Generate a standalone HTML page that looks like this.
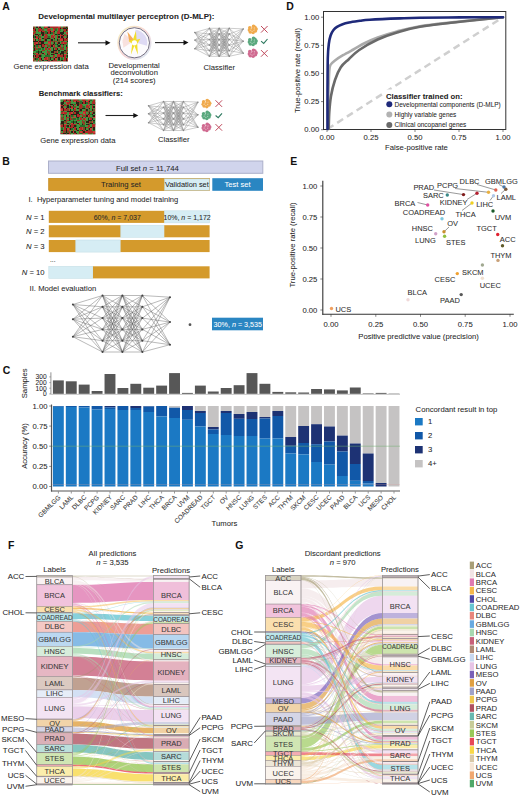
<!DOCTYPE html>
<html><head><meta charset="utf-8"><style>html,body{margin:0;padding:0;background:#fff;width:520px;height:797px;overflow:hidden}svg{display:block}text{font-family:"Liberation Sans",sans-serif;stroke:#2a2a2a;stroke-width:0.05px} text.w{stroke:#fff}</style></head>
<body><svg width="520" height="797" viewBox="0 0 520 797" font-family="Liberation Sans, sans-serif">
<defs>
<pattern id="hm" patternUnits="userSpaceOnUse" x="0" y="0" width="35" height="35"><path fill="#b02c26" shape-rendering="crispEdges" d="M0.00,0.00h1.49v1.49h-1.49zM0.00,7.29h1.49v1.49h-1.49zM0.00,8.75h1.49v1.49h-1.49zM0.00,11.67h1.49v1.49h-1.49zM0.00,13.12h1.49v1.49h-1.49zM0.00,21.88h1.49v1.49h-1.49zM0.00,30.62h1.49v1.49h-1.49zM1.46,1.46h1.49v1.49h-1.49zM1.46,18.96h1.49v1.49h-1.49zM1.46,20.42h1.49v1.49h-1.49zM1.46,21.88h1.49v1.49h-1.49zM2.92,10.21h1.49v1.49h-1.49zM2.92,18.96h1.49v1.49h-1.49zM2.92,24.79h1.49v1.49h-1.49zM2.92,29.17h1.49v1.49h-1.49zM2.92,33.54h1.49v1.49h-1.49zM4.38,4.38h1.49v1.49h-1.49zM4.38,7.29h1.49v1.49h-1.49zM4.38,18.96h1.49v1.49h-1.49zM4.38,21.88h1.49v1.49h-1.49zM4.38,23.33h1.49v1.49h-1.49zM4.38,27.71h1.49v1.49h-1.49zM4.38,29.17h1.49v1.49h-1.49zM5.83,17.50h1.49v1.49h-1.49zM5.83,24.79h1.49v1.49h-1.49zM5.83,29.17h1.49v1.49h-1.49zM5.83,33.54h1.49v1.49h-1.49zM7.29,8.75h1.49v1.49h-1.49zM7.29,10.21h1.49v1.49h-1.49zM7.29,14.58h1.49v1.49h-1.49zM7.29,30.62h1.49v1.49h-1.49zM8.75,1.46h1.49v1.49h-1.49zM8.75,4.38h1.49v1.49h-1.49zM8.75,5.83h1.49v1.49h-1.49zM8.75,10.21h1.49v1.49h-1.49zM8.75,18.96h1.49v1.49h-1.49zM8.75,26.25h1.49v1.49h-1.49zM8.75,27.71h1.49v1.49h-1.49zM8.75,30.62h1.49v1.49h-1.49zM10.21,0.00h1.49v1.49h-1.49zM10.21,1.46h1.49v1.49h-1.49zM10.21,8.75h1.49v1.49h-1.49zM10.21,13.12h1.49v1.49h-1.49zM10.21,21.88h1.49v1.49h-1.49zM10.21,23.33h1.49v1.49h-1.49zM10.21,33.54h1.49v1.49h-1.49zM11.67,8.75h1.49v1.49h-1.49zM11.67,10.21h1.49v1.49h-1.49zM11.67,16.04h1.49v1.49h-1.49zM11.67,26.25h1.49v1.49h-1.49zM11.67,29.17h1.49v1.49h-1.49zM13.12,5.83h1.49v1.49h-1.49zM13.12,13.12h1.49v1.49h-1.49zM13.12,17.50h1.49v1.49h-1.49zM13.12,24.79h1.49v1.49h-1.49zM13.12,29.17h1.49v1.49h-1.49zM13.12,30.62h1.49v1.49h-1.49zM13.12,32.08h1.49v1.49h-1.49zM14.58,4.38h1.49v1.49h-1.49zM14.58,5.83h1.49v1.49h-1.49zM14.58,7.29h1.49v1.49h-1.49zM14.58,8.75h1.49v1.49h-1.49zM14.58,10.21h1.49v1.49h-1.49zM14.58,14.58h1.49v1.49h-1.49zM14.58,26.25h1.49v1.49h-1.49zM14.58,29.17h1.49v1.49h-1.49zM16.04,0.00h1.49v1.49h-1.49zM16.04,1.46h1.49v1.49h-1.49zM16.04,21.88h1.49v1.49h-1.49zM16.04,26.25h1.49v1.49h-1.49zM17.50,2.92h1.49v1.49h-1.49zM17.50,5.83h1.49v1.49h-1.49zM17.50,17.50h1.49v1.49h-1.49zM17.50,20.42h1.49v1.49h-1.49zM17.50,21.88h1.49v1.49h-1.49zM17.50,24.79h1.49v1.49h-1.49zM17.50,26.25h1.49v1.49h-1.49zM17.50,27.71h1.49v1.49h-1.49zM17.50,30.62h1.49v1.49h-1.49zM17.50,32.08h1.49v1.49h-1.49zM18.96,0.00h1.49v1.49h-1.49zM18.96,10.21h1.49v1.49h-1.49zM18.96,16.04h1.49v1.49h-1.49zM18.96,20.42h1.49v1.49h-1.49zM18.96,26.25h1.49v1.49h-1.49zM18.96,27.71h1.49v1.49h-1.49zM18.96,29.17h1.49v1.49h-1.49zM20.42,5.83h1.49v1.49h-1.49zM20.42,13.12h1.49v1.49h-1.49zM20.42,24.79h1.49v1.49h-1.49zM20.42,26.25h1.49v1.49h-1.49zM21.88,0.00h1.49v1.49h-1.49zM21.88,1.46h1.49v1.49h-1.49zM21.88,2.92h1.49v1.49h-1.49zM21.88,7.29h1.49v1.49h-1.49zM21.88,18.96h1.49v1.49h-1.49zM21.88,20.42h1.49v1.49h-1.49zM21.88,21.88h1.49v1.49h-1.49zM21.88,26.25h1.49v1.49h-1.49zM21.88,32.08h1.49v1.49h-1.49zM23.33,18.96h1.49v1.49h-1.49zM23.33,20.42h1.49v1.49h-1.49zM23.33,27.71h1.49v1.49h-1.49zM23.33,29.17h1.49v1.49h-1.49zM23.33,30.62h1.49v1.49h-1.49zM23.33,32.08h1.49v1.49h-1.49zM24.79,2.92h1.49v1.49h-1.49zM24.79,10.21h1.49v1.49h-1.49zM24.79,11.67h1.49v1.49h-1.49zM24.79,20.42h1.49v1.49h-1.49zM24.79,26.25h1.49v1.49h-1.49zM24.79,33.54h1.49v1.49h-1.49zM26.25,0.00h1.49v1.49h-1.49zM26.25,2.92h1.49v1.49h-1.49zM26.25,7.29h1.49v1.49h-1.49zM26.25,20.42h1.49v1.49h-1.49zM26.25,27.71h1.49v1.49h-1.49zM27.71,1.46h1.49v1.49h-1.49zM27.71,5.83h1.49v1.49h-1.49zM27.71,10.21h1.49v1.49h-1.49zM27.71,13.12h1.49v1.49h-1.49zM27.71,24.79h1.49v1.49h-1.49zM27.71,26.25h1.49v1.49h-1.49zM29.17,0.00h1.49v1.49h-1.49zM29.17,4.38h1.49v1.49h-1.49zM29.17,7.29h1.49v1.49h-1.49zM29.17,20.42h1.49v1.49h-1.49zM29.17,21.88h1.49v1.49h-1.49zM29.17,23.33h1.49v1.49h-1.49zM29.17,24.79h1.49v1.49h-1.49zM29.17,29.17h1.49v1.49h-1.49zM29.17,30.62h1.49v1.49h-1.49zM30.62,4.38h1.49v1.49h-1.49zM30.62,7.29h1.49v1.49h-1.49zM30.62,11.67h1.49v1.49h-1.49zM30.62,13.12h1.49v1.49h-1.49zM30.62,16.04h1.49v1.49h-1.49zM32.08,2.92h1.49v1.49h-1.49zM32.08,11.67h1.49v1.49h-1.49zM32.08,14.58h1.49v1.49h-1.49zM32.08,24.79h1.49v1.49h-1.49zM32.08,29.17h1.49v1.49h-1.49zM32.08,32.08h1.49v1.49h-1.49zM32.08,33.54h1.49v1.49h-1.49zM33.54,7.29h1.49v1.49h-1.49zM33.54,26.25h1.49v1.49h-1.49zM33.54,27.71h1.49v1.49h-1.49zM33.54,29.17h1.49v1.49h-1.49zM33.54,30.62h1.49v1.49h-1.49zM33.54,32.08h1.49v1.49h-1.49z"/><path fill="#43983f" shape-rendering="crispEdges" d="M0.00,2.92h1.49v1.49h-1.49zM0.00,16.04h1.49v1.49h-1.49zM0.00,18.96h1.49v1.49h-1.49zM0.00,26.25h1.49v1.49h-1.49zM1.46,0.00h1.49v1.49h-1.49zM1.46,4.38h1.49v1.49h-1.49zM1.46,11.67h1.49v1.49h-1.49zM1.46,14.58h1.49v1.49h-1.49zM1.46,24.79h1.49v1.49h-1.49zM1.46,27.71h1.49v1.49h-1.49zM1.46,29.17h1.49v1.49h-1.49zM1.46,30.62h1.49v1.49h-1.49zM1.46,32.08h1.49v1.49h-1.49zM2.92,23.33h1.49v1.49h-1.49zM2.92,32.08h1.49v1.49h-1.49zM4.38,0.00h1.49v1.49h-1.49zM4.38,10.21h1.49v1.49h-1.49zM4.38,14.58h1.49v1.49h-1.49zM4.38,17.50h1.49v1.49h-1.49zM4.38,24.79h1.49v1.49h-1.49zM4.38,32.08h1.49v1.49h-1.49zM5.83,1.46h1.49v1.49h-1.49zM5.83,2.92h1.49v1.49h-1.49zM5.83,4.38h1.49v1.49h-1.49zM5.83,13.12h1.49v1.49h-1.49zM5.83,14.58h1.49v1.49h-1.49zM5.83,18.96h1.49v1.49h-1.49zM5.83,21.88h1.49v1.49h-1.49zM5.83,26.25h1.49v1.49h-1.49zM7.29,1.46h1.49v1.49h-1.49zM7.29,4.38h1.49v1.49h-1.49zM7.29,16.04h1.49v1.49h-1.49zM7.29,18.96h1.49v1.49h-1.49zM7.29,20.42h1.49v1.49h-1.49zM7.29,21.88h1.49v1.49h-1.49zM7.29,23.33h1.49v1.49h-1.49zM7.29,26.25h1.49v1.49h-1.49zM7.29,27.71h1.49v1.49h-1.49zM8.75,0.00h1.49v1.49h-1.49zM8.75,7.29h1.49v1.49h-1.49zM8.75,11.67h1.49v1.49h-1.49zM8.75,13.12h1.49v1.49h-1.49zM8.75,16.04h1.49v1.49h-1.49zM8.75,20.42h1.49v1.49h-1.49zM8.75,24.79h1.49v1.49h-1.49zM8.75,29.17h1.49v1.49h-1.49zM10.21,7.29h1.49v1.49h-1.49zM10.21,10.21h1.49v1.49h-1.49zM10.21,14.58h1.49v1.49h-1.49zM10.21,16.04h1.49v1.49h-1.49zM10.21,17.50h1.49v1.49h-1.49zM10.21,18.96h1.49v1.49h-1.49zM10.21,29.17h1.49v1.49h-1.49zM11.67,4.38h1.49v1.49h-1.49zM11.67,5.83h1.49v1.49h-1.49zM11.67,7.29h1.49v1.49h-1.49zM11.67,13.12h1.49v1.49h-1.49zM11.67,30.62h1.49v1.49h-1.49zM11.67,33.54h1.49v1.49h-1.49zM13.12,0.00h1.49v1.49h-1.49zM13.12,4.38h1.49v1.49h-1.49zM13.12,8.75h1.49v1.49h-1.49zM13.12,11.67h1.49v1.49h-1.49zM13.12,14.58h1.49v1.49h-1.49zM13.12,33.54h1.49v1.49h-1.49zM14.58,0.00h1.49v1.49h-1.49zM14.58,1.46h1.49v1.49h-1.49zM14.58,16.04h1.49v1.49h-1.49zM14.58,17.50h1.49v1.49h-1.49zM14.58,18.96h1.49v1.49h-1.49zM14.58,20.42h1.49v1.49h-1.49zM14.58,24.79h1.49v1.49h-1.49zM14.58,27.71h1.49v1.49h-1.49zM14.58,33.54h1.49v1.49h-1.49zM16.04,2.92h1.49v1.49h-1.49zM16.04,7.29h1.49v1.49h-1.49zM16.04,11.67h1.49v1.49h-1.49zM16.04,13.12h1.49v1.49h-1.49zM16.04,14.58h1.49v1.49h-1.49zM16.04,17.50h1.49v1.49h-1.49zM16.04,20.42h1.49v1.49h-1.49zM16.04,23.33h1.49v1.49h-1.49zM16.04,27.71h1.49v1.49h-1.49zM16.04,29.17h1.49v1.49h-1.49zM16.04,33.54h1.49v1.49h-1.49zM17.50,4.38h1.49v1.49h-1.49zM18.96,13.12h1.49v1.49h-1.49zM18.96,21.88h1.49v1.49h-1.49zM18.96,33.54h1.49v1.49h-1.49zM20.42,0.00h1.49v1.49h-1.49zM20.42,1.46h1.49v1.49h-1.49zM20.42,2.92h1.49v1.49h-1.49zM20.42,4.38h1.49v1.49h-1.49zM20.42,7.29h1.49v1.49h-1.49zM20.42,10.21h1.49v1.49h-1.49zM20.42,18.96h1.49v1.49h-1.49zM20.42,20.42h1.49v1.49h-1.49zM20.42,30.62h1.49v1.49h-1.49zM20.42,32.08h1.49v1.49h-1.49zM21.88,5.83h1.49v1.49h-1.49zM21.88,11.67h1.49v1.49h-1.49zM21.88,14.58h1.49v1.49h-1.49zM21.88,23.33h1.49v1.49h-1.49zM21.88,24.79h1.49v1.49h-1.49zM21.88,27.71h1.49v1.49h-1.49zM21.88,29.17h1.49v1.49h-1.49zM23.33,0.00h1.49v1.49h-1.49zM23.33,2.92h1.49v1.49h-1.49zM23.33,8.75h1.49v1.49h-1.49zM23.33,13.12h1.49v1.49h-1.49zM23.33,17.50h1.49v1.49h-1.49zM24.79,5.83h1.49v1.49h-1.49zM24.79,7.29h1.49v1.49h-1.49zM24.79,14.58h1.49v1.49h-1.49zM24.79,16.04h1.49v1.49h-1.49zM24.79,21.88h1.49v1.49h-1.49zM24.79,23.33h1.49v1.49h-1.49zM24.79,24.79h1.49v1.49h-1.49zM24.79,30.62h1.49v1.49h-1.49zM26.25,10.21h1.49v1.49h-1.49zM26.25,14.58h1.49v1.49h-1.49zM26.25,26.25h1.49v1.49h-1.49zM26.25,29.17h1.49v1.49h-1.49zM26.25,30.62h1.49v1.49h-1.49zM27.71,14.58h1.49v1.49h-1.49zM27.71,21.88h1.49v1.49h-1.49zM27.71,23.33h1.49v1.49h-1.49zM27.71,33.54h1.49v1.49h-1.49zM29.17,1.46h1.49v1.49h-1.49zM29.17,5.83h1.49v1.49h-1.49zM29.17,10.21h1.49v1.49h-1.49zM29.17,11.67h1.49v1.49h-1.49zM29.17,13.12h1.49v1.49h-1.49zM29.17,17.50h1.49v1.49h-1.49zM29.17,32.08h1.49v1.49h-1.49zM30.62,5.83h1.49v1.49h-1.49zM30.62,8.75h1.49v1.49h-1.49zM30.62,21.88h1.49v1.49h-1.49zM30.62,30.62h1.49v1.49h-1.49zM30.62,33.54h1.49v1.49h-1.49zM32.08,7.29h1.49v1.49h-1.49zM32.08,8.75h1.49v1.49h-1.49zM32.08,10.21h1.49v1.49h-1.49zM32.08,13.12h1.49v1.49h-1.49zM32.08,16.04h1.49v1.49h-1.49zM32.08,18.96h1.49v1.49h-1.49zM32.08,30.62h1.49v1.49h-1.49zM33.54,0.00h1.49v1.49h-1.49zM33.54,2.92h1.49v1.49h-1.49zM33.54,16.04h1.49v1.49h-1.49zM33.54,21.88h1.49v1.49h-1.49zM33.54,24.79h1.49v1.49h-1.49zM33.54,33.54h1.49v1.49h-1.49z"/><path fill="#2c2418" shape-rendering="crispEdges" d="M0.00,1.46h1.49v1.49h-1.49zM0.00,4.38h1.49v1.49h-1.49zM0.00,5.83h1.49v1.49h-1.49zM0.00,20.42h1.49v1.49h-1.49zM0.00,23.33h1.49v1.49h-1.49zM0.00,29.17h1.49v1.49h-1.49zM0.00,33.54h1.49v1.49h-1.49zM1.46,5.83h1.49v1.49h-1.49zM1.46,8.75h1.49v1.49h-1.49zM1.46,26.25h1.49v1.49h-1.49zM1.46,33.54h1.49v1.49h-1.49zM2.92,0.00h1.49v1.49h-1.49zM2.92,2.92h1.49v1.49h-1.49zM2.92,8.75h1.49v1.49h-1.49zM2.92,16.04h1.49v1.49h-1.49zM2.92,17.50h1.49v1.49h-1.49zM2.92,21.88h1.49v1.49h-1.49zM4.38,5.83h1.49v1.49h-1.49zM4.38,8.75h1.49v1.49h-1.49zM4.38,20.42h1.49v1.49h-1.49zM4.38,26.25h1.49v1.49h-1.49zM5.83,5.83h1.49v1.49h-1.49zM5.83,7.29h1.49v1.49h-1.49zM5.83,8.75h1.49v1.49h-1.49zM5.83,10.21h1.49v1.49h-1.49zM5.83,16.04h1.49v1.49h-1.49zM5.83,23.33h1.49v1.49h-1.49zM5.83,27.71h1.49v1.49h-1.49zM5.83,30.62h1.49v1.49h-1.49zM5.83,32.08h1.49v1.49h-1.49zM7.29,0.00h1.49v1.49h-1.49zM7.29,2.92h1.49v1.49h-1.49zM7.29,5.83h1.49v1.49h-1.49zM7.29,7.29h1.49v1.49h-1.49zM7.29,11.67h1.49v1.49h-1.49zM7.29,17.50h1.49v1.49h-1.49zM7.29,24.79h1.49v1.49h-1.49zM7.29,32.08h1.49v1.49h-1.49zM7.29,33.54h1.49v1.49h-1.49zM8.75,8.75h1.49v1.49h-1.49zM8.75,21.88h1.49v1.49h-1.49zM10.21,4.38h1.49v1.49h-1.49zM11.67,2.92h1.49v1.49h-1.49zM11.67,11.67h1.49v1.49h-1.49zM11.67,18.96h1.49v1.49h-1.49zM11.67,24.79h1.49v1.49h-1.49zM11.67,32.08h1.49v1.49h-1.49zM13.12,2.92h1.49v1.49h-1.49zM13.12,26.25h1.49v1.49h-1.49zM14.58,21.88h1.49v1.49h-1.49zM14.58,23.33h1.49v1.49h-1.49zM14.58,30.62h1.49v1.49h-1.49zM14.58,32.08h1.49v1.49h-1.49zM16.04,4.38h1.49v1.49h-1.49zM16.04,10.21h1.49v1.49h-1.49zM16.04,16.04h1.49v1.49h-1.49zM16.04,18.96h1.49v1.49h-1.49zM16.04,24.79h1.49v1.49h-1.49zM17.50,8.75h1.49v1.49h-1.49zM17.50,13.12h1.49v1.49h-1.49zM17.50,14.58h1.49v1.49h-1.49zM17.50,16.04h1.49v1.49h-1.49zM17.50,18.96h1.49v1.49h-1.49zM18.96,2.92h1.49v1.49h-1.49zM18.96,7.29h1.49v1.49h-1.49zM18.96,14.58h1.49v1.49h-1.49zM18.96,23.33h1.49v1.49h-1.49zM18.96,30.62h1.49v1.49h-1.49zM20.42,14.58h1.49v1.49h-1.49zM20.42,17.50h1.49v1.49h-1.49zM20.42,21.88h1.49v1.49h-1.49zM20.42,33.54h1.49v1.49h-1.49zM21.88,4.38h1.49v1.49h-1.49zM21.88,8.75h1.49v1.49h-1.49zM21.88,13.12h1.49v1.49h-1.49zM21.88,17.50h1.49v1.49h-1.49zM23.33,1.46h1.49v1.49h-1.49zM23.33,7.29h1.49v1.49h-1.49zM23.33,10.21h1.49v1.49h-1.49zM23.33,14.58h1.49v1.49h-1.49zM23.33,21.88h1.49v1.49h-1.49zM23.33,23.33h1.49v1.49h-1.49zM23.33,33.54h1.49v1.49h-1.49zM24.79,8.75h1.49v1.49h-1.49zM24.79,17.50h1.49v1.49h-1.49zM24.79,18.96h1.49v1.49h-1.49zM24.79,27.71h1.49v1.49h-1.49zM24.79,32.08h1.49v1.49h-1.49zM26.25,1.46h1.49v1.49h-1.49zM26.25,16.04h1.49v1.49h-1.49zM26.25,17.50h1.49v1.49h-1.49zM26.25,24.79h1.49v1.49h-1.49zM26.25,32.08h1.49v1.49h-1.49zM26.25,33.54h1.49v1.49h-1.49zM27.71,0.00h1.49v1.49h-1.49zM27.71,2.92h1.49v1.49h-1.49zM27.71,4.38h1.49v1.49h-1.49zM27.71,8.75h1.49v1.49h-1.49zM27.71,16.04h1.49v1.49h-1.49zM27.71,17.50h1.49v1.49h-1.49zM27.71,18.96h1.49v1.49h-1.49zM27.71,20.42h1.49v1.49h-1.49zM27.71,27.71h1.49v1.49h-1.49zM27.71,30.62h1.49v1.49h-1.49zM27.71,32.08h1.49v1.49h-1.49zM29.17,14.58h1.49v1.49h-1.49zM29.17,27.71h1.49v1.49h-1.49zM30.62,2.92h1.49v1.49h-1.49zM30.62,10.21h1.49v1.49h-1.49zM30.62,23.33h1.49v1.49h-1.49zM30.62,24.79h1.49v1.49h-1.49zM30.62,26.25h1.49v1.49h-1.49zM30.62,29.17h1.49v1.49h-1.49zM32.08,0.00h1.49v1.49h-1.49zM32.08,1.46h1.49v1.49h-1.49zM32.08,5.83h1.49v1.49h-1.49zM32.08,17.50h1.49v1.49h-1.49zM32.08,20.42h1.49v1.49h-1.49zM32.08,27.71h1.49v1.49h-1.49zM33.54,5.83h1.49v1.49h-1.49zM33.54,10.21h1.49v1.49h-1.49zM33.54,13.12h1.49v1.49h-1.49zM33.54,14.58h1.49v1.49h-1.49z"/><path fill="#6e5428" shape-rendering="crispEdges" d="M0.00,10.21h1.49v1.49h-1.49zM0.00,17.50h1.49v1.49h-1.49zM0.00,27.71h1.49v1.49h-1.49zM0.00,32.08h1.49v1.49h-1.49zM1.46,13.12h1.49v1.49h-1.49zM2.92,20.42h1.49v1.49h-1.49zM2.92,30.62h1.49v1.49h-1.49zM4.38,1.46h1.49v1.49h-1.49zM7.29,29.17h1.49v1.49h-1.49zM8.75,2.92h1.49v1.49h-1.49zM8.75,14.58h1.49v1.49h-1.49zM8.75,32.08h1.49v1.49h-1.49zM8.75,33.54h1.49v1.49h-1.49zM10.21,2.92h1.49v1.49h-1.49zM10.21,5.83h1.49v1.49h-1.49zM10.21,11.67h1.49v1.49h-1.49zM11.67,0.00h1.49v1.49h-1.49zM11.67,1.46h1.49v1.49h-1.49zM11.67,14.58h1.49v1.49h-1.49zM11.67,27.71h1.49v1.49h-1.49zM13.12,10.21h1.49v1.49h-1.49zM13.12,16.04h1.49v1.49h-1.49zM13.12,18.96h1.49v1.49h-1.49zM13.12,21.88h1.49v1.49h-1.49zM13.12,23.33h1.49v1.49h-1.49zM14.58,2.92h1.49v1.49h-1.49zM16.04,5.83h1.49v1.49h-1.49zM16.04,8.75h1.49v1.49h-1.49zM17.50,1.46h1.49v1.49h-1.49zM17.50,7.29h1.49v1.49h-1.49zM17.50,11.67h1.49v1.49h-1.49zM17.50,23.33h1.49v1.49h-1.49zM18.96,4.38h1.49v1.49h-1.49zM18.96,8.75h1.49v1.49h-1.49zM18.96,11.67h1.49v1.49h-1.49zM18.96,17.50h1.49v1.49h-1.49zM18.96,24.79h1.49v1.49h-1.49zM18.96,32.08h1.49v1.49h-1.49zM20.42,11.67h1.49v1.49h-1.49zM20.42,16.04h1.49v1.49h-1.49zM20.42,27.71h1.49v1.49h-1.49zM21.88,30.62h1.49v1.49h-1.49zM23.33,4.38h1.49v1.49h-1.49zM23.33,5.83h1.49v1.49h-1.49zM24.79,13.12h1.49v1.49h-1.49zM26.25,11.67h1.49v1.49h-1.49zM26.25,13.12h1.49v1.49h-1.49zM26.25,18.96h1.49v1.49h-1.49zM26.25,21.88h1.49v1.49h-1.49zM27.71,29.17h1.49v1.49h-1.49zM29.17,8.75h1.49v1.49h-1.49zM29.17,16.04h1.49v1.49h-1.49zM29.17,26.25h1.49v1.49h-1.49zM29.17,33.54h1.49v1.49h-1.49zM30.62,0.00h1.49v1.49h-1.49zM30.62,1.46h1.49v1.49h-1.49zM30.62,14.58h1.49v1.49h-1.49zM30.62,17.50h1.49v1.49h-1.49zM32.08,4.38h1.49v1.49h-1.49zM32.08,26.25h1.49v1.49h-1.49zM33.54,17.50h1.49v1.49h-1.49zM33.54,23.33h1.49v1.49h-1.49z"/><path fill="#cc3e34" shape-rendering="crispEdges" d="M0.00,24.79h1.49v1.49h-1.49zM1.46,2.92h1.49v1.49h-1.49zM1.46,7.29h1.49v1.49h-1.49zM1.46,17.50h1.49v1.49h-1.49zM2.92,5.83h1.49v1.49h-1.49zM2.92,11.67h1.49v1.49h-1.49zM2.92,26.25h1.49v1.49h-1.49zM4.38,2.92h1.49v1.49h-1.49zM4.38,11.67h1.49v1.49h-1.49zM4.38,30.62h1.49v1.49h-1.49zM5.83,0.00h1.49v1.49h-1.49zM8.75,17.50h1.49v1.49h-1.49zM8.75,23.33h1.49v1.49h-1.49zM10.21,26.25h1.49v1.49h-1.49zM11.67,21.88h1.49v1.49h-1.49zM11.67,23.33h1.49v1.49h-1.49zM13.12,7.29h1.49v1.49h-1.49zM13.12,27.71h1.49v1.49h-1.49zM14.58,13.12h1.49v1.49h-1.49zM16.04,30.62h1.49v1.49h-1.49zM17.50,0.00h1.49v1.49h-1.49zM17.50,10.21h1.49v1.49h-1.49zM17.50,29.17h1.49v1.49h-1.49zM17.50,33.54h1.49v1.49h-1.49zM18.96,1.46h1.49v1.49h-1.49zM20.42,23.33h1.49v1.49h-1.49zM21.88,16.04h1.49v1.49h-1.49zM23.33,11.67h1.49v1.49h-1.49zM23.33,26.25h1.49v1.49h-1.49zM24.79,0.00h1.49v1.49h-1.49zM24.79,1.46h1.49v1.49h-1.49zM24.79,4.38h1.49v1.49h-1.49zM26.25,4.38h1.49v1.49h-1.49zM27.71,7.29h1.49v1.49h-1.49zM29.17,2.92h1.49v1.49h-1.49zM29.17,18.96h1.49v1.49h-1.49zM30.62,18.96h1.49v1.49h-1.49zM30.62,32.08h1.49v1.49h-1.49zM32.08,23.33h1.49v1.49h-1.49zM33.54,4.38h1.49v1.49h-1.49zM33.54,8.75h1.49v1.49h-1.49zM33.54,20.42h1.49v1.49h-1.49z"/><path fill="#2c6e2c" shape-rendering="crispEdges" d="M0.00,14.58h1.49v1.49h-1.49zM1.46,10.21h1.49v1.49h-1.49zM1.46,16.04h1.49v1.49h-1.49zM1.46,23.33h1.49v1.49h-1.49zM2.92,1.46h1.49v1.49h-1.49zM2.92,4.38h1.49v1.49h-1.49zM2.92,7.29h1.49v1.49h-1.49zM2.92,13.12h1.49v1.49h-1.49zM2.92,14.58h1.49v1.49h-1.49zM2.92,27.71h1.49v1.49h-1.49zM4.38,13.12h1.49v1.49h-1.49zM4.38,16.04h1.49v1.49h-1.49zM4.38,33.54h1.49v1.49h-1.49zM5.83,11.67h1.49v1.49h-1.49zM5.83,20.42h1.49v1.49h-1.49zM7.29,13.12h1.49v1.49h-1.49zM10.21,20.42h1.49v1.49h-1.49zM10.21,24.79h1.49v1.49h-1.49zM10.21,27.71h1.49v1.49h-1.49zM10.21,30.62h1.49v1.49h-1.49zM10.21,32.08h1.49v1.49h-1.49zM11.67,17.50h1.49v1.49h-1.49zM11.67,20.42h1.49v1.49h-1.49zM13.12,1.46h1.49v1.49h-1.49zM13.12,20.42h1.49v1.49h-1.49zM14.58,11.67h1.49v1.49h-1.49zM16.04,32.08h1.49v1.49h-1.49zM18.96,5.83h1.49v1.49h-1.49zM18.96,18.96h1.49v1.49h-1.49zM20.42,8.75h1.49v1.49h-1.49zM20.42,29.17h1.49v1.49h-1.49zM21.88,10.21h1.49v1.49h-1.49zM21.88,33.54h1.49v1.49h-1.49zM23.33,16.04h1.49v1.49h-1.49zM23.33,24.79h1.49v1.49h-1.49zM24.79,29.17h1.49v1.49h-1.49zM26.25,5.83h1.49v1.49h-1.49zM26.25,8.75h1.49v1.49h-1.49zM26.25,23.33h1.49v1.49h-1.49zM27.71,11.67h1.49v1.49h-1.49zM30.62,20.42h1.49v1.49h-1.49zM30.62,27.71h1.49v1.49h-1.49zM32.08,21.88h1.49v1.49h-1.49zM33.54,1.46h1.49v1.49h-1.49zM33.54,11.67h1.49v1.49h-1.49zM33.54,18.96h1.49v1.49h-1.49z"/></pattern>
<filter id="bl" x="-0.05" y="-0.05" width="1.1" height="1.1"><feGaussianBlur stdDeviation="0.35"/></filter>
<linearGradient id="glow" x1="0" y1="0" x2="1" y2="1"><stop offset="0" stop-color="#e8e070"/><stop offset="0.5" stop-color="#f0a0a0"/><stop offset="1" stop-color="#a0d0f0"/></linearGradient>
</defs>
<text x="2.2" y="9.6" font-size="10.45" font-weight="bold" fill="#111">A</text>
<text x="38.2" y="19.4" font-size="7.99" font-weight="bold" fill="#222">Developmental multilayer perceptron (D-MLP):</text>
<rect x="33" y="26.5" width="35" height="35" fill="url(#hm)" filter="url(#bl)"/>
<text x="51.1" y="69.2" font-size="7.69" text-anchor="middle" fill="#262626">Gene expression data</text>
<line x1="78.0" y1="42.8" x2="106.5" y2="42.8" stroke="#222" stroke-width="1.1"/>
<path d="M105.5,40.2 L110.5,42.8 L105.5,45.4 Z" fill="#111"/>
<g transform="translate(134.4,42.8)">
<circle r="16.3" fill="none" stroke="url(#glow)" stroke-width="1.6" opacity="0.45"/>
<circle r="15.1" fill="#fcfbfd" stroke="#4e4860" stroke-width="0.8"/>
<path d="M1,-13 A13,13 0 0 1 12.5,3 L2,0 Z" fill="#d8d4f2" opacity="0.85"/>
<path d="M-12,-3 L-2,-1 L-11,5 Z M-10,-9 L-2,-2 L-12,0 Z" fill="#f6d6d0" opacity="0.7"/>
<path d="M-7,-11 L-0.5,-3 L-5,-1 Z" fill="#f4a040" opacity="0.85"/>
<path d="M1.5,-12 L2.2,-3 L6,-4 L2.8,1 L3.5,12 L0,3 L-3.5,12 L-2.2,1 L-6,-2 L-1.5,-3 Z" fill="#f2de2a"/>
<circle r="2.6" fill="#fff"/>
</g>
<text x="134.2" y="67.7" font-size="7.69" text-anchor="middle" fill="#262626">Developmental</text>
<text x="134.2" y="75.4" font-size="7.69" text-anchor="middle" fill="#262626">deconvolution</text>
<text x="134.2" y="83.1" font-size="7.69" text-anchor="middle" fill="#262626">(214 scores)</text>
<line x1="155.0" y1="42.6" x2="184.5" y2="42.6" stroke="#222" stroke-width="1.1"/>
<path d="M183.5,40.0 L188.5,42.6 L183.5,45.2 Z" fill="#111"/>
<path d="M194.8,32.5L209.4,28.3M194.8,32.5L209.4,33.9M194.8,32.5L209.4,39.5M194.8,32.5L209.4,45.1M194.8,32.5L209.4,50.7M194.8,32.5L209.4,56.3M194.8,40.1L209.4,28.3M194.8,40.1L209.4,33.9M194.8,40.1L209.4,39.5M194.8,40.1L209.4,45.1M194.8,40.1L209.4,50.7M194.8,40.1L209.4,56.3M194.8,48.7L209.4,28.3M194.8,48.7L209.4,33.9M194.8,48.7L209.4,39.5M194.8,48.7L209.4,45.1M194.8,48.7L209.4,50.7M194.8,48.7L209.4,56.3M209.4,28.3L219.2,28.3M209.4,28.3L219.2,33.9M209.4,28.3L219.2,39.5M209.4,28.3L219.2,45.1M209.4,28.3L219.2,50.7M209.4,28.3L219.2,56.3M209.4,33.9L219.2,28.3M209.4,33.9L219.2,33.9M209.4,33.9L219.2,39.5M209.4,33.9L219.2,45.1M209.4,33.9L219.2,50.7M209.4,33.9L219.2,56.3M209.4,39.5L219.2,28.3M209.4,39.5L219.2,33.9M209.4,39.5L219.2,39.5M209.4,39.5L219.2,45.1M209.4,39.5L219.2,50.7M209.4,39.5L219.2,56.3M209.4,45.1L219.2,28.3M209.4,45.1L219.2,33.9M209.4,45.1L219.2,39.5M209.4,45.1L219.2,45.1M209.4,45.1L219.2,50.7M209.4,45.1L219.2,56.3M209.4,50.7L219.2,28.3M209.4,50.7L219.2,33.9M209.4,50.7L219.2,39.5M209.4,50.7L219.2,45.1M209.4,50.7L219.2,50.7M209.4,50.7L219.2,56.3M209.4,56.3L219.2,28.3M209.4,56.3L219.2,33.9M209.4,56.3L219.2,39.5M209.4,56.3L219.2,45.1M209.4,56.3L219.2,50.7M209.4,56.3L219.2,56.3M219.2,28.3L229.3,28.3M219.2,28.3L229.3,33.9M219.2,28.3L229.3,39.5M219.2,28.3L229.3,45.1M219.2,28.3L229.3,50.7M219.2,28.3L229.3,56.3M219.2,33.9L229.3,28.3M219.2,33.9L229.3,33.9M219.2,33.9L229.3,39.5M219.2,33.9L229.3,45.1M219.2,33.9L229.3,50.7M219.2,33.9L229.3,56.3M219.2,39.5L229.3,28.3M219.2,39.5L229.3,33.9M219.2,39.5L229.3,39.5M219.2,39.5L229.3,45.1M219.2,39.5L229.3,50.7M219.2,39.5L229.3,56.3M219.2,45.1L229.3,28.3M219.2,45.1L229.3,33.9M219.2,45.1L229.3,39.5M219.2,45.1L229.3,45.1M219.2,45.1L229.3,50.7M219.2,45.1L229.3,56.3M219.2,50.7L229.3,28.3M219.2,50.7L229.3,33.9M219.2,50.7L229.3,39.5M219.2,50.7L229.3,45.1M219.2,50.7L229.3,50.7M219.2,50.7L229.3,56.3M219.2,56.3L229.3,28.3M219.2,56.3L229.3,33.9M219.2,56.3L229.3,39.5M219.2,56.3L229.3,45.1M219.2,56.3L229.3,50.7M219.2,56.3L229.3,56.3M229.3,28.3L243.3,28.9M229.3,28.3L243.3,41.2M229.3,28.3L243.3,53.2M229.3,33.9L243.3,28.9M229.3,33.9L243.3,41.2M229.3,33.9L243.3,53.2M229.3,39.5L243.3,28.9M229.3,39.5L243.3,41.2M229.3,39.5L243.3,53.2M229.3,45.1L243.3,28.9M229.3,45.1L243.3,41.2M229.3,45.1L243.3,53.2M229.3,50.7L243.3,28.9M229.3,50.7L243.3,41.2M229.3,50.7L243.3,53.2M229.3,56.3L243.3,28.9M229.3,56.3L243.3,41.2M229.3,56.3L243.3,53.2" stroke="#8c8c8c" stroke-width="0.45" fill="none"/>
<g fill="#888"><circle cx="194.8" cy="32.5" r="0.7"/><circle cx="194.8" cy="40.1" r="0.7"/><circle cx="194.8" cy="48.7" r="0.7"/><circle cx="209.4" cy="28.3" r="0.7"/><circle cx="209.4" cy="33.9" r="0.7"/><circle cx="209.4" cy="39.5" r="0.7"/><circle cx="209.4" cy="45.1" r="0.7"/><circle cx="209.4" cy="50.7" r="0.7"/><circle cx="209.4" cy="56.3" r="0.7"/><circle cx="219.2" cy="28.3" r="0.7"/><circle cx="219.2" cy="33.9" r="0.7"/><circle cx="219.2" cy="39.5" r="0.7"/><circle cx="219.2" cy="45.1" r="0.7"/><circle cx="219.2" cy="50.7" r="0.7"/><circle cx="219.2" cy="56.3" r="0.7"/><circle cx="229.3" cy="28.3" r="0.7"/><circle cx="229.3" cy="33.9" r="0.7"/><circle cx="229.3" cy="39.5" r="0.7"/><circle cx="229.3" cy="45.1" r="0.7"/><circle cx="229.3" cy="50.7" r="0.7"/><circle cx="229.3" cy="56.3" r="0.7"/><circle cx="243.3" cy="28.9" r="0.7"/><circle cx="243.3" cy="41.2" r="0.7"/><circle cx="243.3" cy="53.2" r="0.7"/></g>
<text x="219.3" y="69.7" font-size="7.69" text-anchor="middle" fill="#262626">Classifier</text>
<g fill="#f0aa4c"><circle cx="252.6" cy="29.6" r="1.8"/><circle cx="249.8" cy="27.8" r="1.8"/><circle cx="254.9" cy="27.3" r="1.8"/><circle cx="255.4" cy="31.0" r="1.8"/><circle cx="250.3" cy="31.9" r="1.8"/><circle cx="253.1" cy="32.5" r="1.8"/><circle cx="249.4" cy="30.1" r="1.8"/><circle cx="253.5" cy="26.4" r="1.8"/><circle cx="256.1" cy="29.1" r="1.8"/></g>
<g fill="#fff" opacity="0.45"><circle cx="251.2" cy="28.7" r="0.6"/><circle cx="254.0" cy="30.3" r="0.6"/><circle cx="252.1" cy="31.4" r="0.6"/><circle cx="254.4" cy="27.9" r="0.6"/><circle cx="250.3" cy="30.3" r="0.6"/></g>
<g fill="#5aa87e"><circle cx="252.6" cy="41.6" r="1.8"/><circle cx="249.8" cy="39.8" r="1.8"/><circle cx="254.9" cy="39.3" r="1.8"/><circle cx="255.4" cy="43.0" r="1.8"/><circle cx="250.3" cy="43.9" r="1.8"/><circle cx="253.1" cy="44.5" r="1.8"/><circle cx="249.4" cy="42.1" r="1.8"/><circle cx="253.5" cy="38.4" r="1.8"/><circle cx="256.1" cy="41.1" r="1.8"/></g>
<g fill="#fff" opacity="0.45"><circle cx="251.2" cy="40.7" r="0.6"/><circle cx="254.0" cy="42.3" r="0.6"/><circle cx="252.1" cy="43.4" r="0.6"/><circle cx="254.4" cy="39.9" r="0.6"/><circle cx="250.3" cy="42.3" r="0.6"/></g>
<g fill="#d06a90"><circle cx="252.6" cy="53.4" r="1.8"/><circle cx="249.8" cy="51.6" r="1.8"/><circle cx="254.9" cy="51.1" r="1.8"/><circle cx="255.4" cy="54.8" r="1.8"/><circle cx="250.3" cy="55.7" r="1.8"/><circle cx="253.1" cy="56.3" r="1.8"/><circle cx="249.4" cy="53.9" r="1.8"/><circle cx="253.5" cy="50.2" r="1.8"/><circle cx="256.1" cy="52.9" r="1.8"/></g>
<g fill="#fff" opacity="0.45"><circle cx="251.2" cy="52.5" r="0.6"/><circle cx="254.0" cy="54.1" r="0.6"/><circle cx="252.1" cy="55.2" r="0.6"/><circle cx="254.4" cy="51.7" r="0.6"/><circle cx="250.3" cy="54.1" r="0.6"/></g>
<path d="M261.0,26.0L267.6,32.6M267.6,26.0L261.0,32.6" stroke="#c04a5c" stroke-width="1.0" fill="none"/>
<path d="M261.1,41.2L263.7,43.4L267.5,39.0" stroke="#2f7a60" stroke-width="1.1" fill="none"/>
<path d="M261.0,50.1L267.6,56.7M267.6,50.1L261.0,56.7" stroke="#c04a5c" stroke-width="1.0" fill="none"/>
<text x="38.7" y="95.6" font-size="7.69" font-weight="bold" fill="#222">Benchmark classifiers:</text>
<rect x="60.4" y="99.4" width="35" height="35" fill="url(#hm)" filter="url(#bl)"/>
<text x="77.8" y="142.6" font-size="7.69" text-anchor="middle" fill="#262626">Gene expression data</text>
<line x1="105.5" y1="115.5" x2="134.3" y2="115.5" stroke="#222" stroke-width="1.1"/>
<path d="M133.3,112.9 L138.3,115.5 L133.3,118.1 Z" fill="#111"/>
<path d="M148.5,105.8L163.5,101.5M148.5,105.8L163.5,107.3M148.5,105.8L163.5,113.1M148.5,105.8L163.5,118.9M148.5,105.8L163.5,124.7M148.5,105.8L163.5,130.5M148.5,113.7L163.5,101.5M148.5,113.7L163.5,107.3M148.5,113.7L163.5,113.1M148.5,113.7L163.5,118.9M148.5,113.7L163.5,124.7M148.5,113.7L163.5,130.5M148.5,122.7L163.5,101.5M148.5,122.7L163.5,107.3M148.5,122.7L163.5,113.1M148.5,122.7L163.5,118.9M148.5,122.7L163.5,124.7M148.5,122.7L163.5,130.5M163.5,101.5L173.5,101.5M163.5,101.5L173.5,107.3M163.5,101.5L173.5,113.1M163.5,101.5L173.5,118.9M163.5,101.5L173.5,124.7M163.5,101.5L173.5,130.5M163.5,107.3L173.5,101.5M163.5,107.3L173.5,107.3M163.5,107.3L173.5,113.1M163.5,107.3L173.5,118.9M163.5,107.3L173.5,124.7M163.5,107.3L173.5,130.5M163.5,113.1L173.5,101.5M163.5,113.1L173.5,107.3M163.5,113.1L173.5,113.1M163.5,113.1L173.5,118.9M163.5,113.1L173.5,124.7M163.5,113.1L173.5,130.5M163.5,118.9L173.5,101.5M163.5,118.9L173.5,107.3M163.5,118.9L173.5,113.1M163.5,118.9L173.5,118.9M163.5,118.9L173.5,124.7M163.5,118.9L173.5,130.5M163.5,124.7L173.5,101.5M163.5,124.7L173.5,107.3M163.5,124.7L173.5,113.1M163.5,124.7L173.5,118.9M163.5,124.7L173.5,124.7M163.5,124.7L173.5,130.5M163.5,130.5L173.5,101.5M163.5,130.5L173.5,107.3M163.5,130.5L173.5,113.1M163.5,130.5L173.5,118.9M163.5,130.5L173.5,124.7M163.5,130.5L173.5,130.5M173.5,101.5L183.5,101.5M173.5,101.5L183.5,107.3M173.5,101.5L183.5,113.1M173.5,101.5L183.5,118.9M173.5,101.5L183.5,124.7M173.5,101.5L183.5,130.5M173.5,107.3L183.5,101.5M173.5,107.3L183.5,107.3M173.5,107.3L183.5,113.1M173.5,107.3L183.5,118.9M173.5,107.3L183.5,124.7M173.5,107.3L183.5,130.5M173.5,113.1L183.5,101.5M173.5,113.1L183.5,107.3M173.5,113.1L183.5,113.1M173.5,113.1L183.5,118.9M173.5,113.1L183.5,124.7M173.5,113.1L183.5,130.5M173.5,118.9L183.5,101.5M173.5,118.9L183.5,107.3M173.5,118.9L183.5,113.1M173.5,118.9L183.5,118.9M173.5,118.9L183.5,124.7M173.5,118.9L183.5,130.5M173.5,124.7L183.5,101.5M173.5,124.7L183.5,107.3M173.5,124.7L183.5,113.1M173.5,124.7L183.5,118.9M173.5,124.7L183.5,124.7M173.5,124.7L183.5,130.5M173.5,130.5L183.5,101.5M173.5,130.5L183.5,107.3M173.5,130.5L183.5,113.1M173.5,130.5L183.5,118.9M173.5,130.5L183.5,124.7M173.5,130.5L183.5,130.5M183.5,101.5L198.0,102.1M183.5,101.5L198.0,114.8M183.5,101.5L198.0,127.3M183.5,107.3L198.0,102.1M183.5,107.3L198.0,114.8M183.5,107.3L198.0,127.3M183.5,113.1L198.0,102.1M183.5,113.1L198.0,114.8M183.5,113.1L198.0,127.3M183.5,118.9L198.0,102.1M183.5,118.9L198.0,114.8M183.5,118.9L198.0,127.3M183.5,124.7L198.0,102.1M183.5,124.7L198.0,114.8M183.5,124.7L198.0,127.3M183.5,130.5L198.0,102.1M183.5,130.5L198.0,114.8M183.5,130.5L198.0,127.3" stroke="#8c8c8c" stroke-width="0.45" fill="none"/>
<g fill="#888"><circle cx="148.5" cy="105.8" r="0.7"/><circle cx="148.5" cy="113.7" r="0.7"/><circle cx="148.5" cy="122.7" r="0.7"/><circle cx="163.5" cy="101.5" r="0.7"/><circle cx="163.5" cy="107.3" r="0.7"/><circle cx="163.5" cy="113.1" r="0.7"/><circle cx="163.5" cy="118.9" r="0.7"/><circle cx="163.5" cy="124.7" r="0.7"/><circle cx="163.5" cy="130.5" r="0.7"/><circle cx="173.5" cy="101.5" r="0.7"/><circle cx="173.5" cy="107.3" r="0.7"/><circle cx="173.5" cy="113.1" r="0.7"/><circle cx="173.5" cy="118.9" r="0.7"/><circle cx="173.5" cy="124.7" r="0.7"/><circle cx="173.5" cy="130.5" r="0.7"/><circle cx="183.5" cy="101.5" r="0.7"/><circle cx="183.5" cy="107.3" r="0.7"/><circle cx="183.5" cy="113.1" r="0.7"/><circle cx="183.5" cy="118.9" r="0.7"/><circle cx="183.5" cy="124.7" r="0.7"/><circle cx="183.5" cy="130.5" r="0.7"/><circle cx="198.0" cy="102.1" r="0.7"/><circle cx="198.0" cy="114.8" r="0.7"/><circle cx="198.0" cy="127.3" r="0.7"/></g>
<text x="173.8" y="142.2" font-size="7.69" text-anchor="middle" fill="#262626">Classifier</text>
<g fill="#f0aa4c"><circle cx="206.3" cy="103.7" r="1.8"/><circle cx="203.6" cy="101.9" r="1.8"/><circle cx="208.6" cy="101.5" r="1.8"/><circle cx="209.0" cy="105.0" r="1.8"/><circle cx="204.1" cy="106.0" r="1.8"/><circle cx="206.8" cy="106.6" r="1.8"/><circle cx="203.2" cy="104.2" r="1.8"/><circle cx="207.2" cy="100.5" r="1.8"/><circle cx="209.7" cy="103.2" r="1.8"/></g>
<g fill="#fff" opacity="0.45"><circle cx="205.0" cy="102.8" r="0.6"/><circle cx="207.7" cy="104.4" r="0.6"/><circle cx="205.9" cy="105.5" r="0.6"/><circle cx="208.1" cy="102.1" r="0.6"/><circle cx="204.1" cy="104.4" r="0.6"/></g>
<g fill="#5aa87e"><circle cx="206.3" cy="115.6" r="1.8"/><circle cx="203.6" cy="113.8" r="1.8"/><circle cx="208.6" cy="113.3" r="1.8"/><circle cx="209.0" cy="116.9" r="1.8"/><circle cx="204.1" cy="117.8" r="1.8"/><circle cx="206.8" cy="118.5" r="1.8"/><circle cx="203.2" cy="116.0" r="1.8"/><circle cx="207.2" cy="112.4" r="1.8"/><circle cx="209.7" cy="115.1" r="1.8"/></g>
<g fill="#fff" opacity="0.45"><circle cx="205.0" cy="114.7" r="0.6"/><circle cx="207.7" cy="116.3" r="0.6"/><circle cx="205.9" cy="117.4" r="0.6"/><circle cx="208.1" cy="114.0" r="0.6"/><circle cx="204.1" cy="116.3" r="0.6"/></g>
<g fill="#d06a90"><circle cx="206.3" cy="127.5" r="1.8"/><circle cx="203.6" cy="125.7" r="1.8"/><circle cx="208.6" cy="125.2" r="1.8"/><circle cx="209.0" cy="128.8" r="1.8"/><circle cx="204.1" cy="129.8" r="1.8"/><circle cx="206.8" cy="130.4" r="1.8"/><circle cx="203.2" cy="128.0" r="1.8"/><circle cx="207.2" cy="124.3" r="1.8"/><circle cx="209.7" cy="127.0" r="1.8"/></g>
<g fill="#fff" opacity="0.45"><circle cx="205.0" cy="126.6" r="0.6"/><circle cx="207.7" cy="128.2" r="0.6"/><circle cx="205.9" cy="129.3" r="0.6"/><circle cx="208.1" cy="125.9" r="0.6"/><circle cx="204.1" cy="128.2" r="0.6"/></g>
<path d="M215.5,100.3L222.1,106.9M222.1,100.3L215.5,106.9" stroke="#c04a5c" stroke-width="1.0" fill="none"/>
<path d="M215.6,115.5L218.2,117.7L222.0,113.3" stroke="#2f7a60" stroke-width="1.1" fill="none"/>
<path d="M215.5,124.1L222.1,130.7M222.1,124.1L215.5,130.7" stroke="#c04a5c" stroke-width="1.0" fill="none"/>
<text x="2.2" y="165.3" font-size="10.45" font-weight="bold" fill="#111">B</text>
<rect x="48.5" y="161.0" width="214.3" height="12.3" fill="#d0d4ec" stroke="#acb0ca" stroke-width="1"/>
<text x="147.4" y="170.9" font-size="7.69" text-anchor="middle" fill="#262626">Full set <tspan font-style="italic">n</tspan> = 11,744</text>
<rect x="48.7" y="178.4" width="160.6" height="12.1" fill="#d49a2c" stroke="#c68c22" stroke-width="0.8"/>
<rect x="164.6" y="178.9" width="44.6" height="11.3" fill="#d6edf4" stroke="#c0dce4" stroke-width="0.5"/>
<text x="121.0" y="187.2" font-size="7.69" text-anchor="middle" fill="#262626">Training set</text>
<text x="186.9" y="187.2" font-size="7.38" text-anchor="middle" fill="#262626">Validation set</text>
<rect x="212.3" y="178.2" width="50.7" height="12.6" fill="#2a86c2"/>
<text class="w" x="237.6" y="187.3" font-size="7.58" text-anchor="middle" fill="#fff">Test set</text>
<text x="28.5" y="202.3" font-size="7.56" fill="#262626">I.&#160; Hyperparameter tuning and model training</text>
<rect x="48.8" y="210.8" width="115.7" height="12.1" fill="#d49a2c"/>
<rect x="164.5" y="210.8" width="45.1" height="12.1" fill="#d6edf4" stroke="#c0dce4" stroke-width="0.5"/>
<text x="44.6" y="219.5" font-size="7.69" text-anchor="end" fill="#262626"><tspan font-style="italic">N</tspan> = 1</text>
<rect x="48.8" y="225.2" width="72.0" height="12.1" fill="#d49a2c"/>
<rect x="120.8" y="225.2" width="43.5" height="12.1" fill="#d6edf4" stroke="#c0dce4" stroke-width="0.5"/>
<rect x="164.3" y="225.2" width="45.3" height="12.1" fill="#d49a2c"/>
<text x="44.6" y="233.9" font-size="7.69" text-anchor="end" fill="#262626"><tspan font-style="italic">N</tspan> = 2</text>
<rect x="48.8" y="240.0" width="27.0" height="12.1" fill="#d49a2c"/>
<rect x="75.8" y="240.0" width="44.8" height="12.1" fill="#d6edf4" stroke="#c0dce4" stroke-width="0.5"/>
<rect x="120.6" y="240.0" width="89.0" height="12.1" fill="#d49a2c"/>
<text x="44.6" y="248.7" font-size="7.69" text-anchor="end" fill="#262626"><tspan font-style="italic">N</tspan> = 3</text>
<rect x="48.8" y="266.3" width="44.2" height="12.1" fill="#d6edf4" stroke="#c0dce4" stroke-width="0.5"/>
<rect x="93.0" y="266.3" width="116.6" height="12.1" fill="#d49a2c"/>
<text x="44.6" y="275.0" font-size="7.69" text-anchor="end" fill="#262626"><tspan font-style="italic">N</tspan> = 10</text>
<text x="140.8" y="219.5" font-size="6.97" text-anchor="end" fill="#262626">60%, <tspan font-style="italic">n</tspan> = 7,037</text>
<text x="187.1" y="219.5" font-size="6.97" text-anchor="middle" fill="#262626">10%, <tspan font-style="italic">n</tspan> = 1,172</text>
<text x="50.0" y="262.0" font-size="6.66" fill="#262626">...</text>
<text x="29.6" y="291.3" font-size="7.69" fill="#262626">II. Model evaluation</text>
<path d="M72.9,304.5L102.5,295.5M72.9,304.5L102.5,306.8M72.9,304.5L102.5,318.1M72.9,304.5L102.5,329.4M72.9,304.5L102.5,340.7M72.9,304.5L102.5,352.0M72.9,319.2L102.5,295.5M72.9,319.2L102.5,306.8M72.9,319.2L102.5,318.1M72.9,319.2L102.5,329.4M72.9,319.2L102.5,340.7M72.9,319.2L102.5,352.0M72.9,336.7L102.5,295.5M72.9,336.7L102.5,306.8M72.9,336.7L102.5,318.1M72.9,336.7L102.5,329.4M72.9,336.7L102.5,340.7M72.9,336.7L102.5,352.0M102.5,295.5L122.4,295.5M102.5,295.5L122.4,306.8M102.5,295.5L122.4,318.1M102.5,295.5L122.4,329.4M102.5,295.5L122.4,340.7M102.5,295.5L122.4,352.0M102.5,306.8L122.4,295.5M102.5,306.8L122.4,306.8M102.5,306.8L122.4,318.1M102.5,306.8L122.4,329.4M102.5,306.8L122.4,340.7M102.5,306.8L122.4,352.0M102.5,318.1L122.4,295.5M102.5,318.1L122.4,306.8M102.5,318.1L122.4,318.1M102.5,318.1L122.4,329.4M102.5,318.1L122.4,340.7M102.5,318.1L122.4,352.0M102.5,329.4L122.4,295.5M102.5,329.4L122.4,306.8M102.5,329.4L122.4,318.1M102.5,329.4L122.4,329.4M102.5,329.4L122.4,340.7M102.5,329.4L122.4,352.0M102.5,340.7L122.4,295.5M102.5,340.7L122.4,306.8M102.5,340.7L122.4,318.1M102.5,340.7L122.4,329.4M102.5,340.7L122.4,340.7M102.5,340.7L122.4,352.0M102.5,352.0L122.4,295.5M102.5,352.0L122.4,306.8M102.5,352.0L122.4,318.1M102.5,352.0L122.4,329.4M102.5,352.0L122.4,340.7M102.5,352.0L122.4,352.0M122.4,295.5L142.4,295.5M122.4,295.5L142.4,306.8M122.4,295.5L142.4,318.1M122.4,295.5L142.4,329.4M122.4,295.5L142.4,340.7M122.4,295.5L142.4,352.0M122.4,306.8L142.4,295.5M122.4,306.8L142.4,306.8M122.4,306.8L142.4,318.1M122.4,306.8L142.4,329.4M122.4,306.8L142.4,340.7M122.4,306.8L142.4,352.0M122.4,318.1L142.4,295.5M122.4,318.1L142.4,306.8M122.4,318.1L142.4,318.1M122.4,318.1L142.4,329.4M122.4,318.1L142.4,340.7M122.4,318.1L142.4,352.0M122.4,329.4L142.4,295.5M122.4,329.4L142.4,306.8M122.4,329.4L142.4,318.1M122.4,329.4L142.4,329.4M122.4,329.4L142.4,340.7M122.4,329.4L142.4,352.0M122.4,340.7L142.4,295.5M122.4,340.7L142.4,306.8M122.4,340.7L142.4,318.1M122.4,340.7L142.4,329.4M122.4,340.7L142.4,340.7M122.4,340.7L142.4,352.0M122.4,352.0L142.4,295.5M122.4,352.0L142.4,306.8M122.4,352.0L142.4,318.1M122.4,352.0L142.4,329.4M122.4,352.0L142.4,340.7M122.4,352.0L142.4,352.0M142.4,295.5L170.0,297.2M142.4,295.5L170.0,322.1M142.4,295.5L170.0,344.7M142.4,306.8L170.0,297.2M142.4,306.8L170.0,322.1M142.4,306.8L170.0,344.7M142.4,318.1L170.0,297.2M142.4,318.1L170.0,322.1M142.4,318.1L170.0,344.7M142.4,329.4L170.0,297.2M142.4,329.4L170.0,322.1M142.4,329.4L170.0,344.7M142.4,340.7L170.0,297.2M142.4,340.7L170.0,322.1M142.4,340.7L170.0,344.7M142.4,352.0L170.0,297.2M142.4,352.0L170.0,322.1M142.4,352.0L170.0,344.7" stroke="#5a5a5a" stroke-width="0.42" fill="none"/>
<g fill="#444"><circle cx="72.9" cy="304.5" r="1.0"/><circle cx="72.9" cy="319.2" r="1.0"/><circle cx="72.9" cy="336.7" r="1.0"/><circle cx="102.5" cy="295.5" r="1.0"/><circle cx="102.5" cy="306.8" r="1.0"/><circle cx="102.5" cy="318.1" r="1.0"/><circle cx="102.5" cy="329.4" r="1.0"/><circle cx="102.5" cy="340.7" r="1.0"/><circle cx="102.5" cy="352.0" r="1.0"/><circle cx="122.4" cy="295.5" r="1.0"/><circle cx="122.4" cy="306.8" r="1.0"/><circle cx="122.4" cy="318.1" r="1.0"/><circle cx="122.4" cy="329.4" r="1.0"/><circle cx="122.4" cy="340.7" r="1.0"/><circle cx="122.4" cy="352.0" r="1.0"/><circle cx="142.4" cy="295.5" r="1.0"/><circle cx="142.4" cy="306.8" r="1.0"/><circle cx="142.4" cy="318.1" r="1.0"/><circle cx="142.4" cy="329.4" r="1.0"/><circle cx="142.4" cy="340.7" r="1.0"/><circle cx="142.4" cy="352.0" r="1.0"/><circle cx="170.0" cy="297.2" r="1.0"/><circle cx="170.0" cy="322.1" r="1.0"/><circle cx="170.0" cy="344.7" r="1.0"/></g>
<circle cx="190" cy="324.7" r="1.4" fill="#555"/>
<rect x="212.0" y="317.7" width="51.0" height="12.6" fill="#2a86c2"/>
<text class="w" x="237.8" y="326.6" font-size="7.17" text-anchor="middle" fill="#fff">30%, <tspan font-style="italic">n</tspan> = 3,535</text>
<text x="2.8" y="374.0" font-size="10.45" font-weight="bold" fill="#111">C</text>
<line x1="50.9" y1="372.3" x2="50.9" y2="394.3" stroke="#777" stroke-width="0.8"/>
<line x1="49.2" y1="393.9" x2="50.9" y2="393.9" stroke="#777" stroke-width="0.6"/>
<text x="46.6" y="396.3" font-size="6.66" text-anchor="end" fill="#262626">0</text>
<line x1="49.2" y1="388.2" x2="50.9" y2="388.2" stroke="#777" stroke-width="0.6"/>
<text x="46.6" y="390.6" font-size="6.66" text-anchor="end" fill="#262626">100</text>
<line x1="49.2" y1="382.6" x2="50.9" y2="382.6" stroke="#777" stroke-width="0.6"/>
<text x="46.6" y="385.0" font-size="6.66" text-anchor="end" fill="#262626">200</text>
<line x1="49.2" y1="376.9" x2="50.9" y2="376.9" stroke="#777" stroke-width="0.6"/>
<text x="46.6" y="379.3" font-size="6.66" text-anchor="end" fill="#262626">300</text>
<g transform="translate(27.4,383.3) rotate(-90)"><text x="0" y="0" font-size="7.69" text-anchor="middle" fill="#262626">Samples</text></g>
<line x1="51.0" y1="394.4" x2="400.0" y2="394.4" stroke="#c8c8c8" stroke-width="1"/>
<g fill="#575757"><rect x="52.90" y="380.4" width="10.9" height="13.4"/><rect x="65.81" y="381.3" width="10.9" height="12.5"/><rect x="78.72" y="384.6" width="10.9" height="9.2"/><rect x="91.63" y="391.0" width="10.9" height="2.8"/><rect x="104.54" y="374.0" width="10.9" height="19.8"/><rect x="117.45" y="388.0" width="10.9" height="5.8"/><rect x="130.36" y="383.8" width="10.9" height="10.0"/><rect x="143.27" y="387.7" width="10.9" height="6.1"/><rect x="156.18" y="385.6" width="10.9" height="8.2"/><rect x="169.09" y="373.1" width="10.9" height="20.7"/><rect x="182.00" y="392.9" width="10.9" height="0.9"/><rect x="194.91" y="385.6" width="10.9" height="8.2"/><rect x="207.82" y="391.5" width="10.9" height="2.3"/><rect x="220.73" y="388.0" width="10.9" height="5.8"/><rect x="233.64" y="385.2" width="10.9" height="8.6"/><rect x="246.55" y="373.1" width="10.9" height="20.7"/><rect x="259.46" y="383.8" width="10.9" height="10.0"/><rect x="272.37" y="391.9" width="10.9" height="1.9"/><rect x="285.28" y="392.3" width="10.9" height="1.5"/><rect x="298.19" y="392.5" width="10.9" height="1.3"/><rect x="311.10" y="389.0" width="10.9" height="4.8"/><rect x="324.01" y="389.4" width="10.9" height="4.4"/><rect x="336.92" y="390.4" width="10.9" height="3.4"/><rect x="349.83" y="387.5" width="10.9" height="6.3"/><rect x="362.74" y="393.3" width="10.9" height="0.5"/><rect x="375.65" y="392.9" width="10.9" height="0.9"/><rect x="388.56" y="393.5" width="10.9" height="0.3"/></g>
<line x1="51.5" y1="404.5" x2="51.5" y2="491.5" stroke="#555" stroke-width="1.2"/>
<line x1="51.0" y1="491.0" x2="400.0" y2="491.0" stroke="#555" stroke-width="1.2"/>
<line x1="49.2" y1="406.0" x2="51.5" y2="406.0" stroke="#444" stroke-width="0.6"/>
<text x="47.5" y="408.6" font-size="7.69" text-anchor="end" fill="#262626">1.00</text>
<line x1="49.2" y1="426.1" x2="51.5" y2="426.1" stroke="#444" stroke-width="0.6"/>
<text x="47.5" y="428.7" font-size="7.69" text-anchor="end" fill="#262626">0.75</text>
<line x1="49.2" y1="446.2" x2="51.5" y2="446.2" stroke="#444" stroke-width="0.6"/>
<text x="47.5" y="448.9" font-size="7.69" text-anchor="end" fill="#262626">0.50</text>
<line x1="49.2" y1="466.4" x2="51.5" y2="466.4" stroke="#444" stroke-width="0.6"/>
<text x="47.5" y="469.0" font-size="7.69" text-anchor="end" fill="#262626">0.25</text>
<line x1="49.2" y1="486.5" x2="51.5" y2="486.5" stroke="#444" stroke-width="0.6"/>
<text x="47.5" y="489.1" font-size="7.69" text-anchor="end" fill="#262626">0.00</text>
<g transform="translate(27.2,446) rotate(-90)"><text x="0" y="0" font-size="7.69" text-anchor="middle" fill="#262626">Accuracy (%)</text></g>
<g><rect x="52.90" y="406.0" width="10.9" height="0.8" fill="#1158a8"/><rect x="52.90" y="406.8" width="10.9" height="79.7" fill="#1b79c4"/><rect x="65.81" y="406.0" width="10.9" height="1.0" fill="#1158a8"/><rect x="65.81" y="407.0" width="10.9" height="79.5" fill="#1b79c4"/><rect x="78.72" y="406.0" width="10.9" height="1.5" fill="#1158a8"/><rect x="78.72" y="407.5" width="10.9" height="79.0" fill="#1b79c4"/><rect x="91.63" y="406.0" width="10.9" height="3.5" fill="#1158a8"/><rect x="91.63" y="409.5" width="10.9" height="77.0" fill="#1b79c4"/><rect x="104.54" y="406.0" width="10.9" height="1.3" fill="#1d3274"/><rect x="104.54" y="407.3" width="10.9" height="1.7" fill="#1158a8"/><rect x="104.54" y="409.0" width="10.9" height="77.5" fill="#1b79c4"/><rect x="117.45" y="406.0" width="10.9" height="4.0" fill="#1158a8"/><rect x="117.45" y="410.0" width="10.9" height="76.5" fill="#1b79c4"/><rect x="130.36" y="406.0" width="10.9" height="2.0" fill="#1d3274"/><rect x="130.36" y="408.0" width="10.9" height="2.0" fill="#1158a8"/><rect x="130.36" y="410.0" width="10.9" height="76.5" fill="#1b79c4"/><rect x="143.27" y="406.0" width="10.9" height="0.5" fill="#1d3274"/><rect x="143.27" y="406.5" width="10.9" height="5.5" fill="#1158a8"/><rect x="143.27" y="412.0" width="10.9" height="74.5" fill="#1b79c4"/><rect x="156.18" y="406.0" width="10.9" height="10.5" fill="#1158a8"/><rect x="156.18" y="416.5" width="10.9" height="70.0" fill="#1b79c4"/><rect x="169.09" y="406.0" width="10.9" height="1.7" fill="#c5c3c3"/><rect x="169.09" y="407.7" width="10.9" height="10.3" fill="#1158a8"/><rect x="169.09" y="418.0" width="10.9" height="68.5" fill="#1b79c4"/><rect x="182.00" y="406.0" width="10.9" height="4.0" fill="#1d3274"/><rect x="182.00" y="410.0" width="10.9" height="9.8" fill="#1158a8"/><rect x="182.00" y="419.8" width="10.9" height="66.7" fill="#1b79c4"/><rect x="194.91" y="406.0" width="10.9" height="5.0" fill="#c5c3c3"/><rect x="194.91" y="411.0" width="10.9" height="2.0" fill="#1d3274"/><rect x="194.91" y="413.0" width="10.9" height="13.5" fill="#1158a8"/><rect x="194.91" y="426.5" width="10.9" height="60.0" fill="#1b79c4"/><rect x="207.82" y="406.0" width="10.9" height="21.0" fill="#c5c3c3"/><rect x="207.82" y="427.0" width="10.9" height="2.4" fill="#1d3274"/><rect x="207.82" y="429.4" width="10.9" height="4.6" fill="#1158a8"/><rect x="207.82" y="434.0" width="10.9" height="52.5" fill="#1b79c4"/><rect x="220.73" y="406.0" width="10.9" height="5.0" fill="#c5c3c3"/><rect x="220.73" y="411.0" width="10.9" height="2.0" fill="#1d3274"/><rect x="220.73" y="413.0" width="10.9" height="22.0" fill="#1158a8"/><rect x="220.73" y="435.0" width="10.9" height="51.5" fill="#1b79c4"/><rect x="233.64" y="406.0" width="10.9" height="8.0" fill="#c5c3c3"/><rect x="233.64" y="414.0" width="10.9" height="4.8" fill="#1d3274"/><rect x="233.64" y="418.8" width="10.9" height="17.2" fill="#1158a8"/><rect x="233.64" y="436.0" width="10.9" height="50.5" fill="#1b79c4"/><rect x="246.55" y="406.0" width="10.9" height="6.0" fill="#c5c3c3"/><rect x="246.55" y="412.0" width="10.9" height="7.0" fill="#1d3274"/><rect x="246.55" y="419.0" width="10.9" height="17.0" fill="#1158a8"/><rect x="246.55" y="436.0" width="10.9" height="50.5" fill="#1b79c4"/><rect x="259.46" y="406.0" width="10.9" height="11.0" fill="#c5c3c3"/><rect x="259.46" y="417.0" width="10.9" height="1.5" fill="#1d3274"/><rect x="259.46" y="418.5" width="10.9" height="20.1" fill="#1158a8"/><rect x="259.46" y="438.6" width="10.9" height="47.9" fill="#1b79c4"/><rect x="272.37" y="406.0" width="10.9" height="5.0" fill="#c5c3c3"/><rect x="272.37" y="411.0" width="10.9" height="5.0" fill="#1d3274"/><rect x="272.37" y="416.0" width="10.9" height="22.5" fill="#1158a8"/><rect x="272.37" y="438.5" width="10.9" height="48.0" fill="#1b79c4"/><rect x="285.28" y="406.0" width="10.9" height="31.0" fill="#c5c3c3"/><rect x="285.28" y="437.0" width="10.9" height="8.8" fill="#1d3274"/><rect x="285.28" y="445.8" width="10.9" height="7.7" fill="#1158a8"/><rect x="285.28" y="453.5" width="10.9" height="33.0" fill="#1b79c4"/><rect x="298.19" y="406.0" width="10.9" height="20.0" fill="#c5c3c3"/><rect x="298.19" y="426.0" width="10.9" height="17.0" fill="#1d3274"/><rect x="298.19" y="443.0" width="10.9" height="11.4" fill="#1158a8"/><rect x="298.19" y="454.4" width="10.9" height="32.1" fill="#1b79c4"/><rect x="311.10" y="406.0" width="10.9" height="18.2" fill="#c5c3c3"/><rect x="311.10" y="424.2" width="10.9" height="20.0" fill="#1d3274"/><rect x="311.10" y="444.2" width="10.9" height="17.8" fill="#1158a8"/><rect x="311.10" y="462.0" width="10.9" height="24.5" fill="#1b79c4"/><rect x="324.01" y="406.0" width="10.9" height="20.5" fill="#c5c3c3"/><rect x="324.01" y="426.5" width="10.9" height="15.0" fill="#1d3274"/><rect x="324.01" y="441.5" width="10.9" height="23.1" fill="#1158a8"/><rect x="324.01" y="464.6" width="10.9" height="21.9" fill="#1b79c4"/><rect x="336.92" y="406.0" width="10.9" height="29.6" fill="#c5c3c3"/><rect x="336.92" y="435.6" width="10.9" height="15.9" fill="#1d3274"/><rect x="336.92" y="451.5" width="10.9" height="24.5" fill="#1158a8"/><rect x="336.92" y="476.0" width="10.9" height="10.5" fill="#1b79c4"/><rect x="349.83" y="406.0" width="10.9" height="37.5" fill="#c5c3c3"/><rect x="349.83" y="443.5" width="10.9" height="20.5" fill="#1d3274"/><rect x="349.83" y="464.0" width="10.9" height="16.8" fill="#1158a8"/><rect x="349.83" y="480.8" width="10.9" height="5.7" fill="#1b79c4"/><rect x="362.74" y="406.0" width="10.9" height="47.5" fill="#c5c3c3"/><rect x="362.74" y="453.5" width="10.9" height="27.5" fill="#1d3274"/><rect x="362.74" y="481.0" width="10.9" height="2.5" fill="#1158a8"/><rect x="362.74" y="483.5" width="10.9" height="3.0" fill="#1b79c4"/><rect x="375.65" y="406.0" width="10.9" height="77.0" fill="#c5c3c3"/><rect x="375.65" y="483.0" width="10.9" height="3.5" fill="#1d3274"/><rect x="388.56" y="406.0" width="10.9" height="80.5" fill="#c5c3c3"/></g>
<line x1="52.0" y1="446.2" x2="400.0" y2="446.2" stroke="#6fb06f" stroke-width="0.5"/>
<line x1="52.0" y1="484.3" x2="400.0" y2="484.3" stroke="#d8a0a0" stroke-width="0.5" opacity="0.7"/>
<line x1="58.4" y1="491.5" x2="58.4" y2="493.5" stroke="#555" stroke-width="0.6"/>
<line x1="71.3" y1="491.5" x2="71.3" y2="493.5" stroke="#555" stroke-width="0.6"/>
<line x1="84.2" y1="491.5" x2="84.2" y2="493.5" stroke="#555" stroke-width="0.6"/>
<line x1="97.1" y1="491.5" x2="97.1" y2="493.5" stroke="#555" stroke-width="0.6"/>
<line x1="110.0" y1="491.5" x2="110.0" y2="493.5" stroke="#555" stroke-width="0.6"/>
<line x1="122.9" y1="491.5" x2="122.9" y2="493.5" stroke="#555" stroke-width="0.6"/>
<line x1="135.8" y1="491.5" x2="135.8" y2="493.5" stroke="#555" stroke-width="0.6"/>
<line x1="148.7" y1="491.5" x2="148.7" y2="493.5" stroke="#555" stroke-width="0.6"/>
<line x1="161.6" y1="491.5" x2="161.6" y2="493.5" stroke="#555" stroke-width="0.6"/>
<line x1="174.5" y1="491.5" x2="174.5" y2="493.5" stroke="#555" stroke-width="0.6"/>
<line x1="187.4" y1="491.5" x2="187.4" y2="493.5" stroke="#555" stroke-width="0.6"/>
<line x1="200.4" y1="491.5" x2="200.4" y2="493.5" stroke="#555" stroke-width="0.6"/>
<line x1="213.3" y1="491.5" x2="213.3" y2="493.5" stroke="#555" stroke-width="0.6"/>
<line x1="226.2" y1="491.5" x2="226.2" y2="493.5" stroke="#555" stroke-width="0.6"/>
<line x1="239.1" y1="491.5" x2="239.1" y2="493.5" stroke="#555" stroke-width="0.6"/>
<line x1="252.0" y1="491.5" x2="252.0" y2="493.5" stroke="#555" stroke-width="0.6"/>
<line x1="264.9" y1="491.5" x2="264.9" y2="493.5" stroke="#555" stroke-width="0.6"/>
<line x1="277.8" y1="491.5" x2="277.8" y2="493.5" stroke="#555" stroke-width="0.6"/>
<line x1="290.7" y1="491.5" x2="290.7" y2="493.5" stroke="#555" stroke-width="0.6"/>
<line x1="303.6" y1="491.5" x2="303.6" y2="493.5" stroke="#555" stroke-width="0.6"/>
<line x1="316.5" y1="491.5" x2="316.5" y2="493.5" stroke="#555" stroke-width="0.6"/>
<line x1="329.5" y1="491.5" x2="329.5" y2="493.5" stroke="#555" stroke-width="0.6"/>
<line x1="342.4" y1="491.5" x2="342.4" y2="493.5" stroke="#555" stroke-width="0.6"/>
<line x1="355.3" y1="491.5" x2="355.3" y2="493.5" stroke="#555" stroke-width="0.6"/>
<line x1="368.2" y1="491.5" x2="368.2" y2="493.5" stroke="#555" stroke-width="0.6"/>
<line x1="381.1" y1="491.5" x2="381.1" y2="493.5" stroke="#555" stroke-width="0.6"/>
<line x1="394.0" y1="491.5" x2="394.0" y2="493.5" stroke="#555" stroke-width="0.6"/>
<g><text transform="translate(61.0,497.8) rotate(-45)" font-size="6.51" text-anchor="end" fill="#3a3a3a">GBMLGG</text><text transform="translate(73.9,497.8) rotate(-45)" font-size="6.51" text-anchor="end" fill="#3a3a3a">LAML</text><text transform="translate(86.8,497.8) rotate(-45)" font-size="6.51" text-anchor="end" fill="#3a3a3a">DLBC</text><text transform="translate(99.7,497.8) rotate(-45)" font-size="6.51" text-anchor="end" fill="#3a3a3a">PCPG</text><text transform="translate(112.6,497.8) rotate(-45)" font-size="6.51" text-anchor="end" fill="#3a3a3a">KIDNEY</text><text transform="translate(125.5,497.8) rotate(-45)" font-size="6.51" text-anchor="end" fill="#3a3a3a">SARC</text><text transform="translate(138.4,497.8) rotate(-45)" font-size="6.51" text-anchor="end" fill="#3a3a3a">PRAD</text><text transform="translate(151.3,497.8) rotate(-45)" font-size="6.51" text-anchor="end" fill="#3a3a3a">LIHC</text><text transform="translate(164.2,497.8) rotate(-45)" font-size="6.51" text-anchor="end" fill="#3a3a3a">THCA</text><text transform="translate(177.1,497.8) rotate(-45)" font-size="6.51" text-anchor="end" fill="#3a3a3a">BRCA</text><text transform="translate(190.0,497.8) rotate(-45)" font-size="6.51" text-anchor="end" fill="#3a3a3a">UVM</text><text transform="translate(203.0,497.8) rotate(-45)" font-size="6.51" text-anchor="end" fill="#3a3a3a">COADREAD</text><text transform="translate(215.9,497.8) rotate(-45)" font-size="6.51" text-anchor="end" fill="#3a3a3a">TGCT</text><text transform="translate(228.8,497.8) rotate(-45)" font-size="6.51" text-anchor="end" fill="#3a3a3a">OV</text><text transform="translate(241.7,497.8) rotate(-45)" font-size="6.51" text-anchor="end" fill="#3a3a3a">HNSC</text><text transform="translate(254.6,497.8) rotate(-45)" font-size="6.51" text-anchor="end" fill="#3a3a3a">LUNG</text><text transform="translate(267.5,497.8) rotate(-45)" font-size="6.51" text-anchor="end" fill="#3a3a3a">STES</text><text transform="translate(280.4,497.8) rotate(-45)" font-size="6.51" text-anchor="end" fill="#3a3a3a">ACC</text><text transform="translate(293.3,497.8) rotate(-45)" font-size="6.51" text-anchor="end" fill="#3a3a3a">THYM</text><text transform="translate(306.2,497.8) rotate(-45)" font-size="6.51" text-anchor="end" fill="#3a3a3a">SKCM</text><text transform="translate(319.1,497.8) rotate(-45)" font-size="6.51" text-anchor="end" fill="#3a3a3a">CESC</text><text transform="translate(332.1,497.8) rotate(-45)" font-size="6.51" text-anchor="end" fill="#3a3a3a">UCEC</text><text transform="translate(345.0,497.8) rotate(-45)" font-size="6.51" text-anchor="end" fill="#3a3a3a">PAAD</text><text transform="translate(357.9,497.8) rotate(-45)" font-size="6.51" text-anchor="end" fill="#3a3a3a">BLCA</text><text transform="translate(370.8,497.8) rotate(-45)" font-size="6.51" text-anchor="end" fill="#3a3a3a">UCS</text><text transform="translate(383.7,497.8) rotate(-45)" font-size="6.51" text-anchor="end" fill="#3a3a3a">MESO</text><text transform="translate(396.6,497.8) rotate(-45)" font-size="6.51" text-anchor="end" fill="#3a3a3a">CHOL</text></g>
<text x="224.5" y="526.0" font-size="7.69" text-anchor="middle" fill="#262626">Tumors</text>
<text x="415.6" y="412.2" font-size="7.69" fill="#262626">Concordant result in top</text>
<rect x="415.0" y="418.0" width="7.7" height="7.4" fill="#1b79c4"/>
<text x="428.0" y="424.2" font-size="7.69" fill="#262626">1</text>
<rect x="415.0" y="432.0" width="7.7" height="7.4" fill="#1158a8"/>
<text x="428.0" y="438.2" font-size="7.69" fill="#262626">2</text>
<rect x="415.0" y="446.0" width="7.7" height="7.4" fill="#1d3274"/>
<text x="428.0" y="452.2" font-size="7.69" fill="#262626">3</text>
<rect x="415.0" y="460.0" width="7.7" height="7.4" fill="#c5c3c3"/>
<text x="428.0" y="466.2" font-size="7.69" fill="#262626">4+</text>
<text x="286.2" y="9.9" font-size="10.45" font-weight="bold" fill="#111">D</text>
<rect x="323.5" y="11.5" width="182.3" height="118" fill="none" stroke="#333" stroke-width="1"/>
<line x1="321.0" y1="17.2" x2="323.5" y2="17.2" stroke="#333" stroke-width="0.6"/>
<text x="319.2" y="19.9" font-size="7.69" text-anchor="end" fill="#262626">1.00</text>
<line x1="503.0" y1="129.5" x2="503.0" y2="132.0" stroke="#333" stroke-width="0.6"/>
<text x="503.0" y="140.2" font-size="7.69" text-anchor="middle" fill="#262626">1.00</text>
<line x1="321.0" y1="45.3" x2="323.5" y2="45.3" stroke="#333" stroke-width="0.6"/>
<text x="319.2" y="48.0" font-size="7.69" text-anchor="end" fill="#262626">0.75</text>
<line x1="459.0" y1="129.5" x2="459.0" y2="132.0" stroke="#333" stroke-width="0.6"/>
<text x="459.0" y="140.2" font-size="7.69" text-anchor="middle" fill="#262626">0.75</text>
<line x1="321.0" y1="73.4" x2="323.5" y2="73.4" stroke="#333" stroke-width="0.6"/>
<text x="319.2" y="76.1" font-size="7.69" text-anchor="end" fill="#262626">0.50</text>
<line x1="415.0" y1="129.5" x2="415.0" y2="132.0" stroke="#333" stroke-width="0.6"/>
<text x="415.0" y="140.2" font-size="7.69" text-anchor="middle" fill="#262626">0.50</text>
<line x1="321.0" y1="101.6" x2="323.5" y2="101.6" stroke="#333" stroke-width="0.6"/>
<text x="319.2" y="104.3" font-size="7.69" text-anchor="end" fill="#262626">0.25</text>
<line x1="371.0" y1="129.5" x2="371.0" y2="132.0" stroke="#333" stroke-width="0.6"/>
<text x="371.0" y="140.2" font-size="7.69" text-anchor="middle" fill="#262626">0.25</text>
<line x1="321.0" y1="129.7" x2="323.5" y2="129.7" stroke="#333" stroke-width="0.6"/>
<text x="319.2" y="132.4" font-size="7.69" text-anchor="end" fill="#262626">0.00</text>
<line x1="327.0" y1="129.5" x2="327.0" y2="132.0" stroke="#333" stroke-width="0.6"/>
<text x="327.0" y="140.2" font-size="7.69" text-anchor="middle" fill="#262626">0.00</text>
<g transform="translate(299.5,70.5) rotate(-90)"><text x="0" y="0" font-size="7.69" text-anchor="middle" fill="#262626">True-positive rate (recall)</text></g>
<text x="416.5" y="149.5" font-size="7.69" text-anchor="middle" fill="#262626">False-positive rate</text>
<line x1="327.5" y1="129.0" x2="503.0" y2="17.2" stroke="#cfcfcf" stroke-width="2.5" stroke-dasharray="7,4.5"/>
<path d="M328.0,129.0 C328.1,123.3 328.2,104.5 328.4,95.0 C328.6,85.5 328.9,77.0 329.2,72.0 C329.5,67.0 329.4,66.9 330.4,65.0 C331.4,63.1 332.9,62.1 335.0,60.5 C337.1,58.9 339.9,57.0 343.0,55.2 C346.1,53.4 349.7,51.5 353.4,49.5 C357.1,47.5 360.9,45.0 365.0,43.0 C369.1,41.0 372.4,39.4 377.7,37.5 C383.0,35.6 389.9,33.4 397.0,31.5 C404.1,29.6 409.5,28.0 420.0,26.3 C430.5,24.6 446.2,23.0 460.0,21.5 C473.8,20.0 495.8,17.9 503.0,17.2" fill="none" stroke="#aaaaaa" stroke-width="2.6" stroke-linecap="round"/>
<path d="M328.7,129.0 C328.8,126.2 328.9,117.5 329.3,112.0 C329.7,106.5 330.1,101.3 331.0,96.0 C331.9,90.7 333.4,84.8 335.0,80.0 C336.6,75.2 338.5,70.8 340.8,67.3 C343.1,63.8 345.7,62.1 348.8,59.2 C351.9,56.3 354.4,53.3 359.2,50.0 C364.0,46.7 371.4,42.4 377.7,39.5 C384.0,36.6 389.9,34.6 397.0,32.5 C404.1,30.4 409.5,28.6 420.0,26.8 C430.5,25.0 446.2,23.4 460.0,21.8 C473.8,20.2 495.8,18.0 503.0,17.2" fill="none" stroke="#6a6a6a" stroke-width="2.6" stroke-linecap="round"/>
<path d="M327.5,129.0 C327.5,122.5 327.4,101.8 327.5,90.0 C327.6,78.2 327.6,65.7 327.8,58.0 C328.0,50.3 328.3,47.8 328.8,44.0 C329.3,40.2 329.8,37.8 330.6,35.5 C331.4,33.2 332.4,31.4 333.5,30.0 C334.6,28.6 335.6,27.7 337.0,26.8 C338.4,25.9 340.0,25.1 342.0,24.4 C344.0,23.7 346.0,23.1 349.0,22.5 C352.0,21.9 356.5,21.3 360.0,20.8 C363.5,20.3 363.3,20.1 370.0,19.7 C376.7,19.3 391.7,18.7 400.0,18.4 C408.3,18.1 410.0,18.0 420.0,17.8 C430.0,17.6 446.2,17.5 460.0,17.4 C473.8,17.3 495.8,17.2 503.0,17.2" fill="none" stroke="#1f2a7a" stroke-width="2.6" stroke-linecap="round"/>
<rect x="384.5" y="89.5" width="90.0" height="38.5" fill="#fff"/>
<text x="386.0" y="98.6" font-size="7.69" font-weight="bold" fill="#222">Classifier trained on:</text>
<circle cx="389.3" cy="104.2" r="3" fill="#1f2a7a"/>
<text x="394.6" y="106.5" font-size="6.46" fill="#262626">Developmental components (D-MLP)</text>
<circle cx="389.3" cy="114.6" r="3" fill="#b2b2b2"/>
<text x="394.6" y="116.9" font-size="6.46" fill="#262626">Highly variable genes</text>
<circle cx="389.3" cy="125.0" r="3" fill="#6a6a6a"/>
<text x="394.6" y="127.3" font-size="6.46" fill="#262626">Clinical oncopanel genes</text>
<text x="290.2" y="164.9" font-size="10.45" font-weight="bold" fill="#111">E</text>
<line x1="322.8" y1="180.8" x2="322.8" y2="314.7" stroke="#333" stroke-width="1.1"/>
<line x1="322.3" y1="314.2" x2="513.8" y2="314.2" stroke="#333" stroke-width="1.1"/>
<line x1="320.3" y1="186.0" x2="322.8" y2="186.0" stroke="#333" stroke-width="0.6"/>
<text x="317.4" y="188.7" font-size="7.69" text-anchor="end" fill="#262626">1.00</text>
<line x1="510.0" y1="314.2" x2="510.0" y2="316.8" stroke="#333" stroke-width="0.6"/>
<text x="510.0" y="327.3" font-size="7.69" text-anchor="middle" fill="#262626">1.00</text>
<line x1="320.3" y1="217.0" x2="322.8" y2="217.0" stroke="#333" stroke-width="0.6"/>
<text x="317.4" y="219.7" font-size="7.69" text-anchor="end" fill="#262626">0.75</text>
<line x1="465.2" y1="314.2" x2="465.2" y2="316.8" stroke="#333" stroke-width="0.6"/>
<text x="465.2" y="327.3" font-size="7.69" text-anchor="middle" fill="#262626">0.75</text>
<line x1="320.3" y1="248.0" x2="322.8" y2="248.0" stroke="#333" stroke-width="0.6"/>
<text x="317.4" y="250.7" font-size="7.69" text-anchor="end" fill="#262626">0.50</text>
<line x1="420.5" y1="314.2" x2="420.5" y2="316.8" stroke="#333" stroke-width="0.6"/>
<text x="420.5" y="327.3" font-size="7.69" text-anchor="middle" fill="#262626">0.50</text>
<line x1="320.3" y1="279.0" x2="322.8" y2="279.0" stroke="#333" stroke-width="0.6"/>
<text x="317.4" y="281.7" font-size="7.69" text-anchor="end" fill="#262626">0.25</text>
<line x1="375.8" y1="314.2" x2="375.8" y2="316.8" stroke="#333" stroke-width="0.6"/>
<text x="375.8" y="327.3" font-size="7.69" text-anchor="middle" fill="#262626">0.25</text>
<line x1="320.3" y1="310.0" x2="322.8" y2="310.0" stroke="#333" stroke-width="0.6"/>
<text x="317.4" y="312.7" font-size="7.69" text-anchor="end" fill="#262626">0.00</text>
<line x1="331.0" y1="314.2" x2="331.0" y2="316.8" stroke="#333" stroke-width="0.6"/>
<text x="331.0" y="327.3" font-size="7.69" text-anchor="middle" fill="#262626">0.00</text>
<g transform="translate(295,245) rotate(-90)"><text x="0" y="0" font-size="7.69" text-anchor="middle" fill="#262626">True-positive rate (recall)</text></g>
<text x="418.5" y="338.6" font-size="7.69" text-anchor="middle" fill="#262626">Positive predictive value (precision)</text>
<path d="M434,190L463.5,194.6M455,188.5L488.5,192.3M477,184.5L495.8,190M499,184.5L504,187M501,193.5L505.8,189.2M467,199.5L477,193.2M462,210.5L472,203M490,200.5L493.5,195.7M417.5,202.5L427.7,205M449,227L444,231.8" stroke="#555" stroke-width="0.6" fill="none"/>
<g><circle cx="504" cy="187" r="1.7" fill="#4a78a8"/><circle cx="505.8" cy="189.2" r="1.7" fill="#7a583a"/><circle cx="495.8" cy="190" r="1.7" fill="#e0604e"/><circle cx="488.5" cy="192.3" r="1.7" fill="#e8b040"/><circle cx="477" cy="193.2" r="1.7" fill="#b42030"/><circle cx="463.5" cy="194.6" r="1.7" fill="#801c1c"/><circle cx="447.3" cy="195" r="1.7" fill="#3a8888"/><circle cx="493.5" cy="195.7" r="1.7" fill="#b0c8e8"/><circle cx="472" cy="203" r="1.7" fill="#f0d020"/><circle cx="427.7" cy="205" r="1.7" fill="#e050a0"/><circle cx="493" cy="211" r="1.7" fill="#1a5a2a"/><circle cx="442" cy="218.8" r="1.7" fill="#80c8e0"/><circle cx="444" cy="231.8" r="1.7" fill="#c89030"/><circle cx="435.7" cy="233.7" r="1.7" fill="#d0a0c8"/><circle cx="497.7" cy="234.5" r="1.7" fill="#e02030"/><circle cx="444.6" cy="236.3" r="1.7" fill="#90c040"/><circle cx="502.5" cy="245.8" r="1.7" fill="#5e5a2a"/><circle cx="498" cy="260.4" r="1.7" fill="#c8a078"/><circle cx="482.4" cy="265" r="1.7" fill="#a0a890"/><circle cx="457.3" cy="273.6" r="1.7" fill="#f0a030"/><circle cx="482.4" cy="278.2" r="1.7" fill="#f0e0d0"/><circle cx="408" cy="299.7" r="1.7" fill="#f0d8d8"/><circle cx="461.2" cy="294.6" r="1.7" fill="#585858"/><circle cx="331.5" cy="308.5" r="1.7" fill="#f0a060"/></g>
<g font-size="7.48" fill="#2e2e2e"><text x="485" y="183.6">GBMLGG</text><text x="459.6" y="183.6">DLBC</text><text x="437" y="187.9">PCPG</text><text x="413.4" y="190.2">PRAD</text><text x="423" y="197.6">SARC</text><text x="439.7" y="205.0">KIDNEY</text><text x="476.2" y="206.9">LIHC</text><text x="496.5" y="199.9">LAML</text><text x="494.7" y="220.3">UVM</text><text x="455.4" y="216.8">THCA</text><text x="394.6" y="205.6">BRCA</text><text x="402.8" y="214.9">COADREAD</text><text x="447.3" y="226.3">OV</text><text x="411.8" y="231.4">HNSC</text><text x="415" y="243.0">LUNG</text><text x="446" y="245.1">STES</text><text x="476.4" y="230.9">TGCT</text><text x="499.8" y="242.4">ACC</text><text x="490.4" y="257.8">THYM</text><text x="462" y="274.6">SKCM</text><text x="434.6" y="282.2">CESC</text><text x="479.7" y="287.6">UCEC</text><text x="407.6" y="295.3">BLCA</text><text x="440" y="303.4">PAAD</text><text x="335.4" y="311.6">UCS</text></g>
<text x="235.3" y="549.1" font-size="10.45" font-weight="bold" fill="#111">G</text>
<text x="342.7" y="556.2" font-size="7.69" text-anchor="middle" fill="#262626">Discordant predictions</text>
<text x="342.7" y="565.2" font-size="7.69" text-anchor="middle" fill="#262626"><tspan font-style="italic">n</tspan> = 970</text>
<text x="283.3" y="572.2" font-size="7.69" text-anchor="middle" fill="#262626">Labels</text>
<text x="399.9" y="571.5" font-size="7.69" text-anchor="middle" fill="#262626">Predictions</text>
<g fill-opacity="0.68"><path d="M301.0,667.22C341.7,667.22 341.7,595.86 382.4,595.86L382.4,613.01C341.7,613.01 341.7,684.37 301.0,684.37Z" fill="#e6c4e6"/><path d="M301.0,738.66C341.7,738.66 341.7,644.64 382.4,644.64L382.4,653.88C341.7,653.88 341.7,747.89 301.0,747.89Z" fill="#98c858"/><path d="M301.0,716.50C341.7,716.50 341.7,712.39 382.4,712.39L382.4,720.21C341.7,720.21 341.7,724.32 301.0,724.32Z" fill="#a0a2c8"/><path d="M301.0,580.50C341.7,580.50 341.7,578.78 382.4,578.78L382.4,586.47C341.7,586.47 341.7,588.19 301.0,588.19Z" fill="#f2e4e6"/><path d="M301.0,588.40C341.7,588.40 341.7,656.90 382.4,656.90L382.4,664.14C341.7,664.14 341.7,595.65 301.0,595.65Z" fill="#f2e4e6"/><path d="M301.0,606.72C341.7,606.72 341.7,695.95 382.4,695.95L382.4,701.78C341.7,701.78 341.7,612.55 301.0,612.55Z" fill="#e07ab2"/><path d="M301.0,685.53C341.7,685.53 341.7,676.63 382.4,676.63L382.4,682.30C341.7,682.30 341.7,691.21 301.0,691.21Z" fill="#e6c4e6"/><path d="M301.0,703.80C341.7,703.80 341.7,618.56 382.4,618.56L382.4,624.15C341.7,624.15 341.7,709.39 301.0,709.39Z" fill="#e0a040"/><path d="M301.0,698.00C341.7,698.00 341.7,613.01 382.4,613.01L382.4,618.56C341.7,618.56 341.7,703.56 301.0,703.56Z" fill="#7860b8"/><path d="M301.0,648.72C341.7,648.72 341.7,704.30 382.4,704.30L382.4,709.76C341.7,709.76 341.7,654.18 301.0,654.18Z" fill="#a8d8b0"/><path d="M301.0,636.93C341.7,636.93 341.7,764.98 382.4,764.98L382.4,769.67C341.7,769.67 341.7,641.62 301.0,641.62Z" fill="#68c6d2"/><path d="M301.0,622.06C341.7,622.06 341.7,665.48 382.4,665.48L382.4,670.08C341.7,670.08 341.7,626.66 301.0,626.66Z" fill="#f6b84c"/><path d="M301.0,644.50C341.7,644.50 341.7,591.80 382.4,591.80L382.4,595.74C341.7,595.74 341.7,648.44 301.0,648.44Z" fill="#a8d8b0"/><path d="M301.0,617.49C341.7,617.49 341.7,586.47 382.4,586.47L382.4,590.13C341.7,590.13 341.7,621.15 301.0,621.15Z" fill="#f6b84c"/><path d="M301.0,613.01C341.7,613.01 341.7,736.41 382.4,736.41L382.4,739.79C341.7,739.79 341.7,616.39 301.0,616.39Z" fill="#e07ab2"/><path d="M301.0,598.55C341.7,598.55 341.7,692.75 382.4,692.75L382.4,695.95C341.7,695.95 341.7,601.74 301.0,601.74Z" fill="#f2e4e6"/><path d="M301.0,757.04C341.7,757.04 341.7,745.09 382.4,745.09L382.4,748.27C341.7,748.27 341.7,760.22 301.0,760.22Z" fill="#f8d848"/><path d="M301.0,692.33C341.7,692.33 341.7,750.36 382.4,750.36L382.4,753.36C341.7,753.36 341.7,695.34 301.0,695.34Z" fill="#e6c4e6"/><path d="M301.0,766.30C341.7,766.30 341.7,630.79 382.4,630.79L382.4,633.72C341.7,633.72 341.7,769.23 301.0,769.23Z" fill="#f6e6d6"/><path d="M301.0,776.50C341.7,776.50 341.7,779.61 382.4,779.61L382.4,782.46C341.7,782.46 341.7,779.35 301.0,779.35Z" fill="#f6e6d6"/><path d="M301.0,627.42C341.7,627.42 341.7,726.06 382.4,726.06L382.4,728.88C341.7,728.88 341.7,630.24 301.0,630.24Z" fill="#f6b84c"/><path d="M301.0,752.28C341.7,752.28 341.7,753.46 382.4,753.46L382.4,756.17C341.7,756.17 341.7,754.99 301.0,754.99Z" fill="#e84858"/><path d="M301.0,748.15C341.7,748.15 341.7,720.75 382.4,720.75L382.4,723.41C341.7,723.41 341.7,750.81 301.0,750.81Z" fill="#98c858"/><path d="M301.0,595.65C341.7,595.65 341.7,673.06 382.4,673.06L382.4,675.72C341.7,675.72 341.7,598.31 301.0,598.31Z" fill="#f2e4e6"/><path d="M301.0,773.84C341.7,773.84 341.7,756.53 382.4,756.53L382.4,759.20C341.7,759.20 341.7,776.50 301.0,776.50Z" fill="#f6e6d6"/><path d="M301.0,736.10C341.7,736.10 341.7,626.49 382.4,626.49L382.4,629.05C341.7,629.05 341.7,738.66 301.0,738.66Z" fill="#98c858"/><path d="M301.0,695.57C341.7,695.57 341.7,776.53 382.4,776.53L382.4,778.79C341.7,778.79 341.7,697.83 301.0,697.83Z" fill="#e6c4e6"/><path d="M301.0,577.85C341.7,577.85 341.7,690.50 382.4,690.50L382.4,692.75C341.7,692.75 341.7,580.10 301.0,580.10Z" fill="#a89f78"/><path d="M301.0,780.90C341.7,780.90 341.7,759.20 382.4,759.20L382.4,761.40C341.7,761.40 341.7,783.10 301.0,783.10Z" fill="#f0a870"/><path d="M301.0,762.52C341.7,762.52 341.7,723.52 382.4,723.52L382.4,725.47C341.7,725.47 341.7,764.47 301.0,764.47Z" fill="#d8c8a8"/><path d="M301.0,734.01C341.7,734.01 341.7,771.77 382.4,771.77L382.4,773.70C341.7,773.70 341.7,735.94 301.0,735.94Z" fill="#c8cc98"/><path d="M301.0,659.75C341.7,659.75 341.7,709.76 382.4,709.76L382.4,711.68C341.7,711.68 341.7,661.67 301.0,661.67Z" fill="#c8607a"/><path d="M301.0,654.18C341.7,654.18 341.7,729.12 382.4,729.12L382.4,730.99C341.7,730.99 341.7,656.05 301.0,656.05Z" fill="#a8d8b0"/><path d="M301.0,634.78C341.7,634.78 341.7,702.08 382.4,702.08L382.4,703.91C341.7,703.91 341.7,636.60 301.0,636.60Z" fill="#68c6d2"/><path d="M301.0,769.50C341.7,769.50 341.7,685.18 382.4,685.18L382.4,686.79C341.7,686.79 341.7,771.11 301.0,771.11Z" fill="#f6e6d6"/><path d="M301.0,601.85C341.7,601.85 341.7,761.89 382.4,761.89L382.4,763.49C341.7,763.49 341.7,603.44 301.0,603.44Z" fill="#f2e4e6"/><path d="M301.0,771.33C341.7,771.33 341.7,734.05 382.4,734.05L382.4,735.48C341.7,735.48 341.7,772.76 301.0,772.76Z" fill="#f6e6d6"/><path d="M301.0,575.30C341.7,575.30 341.7,577.40 382.4,577.40L382.4,578.78C341.7,578.78 341.7,576.68 301.0,576.68Z" fill="#a89f78"/><path d="M301.0,760.64C341.7,760.64 341.7,629.42 382.4,629.42L382.4,630.79C341.7,630.79 341.7,762.01 301.0,762.01Z" fill="#d8c8a8"/><path d="M301.0,657.80C341.7,657.80 341.7,635.84 382.4,635.84L382.4,637.20C341.7,637.20 341.7,659.16 301.0,659.16Z" fill="#c8607a"/><path d="M301.0,605.12C341.7,605.12 341.7,664.14 382.4,664.14L382.4,665.48C341.7,665.48 341.7,606.46 301.0,606.46Z" fill="#e07ab2"/><path d="M301.0,632.70C341.7,632.70 341.7,590.13 382.4,590.13L382.4,591.45C341.7,591.45 341.7,634.02 301.0,634.02Z" fill="#68c6d2"/><path d="M301.0,727.45C341.7,727.45 341.7,683.42 382.4,683.42L382.4,684.73C341.7,684.73 341.7,728.76 301.0,728.76Z" fill="#b05262"/><path d="M301.0,712.71C341.7,712.71 341.7,624.15 382.4,624.15L382.4,625.40C341.7,625.40 341.7,713.97 301.0,713.97Z" fill="#a0a2c8"/><path d="M301.0,709.39C341.7,709.39 341.7,641.94 382.4,641.94L382.4,643.15C341.7,643.15 341.7,710.59 301.0,710.59Z" fill="#e0a040"/><path d="M301.0,711.28C341.7,711.28 341.7,742.15 382.4,742.15L382.4,743.26C341.7,743.26 341.7,712.38 301.0,712.38Z" fill="#e0a040"/><path d="M301.0,731.58C341.7,731.58 341.7,625.40 382.4,625.40L382.4,626.49C341.7,626.49 341.7,732.67 301.0,732.67Z" fill="#c8cc98"/><path d="M301.0,772.76C341.7,772.76 341.7,748.52 382.4,748.52L382.4,749.60C341.7,749.60 341.7,773.84 301.0,773.84Z" fill="#f6e6d6"/><path d="M301.0,656.05C341.7,656.05 341.7,739.90 382.4,739.90L382.4,740.96C341.7,740.96 341.7,657.11 301.0,657.11Z" fill="#a8d8b0"/><path d="M301.0,662.36C341.7,662.36 341.7,740.96 382.4,740.96L382.4,742.00C341.7,742.00 341.7,663.40 301.0,663.40Z" fill="#c8607a"/><path d="M301.0,715.31C341.7,715.31 341.7,682.30 382.4,682.30L382.4,683.34C341.7,683.34 341.7,716.35 301.0,716.35Z" fill="#a0a2c8"/><path d="M301.0,664.62C341.7,664.62 341.7,731.67 382.4,731.67L382.4,732.69C341.7,732.69 341.7,665.63 301.0,665.63Z" fill="#c8d8f0"/><path d="M301.0,684.37C341.7,684.37 341.7,640.94 382.4,640.94L382.4,641.94C341.7,641.94 341.7,685.37 301.0,685.37Z" fill="#e6c4e6"/><path d="M301.0,691.38C341.7,691.38 341.7,688.84 382.4,688.84L382.4,689.79C341.7,689.79 341.7,692.33 301.0,692.33Z" fill="#e6c4e6"/><path d="M301.0,750.81C341.7,750.81 341.7,744.15 382.4,744.15L382.4,745.09C341.7,745.09 341.7,751.75 301.0,751.75Z" fill="#98c858"/><path d="M301.0,621.15C341.7,621.15 341.7,639.00 382.4,639.00L382.4,639.91C341.7,639.91 341.7,622.06 301.0,622.06Z" fill="#f6b84c"/><path d="M301.0,729.01C341.7,729.01 341.7,770.75 382.4,770.75L382.4,771.66C341.7,771.66 341.7,729.92 301.0,729.92Z" fill="#b05262"/><path d="M301.0,779.50C341.7,779.50 341.7,633.72 382.4,633.72L382.4,634.53C341.7,634.53 341.7,780.31 301.0,780.31Z" fill="#f0a870"/><path d="M301.0,713.97C341.7,713.97 341.7,643.15 382.4,643.15L382.4,643.92C341.7,643.92 341.7,714.74 301.0,714.74Z" fill="#a0a2c8"/><path d="M301.0,577.09C341.7,577.09 341.7,672.30 382.4,672.30L382.4,673.06C341.7,673.06 341.7,577.85 301.0,577.85Z" fill="#a89f78"/><path d="M301.0,724.51C341.7,724.51 341.7,743.26 382.4,743.26L382.4,744.00C341.7,744.00 341.7,725.25 301.0,725.25Z" fill="#a0a2c8"/><path d="M301.0,630.24C341.7,630.24 341.7,763.94 382.4,763.94L382.4,764.67C341.7,764.67 341.7,630.96 301.0,630.96Z" fill="#f6b84c"/><path d="M301.0,666.50C341.7,666.50 341.7,575.49 382.4,575.49L382.4,576.21C341.7,576.21 341.7,667.22 301.0,667.22Z" fill="#e6c4e6"/><path d="M301.0,661.67C341.7,661.67 341.7,730.99 382.4,730.99L382.4,731.67C341.7,731.67 341.7,662.36 301.0,662.36Z" fill="#c8607a"/><path d="M301.0,634.02C341.7,634.02 341.7,670.08 382.4,670.08L382.4,670.73C341.7,670.73 341.7,634.67 301.0,634.67Z" fill="#68c6d2"/><path d="M301.0,604.10C341.7,604.10 341.7,635.02 382.4,635.02L382.4,635.64C341.7,635.64 341.7,604.73 301.0,604.73Z" fill="#e07ab2"/><path d="M301.0,710.70C341.7,710.70 341.7,711.81 382.4,711.81L382.4,712.39C341.7,712.39 341.7,711.28 301.0,711.28Z" fill="#e0a040"/><path d="M301.0,665.81C341.7,665.81 341.7,770.17 382.4,770.17L382.4,770.75C341.7,770.75 341.7,666.39 301.0,666.39Z" fill="#c8d8f0"/><path d="M301.0,756.01C341.7,756.01 341.7,671.54 382.4,671.54L382.4,672.10C341.7,672.10 341.7,756.57 301.0,756.57Z" fill="#f8d848"/><path d="M301.0,733.47C341.7,733.47 341.7,720.21 382.4,720.21L382.4,720.75C341.7,720.75 341.7,734.01 301.0,734.01Z" fill="#c8cc98"/><path d="M301.0,657.11C341.7,657.11 341.7,776.02 382.4,776.02L382.4,776.53C341.7,776.53 341.7,657.62 301.0,657.62Z" fill="#a8d8b0"/><path d="M301.0,642.35C341.7,642.35 341.7,640.01 382.4,640.01L382.4,640.52C341.7,640.52 341.7,642.86 301.0,642.86Z" fill="#e8867c"/><path d="M301.0,603.44C341.7,603.44 341.7,774.40 382.4,774.40L382.4,774.90C341.7,774.90 341.7,603.94 301.0,603.94Z" fill="#f2e4e6"/><path d="M301.0,714.83C341.7,714.83 341.7,670.84 382.4,670.84L382.4,671.32C341.7,671.32 341.7,715.31 301.0,715.31Z" fill="#a0a2c8"/><path d="M301.0,626.66C341.7,626.66 341.7,675.98 382.4,675.98L382.4,676.45C341.7,676.45 341.7,627.13 301.0,627.13Z" fill="#f6b84c"/><path d="M301.0,612.55C341.7,612.55 341.7,725.60 382.4,725.60L382.4,726.06C341.7,726.06 341.7,613.01 301.0,613.01Z" fill="#e07ab2"/><path d="M301.0,616.39C341.7,616.39 341.7,763.49 382.4,763.49L382.4,763.94C341.7,763.94 341.7,616.85 301.0,616.85Z" fill="#e07ab2"/><path d="M301.0,616.85C341.7,616.85 341.7,774.90 382.4,774.90L382.4,775.35C341.7,775.35 341.7,617.30 301.0,617.30Z" fill="#e07ab2"/><path d="M301.0,764.47C341.7,764.47 341.7,733.62 382.4,733.62L382.4,734.05C341.7,734.05 341.7,764.90 301.0,764.90Z" fill="#d8c8a8"/><path d="M301.0,659.16C341.7,659.16 341.7,640.52 382.4,640.52L382.4,640.94C341.7,640.94 341.7,659.58 301.0,659.58Z" fill="#c8607a"/><path d="M301.0,576.68C341.7,576.68 341.7,634.60 382.4,634.60L382.4,635.02C341.7,635.02 341.7,577.09 301.0,577.09Z" fill="#a89f78"/><path d="M301.0,604.73C341.7,604.73 341.7,638.60 382.4,638.60L382.4,639.00C341.7,639.00 341.7,605.12 301.0,605.12Z" fill="#e07ab2"/><path d="M301.0,732.67C341.7,732.67 341.7,637.79 382.4,637.79L382.4,638.18C341.7,638.18 341.7,733.06 301.0,733.06Z" fill="#c8cc98"/><path d="M301.0,765.72C341.7,765.72 341.7,779.22 382.4,779.22L382.4,779.61C341.7,779.61 341.7,766.11 301.0,766.11Z" fill="#d8c8a8"/><path d="M301.0,727.06C341.7,727.06 341.7,656.05 382.4,656.05L382.4,656.44C341.7,656.44 341.7,727.45 301.0,727.45Z" fill="#b05262"/><path d="M301.0,755.30C341.7,755.30 341.7,629.05 382.4,629.05L382.4,629.42C341.7,629.42 341.7,755.67 301.0,755.67Z" fill="#f8d848"/><path d="M301.0,643.26C341.7,643.26 341.7,769.67 382.4,769.67L382.4,770.04C341.7,770.04 341.7,643.63 301.0,643.63Z" fill="#e8867c"/><path d="M301.0,756.68C341.7,756.68 341.7,733.26 382.4,733.26L382.4,733.62C341.7,733.62 341.7,757.04 301.0,757.04Z" fill="#f8d848"/><path d="M301.0,765.36C341.7,765.36 341.7,773.70 382.4,773.70L382.4,774.06C341.7,774.06 341.7,765.72 301.0,765.72Z" fill="#d8c8a8"/><path d="M301.0,725.82C341.7,725.82 341.7,637.43 382.4,637.43L382.4,637.79C341.7,637.79 341.7,726.18 301.0,726.18Z" fill="#f0c850"/><path d="M301.0,641.80C341.7,641.80 341.7,591.45 382.4,591.45L382.4,591.80C341.7,591.80 341.7,642.15 301.0,642.15Z" fill="#e8867c"/><path d="M301.0,630.96C341.7,630.96 341.7,775.35 382.4,775.35L382.4,775.69C341.7,775.69 341.7,631.31 301.0,631.31Z" fill="#f6b84c"/><path d="M301.0,733.06C341.7,733.06 341.7,644.31 382.4,644.31L382.4,644.64C341.7,644.64 341.7,733.39 301.0,733.39Z" fill="#c8cc98"/><path d="M301.0,643.63C341.7,643.63 341.7,775.69 382.4,775.69L382.4,776.02C341.7,776.02 341.7,643.95 301.0,643.95Z" fill="#e8867c"/><path d="M301.0,725.25C341.7,725.25 341.7,778.79 382.4,778.79L382.4,779.10C341.7,779.10 341.7,725.56 301.0,725.56Z" fill="#a0a2c8"/><path d="M301.0,632.20C341.7,632.20 341.7,764.67 382.4,764.67L382.4,764.98C341.7,764.98 341.7,632.51 301.0,632.51Z" fill="#5048a8"/><path d="M301.0,631.89C341.7,631.89 341.7,701.78 382.4,701.78L382.4,702.08C341.7,702.08 341.7,632.20 301.0,632.20Z" fill="#5048a8"/><path d="M301.0,642.86C341.7,642.86 341.7,703.91 382.4,703.91L382.4,704.20C341.7,704.20 341.7,643.15 301.0,643.15Z" fill="#e8867c"/><path d="M301.0,783.10C341.7,783.10 341.7,782.46 382.4,782.46L382.4,782.75C341.7,782.75 341.7,783.39 301.0,783.39Z" fill="#f0a870"/><path d="M301.0,648.44C341.7,648.44 341.7,655.48 382.4,655.48L382.4,655.76C341.7,655.76 341.7,648.72 301.0,648.72Z" fill="#a8d8b0"/><path d="M301.0,762.01C341.7,762.01 341.7,638.32 382.4,638.32L382.4,638.60C341.7,638.60 341.7,762.28 301.0,762.28Z" fill="#d8c8a8"/><path d="M301.0,606.46C341.7,606.46 341.7,675.72 382.4,675.72L382.4,675.98C341.7,675.98 341.7,606.72 301.0,606.72Z" fill="#e07ab2"/><path d="M301.0,730.82C341.7,730.82 341.7,732.88 382.4,732.88L382.4,733.14C341.7,733.14 341.7,731.07 301.0,731.07Z" fill="#68b8b0"/><path d="M301.0,747.89C341.7,747.89 341.7,684.92 382.4,684.92L382.4,685.18C341.7,685.18 341.7,748.15 301.0,748.15Z" fill="#98c858"/><path d="M301.0,780.65C341.7,780.65 341.7,749.60 382.4,749.60L382.4,749.85C341.7,749.85 341.7,780.90 301.0,780.90Z" fill="#f0a870"/><path d="M301.0,764.90C341.7,764.90 341.7,748.27 382.4,748.27L382.4,748.52C341.7,748.52 341.7,765.15 301.0,765.15Z" fill="#d8c8a8"/><path d="M301.0,730.30C341.7,730.30 341.7,644.07 382.4,644.07L382.4,644.31C341.7,644.31 341.7,730.54 301.0,730.54Z" fill="#68b8b0"/><path d="M301.0,636.60C341.7,636.60 341.7,728.88 382.4,728.88L382.4,729.12C341.7,729.12 341.7,636.85 301.0,636.85Z" fill="#68c6d2"/><path d="M301.0,598.31C341.7,598.31 341.7,687.10 382.4,687.10L382.4,687.34C341.7,687.34 341.7,598.55 301.0,598.55Z" fill="#f2e4e6"/><path d="M301.0,663.62C341.7,663.62 341.7,637.20 382.4,637.20L382.4,637.43C341.7,637.43 341.7,663.85 301.0,663.85Z" fill="#b08a76"/><path d="M301.0,755.67C341.7,755.67 341.7,653.88 382.4,653.88L382.4,654.10C341.7,654.10 341.7,755.89 301.0,755.89Z" fill="#f8d848"/><path d="M301.0,751.94C341.7,751.94 341.7,671.32 382.4,671.32L382.4,671.54C341.7,671.54 341.7,752.16 301.0,752.16Z" fill="#e84858"/><path d="M301.0,783.60C341.7,783.60 341.7,735.48 382.4,735.48L382.4,735.70C341.7,735.70 341.7,783.81 301.0,783.81Z" fill="#50a868"/><path d="M301.0,712.50C341.7,712.50 341.7,576.21 382.4,576.21L382.4,576.42C341.7,576.42 341.7,712.71 301.0,712.71Z" fill="#a0a2c8"/><path d="M301.0,765.15C341.7,765.15 341.7,756.33 382.4,756.33L382.4,756.53C341.7,756.53 341.7,765.36 301.0,765.36Z" fill="#d8c8a8"/><path d="M301.0,780.45C341.7,780.45 341.7,686.79 382.4,686.79L382.4,686.99C341.7,686.99 341.7,780.65 301.0,780.65Z" fill="#f0a870"/><path d="M301.0,627.22C341.7,627.22 341.7,688.40 382.4,688.40L382.4,688.60C341.7,688.60 341.7,627.42 301.0,627.42Z" fill="#f6b84c"/><path d="M301.0,642.15C341.7,642.15 341.7,635.64 382.4,635.64L382.4,635.84C341.7,635.84 341.7,642.35 301.0,642.35Z" fill="#e8867c"/><path d="M301.0,724.32C341.7,724.32 341.7,732.69 382.4,732.69L382.4,732.88C341.7,732.88 341.7,724.51 301.0,724.51Z" fill="#a0a2c8"/><path d="M301.0,730.63C341.7,730.63 341.7,684.73 382.4,684.73L382.4,684.92C341.7,684.92 341.7,730.82 301.0,730.82Z" fill="#68b8b0"/><path d="M301.0,631.59C341.7,631.59 341.7,676.45 382.4,676.45L382.4,676.63C341.7,676.63 341.7,631.77 301.0,631.77Z" fill="#5048a8"/><path d="M301.0,665.63C341.7,665.63 341.7,750.18 382.4,750.18L382.4,750.36C341.7,750.36 341.7,665.81 301.0,665.81Z" fill="#c8d8f0"/><path d="M301.0,691.21C341.7,691.21 341.7,687.43 382.4,687.43L382.4,687.60C341.7,687.60 341.7,691.38 301.0,691.38Z" fill="#e6c4e6"/><path d="M301.0,659.58C341.7,659.58 341.7,655.76 382.4,655.76L382.4,655.93C341.7,655.93 341.7,659.75 301.0,659.75Z" fill="#c8607a"/><path d="M301.0,726.89C341.7,726.89 341.7,654.57 382.4,654.57L382.4,654.74C341.7,654.74 341.7,727.06 301.0,727.06Z" fill="#b05262"/><path d="M301.0,685.37C341.7,685.37 341.7,654.32 382.4,654.32L382.4,654.48C341.7,654.48 341.7,685.53 301.0,685.53Z" fill="#e6c4e6"/><path d="M301.0,760.22C341.7,760.22 341.7,756.17 382.4,756.17L382.4,756.33C341.7,756.33 341.7,760.38 301.0,760.38Z" fill="#f8d848"/><path d="M301.0,769.23C341.7,769.23 341.7,654.94 382.4,654.94L382.4,655.10C341.7,655.10 341.7,769.39 301.0,769.39Z" fill="#f6e6d6"/><path d="M301.0,716.35C341.7,716.35 341.7,689.79 382.4,689.79L382.4,689.94C341.7,689.94 341.7,716.50 301.0,716.50Z" fill="#a0a2c8"/><path d="M301.0,663.99C341.7,663.99 341.7,742.00 382.4,742.00L382.4,742.15C341.7,742.15 341.7,664.14 301.0,664.14Z" fill="#b08a76"/><path d="M301.0,726.18C341.7,726.18 341.7,643.92 382.4,643.92L382.4,644.07C341.7,644.07 341.7,726.32 301.0,726.32Z" fill="#f0c850"/><path d="M301.0,731.07C341.7,731.07 341.7,744.00 382.4,744.00L382.4,744.15C341.7,744.15 341.7,731.22 301.0,731.22Z" fill="#68b8b0"/><path d="M301.0,751.80C341.7,751.80 341.7,638.18 382.4,638.18L382.4,638.32C341.7,638.32 341.7,751.94 301.0,751.94Z" fill="#e84858"/><path d="M301.0,760.50C341.7,760.50 341.7,576.62 382.4,576.62L382.4,576.76C341.7,576.76 341.7,760.64 301.0,760.64Z" fill="#d8c8a8"/><path d="M301.0,780.31C341.7,780.31 341.7,672.10 382.4,672.10L382.4,672.24C341.7,672.24 341.7,780.45 301.0,780.45Z" fill="#f0a870"/><path d="M301.0,762.39C341.7,762.39 341.7,690.03 382.4,690.03L382.4,690.16C341.7,690.16 341.7,762.52 301.0,762.52Z" fill="#d8c8a8"/><path d="M301.0,663.85C341.7,663.85 341.7,711.68 382.4,711.68L382.4,711.81C341.7,711.81 341.7,663.99 301.0,663.99Z" fill="#b08a76"/><path d="M301.0,588.19C341.7,588.19 341.7,654.10 382.4,654.10L382.4,654.23C341.7,654.23 341.7,588.32 301.0,588.32Z" fill="#f2e4e6"/><path d="M301.0,664.22C341.7,664.22 341.7,770.04 382.4,770.04L382.4,770.17C341.7,770.17 341.7,664.35 301.0,664.35Z" fill="#b08a76"/><path d="M301.0,729.92C341.7,729.92 341.7,783.50 382.4,783.50L382.4,783.63C341.7,783.63 341.7,730.05 301.0,730.05Z" fill="#b05262"/><path d="M301.0,631.77C341.7,631.77 341.7,688.60 382.4,688.60L382.4,688.72C341.7,688.72 341.7,631.89 301.0,631.89Z" fill="#5048a8"/><path d="M301.0,728.88C341.7,728.88 341.7,735.80 382.4,735.80L382.4,735.93C341.7,735.93 341.7,729.01 301.0,729.01Z" fill="#b05262"/><path d="M301.0,728.76C341.7,728.76 341.7,687.71 382.4,687.71L382.4,687.83C341.7,687.83 341.7,728.88 301.0,728.88Z" fill="#b05262"/><path d="M301.0,664.50C341.7,664.50 341.7,655.93 382.4,655.93L382.4,656.05C341.7,656.05 341.7,664.62 301.0,664.62Z" fill="#c8d8f0"/><path d="M301.0,695.34C341.7,695.34 341.7,761.40 382.4,761.40L382.4,761.52C341.7,761.52 341.7,695.46 301.0,695.46Z" fill="#e6c4e6"/><path d="M301.0,752.16C341.7,752.16 341.7,733.14 382.4,733.14L382.4,733.26C341.7,733.26 341.7,752.28 301.0,752.28Z" fill="#e84858"/><path d="M301.0,725.70C341.7,725.70 341.7,576.42 382.4,576.42L382.4,576.54C341.7,576.54 341.7,725.82 301.0,725.82Z" fill="#f0c850"/><path d="M301.0,663.50C341.7,663.50 341.7,595.74 382.4,595.74L382.4,595.86C341.7,595.86 341.7,663.62 301.0,663.62Z" fill="#b08a76"/><path d="M301.0,726.59C341.7,726.59 341.7,779.10 382.4,779.10L382.4,779.22C341.7,779.22 341.7,726.71 301.0,726.71Z" fill="#f0c850"/><path d="M301.0,771.11C341.7,771.11 341.7,687.83 382.4,687.83L382.4,687.94C341.7,687.94 341.7,771.23 301.0,771.23Z" fill="#f6e6d6"/><path d="M301.0,755.89C341.7,755.89 341.7,654.82 382.4,654.82L382.4,654.94C341.7,654.94 341.7,756.01 301.0,756.01Z" fill="#f8d848"/><path d="M301.0,643.15C341.7,643.15 341.7,749.98 382.4,749.98L382.4,750.10C341.7,750.10 341.7,643.26 301.0,643.26Z" fill="#e8867c"/><path d="M301.0,731.22C341.7,731.22 341.7,771.66 382.4,771.66L382.4,771.77C341.7,771.77 341.7,731.33 301.0,731.33Z" fill="#68b8b0"/><path d="M301.0,634.67C341.7,634.67 341.7,688.72 382.4,688.72L382.4,688.84C341.7,688.84 341.7,634.78 301.0,634.78Z" fill="#68c6d2"/><path d="M301.0,644.31C341.7,644.31 341.7,739.79 382.4,739.79L382.4,739.90C341.7,739.90 341.7,644.42 301.0,644.42Z" fill="#68aae0"/><path d="M301.0,644.10C341.7,644.10 341.7,670.73 382.4,670.73L382.4,670.84C341.7,670.84 341.7,644.21 301.0,644.21Z" fill="#68aae0"/><path d="M301.0,695.46C341.7,695.46 341.7,774.10 382.4,774.10L382.4,774.21C341.7,774.21 341.7,695.57 301.0,695.57Z" fill="#e6c4e6"/><path d="M301.0,769.39C341.7,769.39 341.7,656.62 382.4,656.62L382.4,656.73C341.7,656.73 341.7,769.50 301.0,769.50Z" fill="#f6e6d6"/><path d="M301.0,756.57C341.7,756.57 341.7,723.41 382.4,723.41L382.4,723.52C341.7,723.52 341.7,756.68 301.0,756.68Z" fill="#f8d848"/><path d="M301.0,580.10C341.7,580.10 341.7,736.30 382.4,736.30L382.4,736.41C341.7,736.41 341.7,580.21 301.0,580.21Z" fill="#a89f78"/><path d="M301.0,601.74C341.7,601.74 341.7,735.70 382.4,735.70L382.4,735.80C341.7,735.80 341.7,601.85 301.0,601.85Z" fill="#f2e4e6"/><path d="M301.0,771.23C341.7,771.23 341.7,690.16 382.4,690.16L382.4,690.27C341.7,690.27 341.7,771.33 301.0,771.33Z" fill="#f6e6d6"/><path d="M301.0,632.60C341.7,632.60 341.7,575.39 382.4,575.39L382.4,575.49C341.7,575.49 341.7,632.70 301.0,632.70Z" fill="#68c6d2"/><path d="M301.0,762.28C341.7,762.28 341.7,656.52 382.4,656.52L382.4,656.62C341.7,656.62 341.7,762.39 301.0,762.39Z" fill="#d8c8a8"/><path d="M301.0,710.59C341.7,710.59 341.7,687.60 382.4,687.60L382.4,687.71C341.7,687.71 341.7,710.70 301.0,710.70Z" fill="#e0a040"/><path d="M301.0,730.05C341.7,730.05 341.7,783.80 382.4,783.80L382.4,783.90C341.7,783.90 341.7,730.15 301.0,730.15Z" fill="#b05262"/><path d="M301.0,631.40C341.7,631.40 341.7,639.91 382.4,639.91L382.4,640.01C341.7,640.01 341.7,631.50 301.0,631.50Z" fill="#5048a8"/><path d="M301.0,783.50C341.7,783.50 341.7,725.47 382.4,725.47L382.4,725.57C341.7,725.57 341.7,783.60 301.0,783.60Z" fill="#50a868"/><path d="M301.0,644.21C341.7,644.21 341.7,704.20 382.4,704.20L382.4,704.30C341.7,704.30 341.7,644.31 301.0,644.31Z" fill="#68aae0"/><path d="M301.0,726.50C341.7,726.50 341.7,753.36 382.4,753.36L382.4,753.46C341.7,753.46 341.7,726.59 301.0,726.59Z" fill="#f0c850"/><path d="M301.0,726.80C341.7,726.80 341.7,576.90 382.4,576.90L382.4,576.99C341.7,576.99 341.7,726.89 301.0,726.89Z" fill="#b05262"/><path d="M301.0,580.21C341.7,580.21 341.7,761.80 382.4,761.80L382.4,761.89C341.7,761.89 341.7,580.30 301.0,580.30Z" fill="#a89f78"/><path d="M301.0,714.74C341.7,714.74 341.7,654.48 382.4,654.48L382.4,654.57C341.7,654.57 341.7,714.83 301.0,714.83Z" fill="#a0a2c8"/><path d="M301.0,627.13C341.7,627.13 341.7,687.34 382.4,687.34L382.4,687.43C341.7,687.43 341.7,627.22 301.0,627.22Z" fill="#f6b84c"/><path d="M301.0,726.41C341.7,726.41 341.7,689.94 382.4,689.94L382.4,690.03C341.7,690.03 341.7,726.50 301.0,726.50Z" fill="#f0c850"/><path d="M301.0,631.50C341.7,631.50 341.7,654.23 382.4,654.23L382.4,654.32C341.7,654.32 341.7,631.59 301.0,631.59Z" fill="#5048a8"/><path d="M301.0,726.32C341.7,726.32 341.7,683.34 382.4,683.34L382.4,683.42C341.7,683.42 341.7,726.41 301.0,726.41Z" fill="#f0c850"/><path d="M301.0,617.40C341.7,617.40 341.7,575.30 382.4,575.30L382.4,575.39C341.7,575.39 341.7,617.49 301.0,617.49Z" fill="#f6b84c"/><path d="M301.0,730.54C341.7,730.54 341.7,654.74 382.4,654.74L382.4,654.82C341.7,654.82 341.7,730.63 301.0,730.63Z" fill="#68b8b0"/><path d="M301.0,636.85C341.7,636.85 341.7,749.90 382.4,749.90L382.4,749.98C341.7,749.98 341.7,636.93 301.0,636.93Z" fill="#68c6d2"/><path d="M301.0,731.50C341.7,731.50 341.7,576.54 382.4,576.54L382.4,576.62C341.7,576.62 341.7,731.58 301.0,731.58Z" fill="#c8cc98"/><path d="M301.0,697.83C341.7,697.83 341.7,783.20 382.4,783.20L382.4,783.28C341.7,783.28 341.7,697.91 301.0,697.91Z" fill="#e6c4e6"/><path d="M301.0,588.32C341.7,588.32 341.7,655.40 382.4,655.40L382.4,655.48C341.7,655.48 341.7,588.40 301.0,588.40Z" fill="#f2e4e6"/><path d="M301.0,733.39C341.7,733.39 341.7,656.44 382.4,656.44L382.4,656.52C341.7,656.52 341.7,733.47 301.0,733.47Z" fill="#c8cc98"/><path d="M301.0,664.14C341.7,664.14 341.7,750.10 382.4,750.10L382.4,750.18C341.7,750.18 341.7,664.22 301.0,664.22Z" fill="#b08a76"/></g>
<g><rect x="265.4" y="575.30" width="35.6" height="5.20" fill="#d7d3c2" stroke="#8a7e84" stroke-width="0.45"/><rect x="265.4" y="580.50" width="35.6" height="23.60" fill="#f9f2f3" stroke="#8a7e84" stroke-width="0.45"/><rect x="265.4" y="604.10" width="35.6" height="13.30" fill="#f1c3dc" stroke="#8a7e84" stroke-width="0.45"/><rect x="265.4" y="617.40" width="35.6" height="14.00" fill="#fadfae" stroke="#8a7e84" stroke-width="0.45"/><rect x="265.4" y="631.40" width="35.6" height="1.20" fill="#b0acd7" stroke="#8a7e84" stroke-width="0.45"/><rect x="265.4" y="632.60" width="35.6" height="9.20" fill="#bbe5ea" stroke="#8a7e84" stroke-width="0.45"/><rect x="265.4" y="641.80" width="35.6" height="2.30" fill="#f4c8c4" stroke="#8a7e84" stroke-width="0.45"/><rect x="265.4" y="644.10" width="35.6" height="0.40" fill="#bbd8f1" stroke="#8a7e84" stroke-width="0.45"/><rect x="265.4" y="644.50" width="35.6" height="13.30" fill="#d7eddb" stroke="#8a7e84" stroke-width="0.45"/><rect x="265.4" y="657.80" width="35.6" height="5.70" fill="#e6b7c3" stroke="#8a7e84" stroke-width="0.45"/><rect x="265.4" y="663.50" width="35.6" height="1.00" fill="#dbcac1" stroke="#8a7e84" stroke-width="0.45"/><rect x="265.4" y="664.50" width="35.6" height="2.00" fill="#e6edf8" stroke="#8a7e84" stroke-width="0.45"/><rect x="265.4" y="666.50" width="35.6" height="31.50" fill="#f3e4f3" stroke="#8a7e84" stroke-width="0.45"/><rect x="265.4" y="698.00" width="35.6" height="5.80" fill="#c2b7df" stroke="#8a7e84" stroke-width="0.45"/><rect x="265.4" y="703.80" width="35.6" height="8.70" fill="#f1d4a9" stroke="#8a7e84" stroke-width="0.45"/><rect x="265.4" y="712.50" width="35.6" height="13.20" fill="#d4d5e6" stroke="#8a7e84" stroke-width="0.45"/><rect x="265.4" y="725.70" width="35.6" height="1.10" fill="#f8e6b0" stroke="#8a7e84" stroke-width="0.45"/><rect x="265.4" y="726.80" width="35.6" height="3.50" fill="#dbb1b8" stroke="#8a7e84" stroke-width="0.45"/><rect x="265.4" y="730.30" width="35.6" height="1.20" fill="#bbdfdb" stroke="#8a7e84" stroke-width="0.45"/><rect x="265.4" y="731.50" width="35.6" height="4.60" fill="#e6e8d0" stroke="#8a7e84" stroke-width="0.45"/><rect x="265.4" y="736.10" width="35.6" height="15.70" fill="#d0e6b3" stroke="#8a7e84" stroke-width="0.45"/><rect x="265.4" y="751.80" width="35.6" height="3.50" fill="#f4acb3" stroke="#8a7e84" stroke-width="0.45"/><rect x="265.4" y="755.30" width="35.6" height="5.20" fill="#fbedac" stroke="#8a7e84" stroke-width="0.45"/><rect x="265.4" y="760.50" width="35.6" height="5.80" fill="#ede6d7" stroke="#8a7e84" stroke-width="0.45"/><rect x="265.4" y="766.30" width="35.6" height="13.20" fill="#faf3ec" stroke="#8a7e84" stroke-width="0.45"/><rect x="265.4" y="779.50" width="35.6" height="4.00" fill="#f8d7be" stroke="#8a7e84" stroke-width="0.45"/><rect x="265.4" y="783.50" width="35.6" height="0.60" fill="#b0d7bb" stroke="#8a7e84" stroke-width="0.45"/></g>
<g><rect x="382.4" y="577.40" width="35.6" height="1.38" fill="#d5d0be"/><rect x="382.4" y="634.60" width="35.6" height="0.42" fill="#d5d0be"/><rect x="382.4" y="672.30" width="35.6" height="0.76" fill="#d5d0be"/><rect x="382.4" y="690.50" width="35.6" height="2.25" fill="#d5d0be"/><rect x="382.4" y="736.30" width="35.6" height="0.11" fill="#d5d0be"/><rect x="382.4" y="761.80" width="35.6" height="0.09" fill="#d5d0be"/><rect x="382.4" y="578.78" width="35.6" height="7.69" fill="#f8f2f3"/><rect x="382.4" y="654.10" width="35.6" height="0.13" fill="#f8f2f3"/><rect x="382.4" y="655.40" width="35.6" height="0.08" fill="#f8f2f3"/><rect x="382.4" y="656.90" width="35.6" height="7.24" fill="#f8f2f3"/><rect x="382.4" y="673.06" width="35.6" height="2.66" fill="#f8f2f3"/><rect x="382.4" y="687.10" width="35.6" height="0.24" fill="#f8f2f3"/><rect x="382.4" y="692.75" width="35.6" height="3.20" fill="#f8f2f3"/><rect x="382.4" y="735.70" width="35.6" height="0.10" fill="#f8f2f3"/><rect x="382.4" y="761.89" width="35.6" height="1.59" fill="#f8f2f3"/><rect x="382.4" y="774.40" width="35.6" height="0.50" fill="#f8f2f3"/><rect x="382.4" y="635.02" width="35.6" height="0.63" fill="#f0bfda"/><rect x="382.4" y="638.60" width="35.6" height="0.40" fill="#f0bfda"/><rect x="382.4" y="664.14" width="35.6" height="1.34" fill="#f0bfda"/><rect x="382.4" y="675.72" width="35.6" height="0.26" fill="#f0bfda"/><rect x="382.4" y="695.95" width="35.6" height="5.83" fill="#f0bfda"/><rect x="382.4" y="725.60" width="35.6" height="0.46" fill="#f0bfda"/><rect x="382.4" y="736.41" width="35.6" height="3.38" fill="#f0bfda"/><rect x="382.4" y="763.49" width="35.6" height="0.46" fill="#f0bfda"/><rect x="382.4" y="774.90" width="35.6" height="0.45" fill="#f0bfda"/><rect x="382.4" y="575.30" width="35.6" height="0.09" fill="#fadca9"/><rect x="382.4" y="586.47" width="35.6" height="3.66" fill="#fadca9"/><rect x="382.4" y="639.00" width="35.6" height="0.91" fill="#fadca9"/><rect x="382.4" y="665.48" width="35.6" height="4.60" fill="#fadca9"/><rect x="382.4" y="675.98" width="35.6" height="0.47" fill="#fadca9"/><rect x="382.4" y="687.34" width="35.6" height="0.09" fill="#fadca9"/><rect x="382.4" y="688.40" width="35.6" height="0.20" fill="#fadca9"/><rect x="382.4" y="726.06" width="35.6" height="2.82" fill="#fadca9"/><rect x="382.4" y="763.94" width="35.6" height="0.73" fill="#fadca9"/><rect x="382.4" y="775.35" width="35.6" height="0.35" fill="#fadca9"/><rect x="382.4" y="639.91" width="35.6" height="0.10" fill="#aba7d5"/><rect x="382.4" y="654.23" width="35.6" height="0.09" fill="#aba7d5"/><rect x="382.4" y="676.45" width="35.6" height="0.18" fill="#aba7d5"/><rect x="382.4" y="688.60" width="35.6" height="0.13" fill="#aba7d5"/><rect x="382.4" y="701.78" width="35.6" height="0.30" fill="#aba7d5"/><rect x="382.4" y="764.67" width="35.6" height="0.31" fill="#aba7d5"/><rect x="382.4" y="575.39" width="35.6" height="0.10" fill="#b6e3e9"/><rect x="382.4" y="590.13" width="35.6" height="1.32" fill="#b6e3e9"/><rect x="382.4" y="670.08" width="35.6" height="0.65" fill="#b6e3e9"/><rect x="382.4" y="688.72" width="35.6" height="0.11" fill="#b6e3e9"/><rect x="382.4" y="702.08" width="35.6" height="1.83" fill="#b6e3e9"/><rect x="382.4" y="728.88" width="35.6" height="0.24" fill="#b6e3e9"/><rect x="382.4" y="749.90" width="35.6" height="0.08" fill="#b6e3e9"/><rect x="382.4" y="764.98" width="35.6" height="4.69" fill="#b6e3e9"/><rect x="382.4" y="591.45" width="35.6" height="0.35" fill="#f3c4c0"/><rect x="382.4" y="635.64" width="35.6" height="0.20" fill="#f3c4c0"/><rect x="382.4" y="640.01" width="35.6" height="0.51" fill="#f3c4c0"/><rect x="382.4" y="703.91" width="35.6" height="0.29" fill="#f3c4c0"/><rect x="382.4" y="749.98" width="35.6" height="0.11" fill="#f3c4c0"/><rect x="382.4" y="769.67" width="35.6" height="0.37" fill="#f3c4c0"/><rect x="382.4" y="775.69" width="35.6" height="0.33" fill="#f3c4c0"/><rect x="382.4" y="670.73" width="35.6" height="0.11" fill="#b6d6f0"/><rect x="382.4" y="704.20" width="35.6" height="0.10" fill="#b6d6f0"/><rect x="382.4" y="739.79" width="35.6" height="0.11" fill="#b6d6f0"/><rect x="382.4" y="591.80" width="35.6" height="3.94" fill="#d5ecd9"/><rect x="382.4" y="655.48" width="35.6" height="0.28" fill="#d5ecd9"/><rect x="382.4" y="704.30" width="35.6" height="5.46" fill="#d5ecd9"/><rect x="382.4" y="729.12" width="35.6" height="1.87" fill="#d5ecd9"/><rect x="382.4" y="739.90" width="35.6" height="1.06" fill="#d5ecd9"/><rect x="382.4" y="776.02" width="35.6" height="0.51" fill="#d5ecd9"/><rect x="382.4" y="635.84" width="35.6" height="1.36" fill="#e4b2bf"/><rect x="382.4" y="640.52" width="35.6" height="0.42" fill="#e4b2bf"/><rect x="382.4" y="655.76" width="35.6" height="0.17" fill="#e4b2bf"/><rect x="382.4" y="709.76" width="35.6" height="1.92" fill="#e4b2bf"/><rect x="382.4" y="730.99" width="35.6" height="0.69" fill="#e4b2bf"/><rect x="382.4" y="740.96" width="35.6" height="1.04" fill="#e4b2bf"/><rect x="382.4" y="595.74" width="35.6" height="0.12" fill="#d9c6bd"/><rect x="382.4" y="637.20" width="35.6" height="0.24" fill="#d9c6bd"/><rect x="382.4" y="711.68" width="35.6" height="0.14" fill="#d9c6bd"/><rect x="382.4" y="742.00" width="35.6" height="0.15" fill="#d9c6bd"/><rect x="382.4" y="750.10" width="35.6" height="0.08" fill="#d9c6bd"/><rect x="382.4" y="770.04" width="35.6" height="0.13" fill="#d9c6bd"/><rect x="382.4" y="655.93" width="35.6" height="0.12" fill="#e4ecf7"/><rect x="382.4" y="731.67" width="35.6" height="1.01" fill="#e4ecf7"/><rect x="382.4" y="750.18" width="35.6" height="0.18" fill="#e4ecf7"/><rect x="382.4" y="770.17" width="35.6" height="0.58" fill="#e4ecf7"/><rect x="382.4" y="575.49" width="35.6" height="0.72" fill="#f3e2f3"/><rect x="382.4" y="595.86" width="35.6" height="17.15" fill="#f3e2f3"/><rect x="382.4" y="640.94" width="35.6" height="1.00" fill="#f3e2f3"/><rect x="382.4" y="654.32" width="35.6" height="0.16" fill="#f3e2f3"/><rect x="382.4" y="676.63" width="35.6" height="5.67" fill="#f3e2f3"/><rect x="382.4" y="687.43" width="35.6" height="0.18" fill="#f3e2f3"/><rect x="382.4" y="688.84" width="35.6" height="0.95" fill="#f3e2f3"/><rect x="382.4" y="750.36" width="35.6" height="3.01" fill="#f3e2f3"/><rect x="382.4" y="761.40" width="35.6" height="0.12" fill="#f3e2f3"/><rect x="382.4" y="774.10" width="35.6" height="0.11" fill="#f3e2f3"/><rect x="382.4" y="776.53" width="35.6" height="2.26" fill="#f3e2f3"/><rect x="382.4" y="783.20" width="35.6" height="0.08" fill="#f3e2f3"/><rect x="382.4" y="613.01" width="35.6" height="5.56" fill="#beb2dc"/><rect x="382.4" y="618.56" width="35.6" height="5.59" fill="#f0d1a3"/><rect x="382.4" y="641.94" width="35.6" height="1.21" fill="#f0d1a3"/><rect x="382.4" y="687.60" width="35.6" height="0.10" fill="#f0d1a3"/><rect x="382.4" y="711.81" width="35.6" height="0.58" fill="#f0d1a3"/><rect x="382.4" y="742.15" width="35.6" height="1.11" fill="#f0d1a3"/><rect x="382.4" y="576.21" width="35.6" height="0.21" fill="#d1d2e4"/><rect x="382.4" y="624.15" width="35.6" height="1.25" fill="#d1d2e4"/><rect x="382.4" y="643.15" width="35.6" height="0.78" fill="#d1d2e4"/><rect x="382.4" y="654.48" width="35.6" height="0.09" fill="#d1d2e4"/><rect x="382.4" y="670.84" width="35.6" height="0.48" fill="#d1d2e4"/><rect x="382.4" y="682.30" width="35.6" height="1.04" fill="#d1d2e4"/><rect x="382.4" y="689.79" width="35.6" height="0.15" fill="#d1d2e4"/><rect x="382.4" y="712.39" width="35.6" height="7.82" fill="#d1d2e4"/><rect x="382.4" y="732.69" width="35.6" height="0.19" fill="#d1d2e4"/><rect x="382.4" y="743.26" width="35.6" height="0.74" fill="#d1d2e4"/><rect x="382.4" y="778.79" width="35.6" height="0.31" fill="#d1d2e4"/><rect x="382.4" y="576.42" width="35.6" height="0.12" fill="#f7e4ab"/><rect x="382.4" y="637.43" width="35.6" height="0.36" fill="#f7e4ab"/><rect x="382.4" y="643.92" width="35.6" height="0.15" fill="#f7e4ab"/><rect x="382.4" y="683.34" width="35.6" height="0.09" fill="#f7e4ab"/><rect x="382.4" y="689.94" width="35.6" height="0.09" fill="#f7e4ab"/><rect x="382.4" y="753.36" width="35.6" height="0.10" fill="#f7e4ab"/><rect x="382.4" y="779.10" width="35.6" height="0.12" fill="#f7e4ab"/><rect x="382.4" y="576.90" width="35.6" height="0.09" fill="#d9abb3"/><rect x="382.4" y="654.57" width="35.6" height="0.17" fill="#d9abb3"/><rect x="382.4" y="656.05" width="35.6" height="0.39" fill="#d9abb3"/><rect x="382.4" y="683.42" width="35.6" height="1.31" fill="#d9abb3"/><rect x="382.4" y="687.71" width="35.6" height="0.12" fill="#d9abb3"/><rect x="382.4" y="735.80" width="35.6" height="0.12" fill="#d9abb3"/><rect x="382.4" y="770.75" width="35.6" height="0.91" fill="#d9abb3"/><rect x="382.4" y="783.50" width="35.6" height="0.13" fill="#d9abb3"/><rect x="382.4" y="783.80" width="35.6" height="0.10" fill="#d9abb3"/><rect x="382.4" y="644.07" width="35.6" height="0.24" fill="#b6dcd9"/><rect x="382.4" y="654.74" width="35.6" height="0.08" fill="#b6dcd9"/><rect x="382.4" y="684.73" width="35.6" height="0.19" fill="#b6dcd9"/><rect x="382.4" y="732.88" width="35.6" height="0.25" fill="#b6dcd9"/><rect x="382.4" y="744.00" width="35.6" height="0.15" fill="#b6dcd9"/><rect x="382.4" y="771.66" width="35.6" height="0.11" fill="#b6dcd9"/><rect x="382.4" y="576.54" width="35.6" height="0.08" fill="#e4e6cd"/><rect x="382.4" y="625.40" width="35.6" height="1.08" fill="#e4e6cd"/><rect x="382.4" y="637.79" width="35.6" height="0.39" fill="#e4e6cd"/><rect x="382.4" y="644.31" width="35.6" height="0.33" fill="#e4e6cd"/><rect x="382.4" y="656.44" width="35.6" height="0.08" fill="#e4e6cd"/><rect x="382.4" y="720.21" width="35.6" height="0.54" fill="#e4e6cd"/><rect x="382.4" y="771.77" width="35.6" height="1.93" fill="#e4e6cd"/><rect x="382.4" y="626.49" width="35.6" height="2.56" fill="#cde4ae"/><rect x="382.4" y="644.64" width="35.6" height="9.23" fill="#cde4ae"/><rect x="382.4" y="684.92" width="35.6" height="0.25" fill="#cde4ae"/><rect x="382.4" y="720.75" width="35.6" height="2.66" fill="#cde4ae"/><rect x="382.4" y="744.15" width="35.6" height="0.94" fill="#cde4ae"/><rect x="382.4" y="638.18" width="35.6" height="0.14" fill="#f3a7ae"/><rect x="382.4" y="671.32" width="35.6" height="0.22" fill="#f3a7ae"/><rect x="382.4" y="733.14" width="35.6" height="0.12" fill="#f3a7ae"/><rect x="382.4" y="753.46" width="35.6" height="2.71" fill="#f3a7ae"/><rect x="382.4" y="629.05" width="35.6" height="0.37" fill="#fbeca7"/><rect x="382.4" y="653.88" width="35.6" height="0.22" fill="#fbeca7"/><rect x="382.4" y="654.82" width="35.6" height="0.11" fill="#fbeca7"/><rect x="382.4" y="671.54" width="35.6" height="0.56" fill="#fbeca7"/><rect x="382.4" y="723.41" width="35.6" height="0.11" fill="#fbeca7"/><rect x="382.4" y="733.26" width="35.6" height="0.36" fill="#fbeca7"/><rect x="382.4" y="745.09" width="35.6" height="3.18" fill="#fbeca7"/><rect x="382.4" y="756.17" width="35.6" height="0.16" fill="#fbeca7"/><rect x="382.4" y="576.62" width="35.6" height="0.14" fill="#ece4d5"/><rect x="382.4" y="629.42" width="35.6" height="1.37" fill="#ece4d5"/><rect x="382.4" y="638.32" width="35.6" height="0.28" fill="#ece4d5"/><rect x="382.4" y="656.52" width="35.6" height="0.10" fill="#ece4d5"/><rect x="382.4" y="690.03" width="35.6" height="0.14" fill="#ece4d5"/><rect x="382.4" y="723.52" width="35.6" height="1.95" fill="#ece4d5"/><rect x="382.4" y="733.62" width="35.6" height="0.43" fill="#ece4d5"/><rect x="382.4" y="748.27" width="35.6" height="0.25" fill="#ece4d5"/><rect x="382.4" y="756.33" width="35.6" height="0.21" fill="#ece4d5"/><rect x="382.4" y="773.70" width="35.6" height="0.36" fill="#ece4d5"/><rect x="382.4" y="779.22" width="35.6" height="0.39" fill="#ece4d5"/><rect x="382.4" y="630.79" width="35.6" height="2.93" fill="#faf3eb"/><rect x="382.4" y="654.94" width="35.6" height="0.16" fill="#faf3eb"/><rect x="382.4" y="656.62" width="35.6" height="0.11" fill="#faf3eb"/><rect x="382.4" y="685.18" width="35.6" height="1.61" fill="#faf3eb"/><rect x="382.4" y="687.83" width="35.6" height="0.11" fill="#faf3eb"/><rect x="382.4" y="690.16" width="35.6" height="0.10" fill="#faf3eb"/><rect x="382.4" y="734.05" width="35.6" height="1.43" fill="#faf3eb"/><rect x="382.4" y="748.52" width="35.6" height="1.08" fill="#faf3eb"/><rect x="382.4" y="756.53" width="35.6" height="2.66" fill="#faf3eb"/><rect x="382.4" y="779.61" width="35.6" height="2.85" fill="#faf3eb"/><rect x="382.4" y="633.72" width="35.6" height="0.81" fill="#f7d5ba"/><rect x="382.4" y="672.10" width="35.6" height="0.14" fill="#f7d5ba"/><rect x="382.4" y="686.79" width="35.6" height="0.20" fill="#f7d5ba"/><rect x="382.4" y="749.60" width="35.6" height="0.25" fill="#f7d5ba"/><rect x="382.4" y="759.20" width="35.6" height="2.20" fill="#f7d5ba"/><rect x="382.4" y="782.46" width="35.6" height="0.29" fill="#f7d5ba"/><rect x="382.4" y="725.47" width="35.6" height="0.10" fill="#abd5b6"/><rect x="382.4" y="735.48" width="35.6" height="0.22" fill="#abd5b6"/></g>
<g><rect x="382.4" y="575.30" width="35.6" height="1.60" fill="none" stroke="#8a7e84" stroke-width="0.45"/><rect x="382.4" y="576.90" width="35.6" height="0.50" fill="none" stroke="#8a7e84" stroke-width="0.45"/><rect x="382.4" y="577.40" width="35.6" height="57.20" fill="none" stroke="#8a7e84" stroke-width="0.45"/><rect x="382.4" y="634.60" width="35.6" height="4.00" fill="none" stroke="#8a7e84" stroke-width="0.45"/><rect x="382.4" y="638.60" width="35.6" height="15.50" fill="none" stroke="#8a7e84" stroke-width="0.45"/><rect x="382.4" y="654.10" width="35.6" height="1.30" fill="none" stroke="#8a7e84" stroke-width="0.45"/><rect x="382.4" y="655.40" width="35.6" height="1.50" fill="none" stroke="#8a7e84" stroke-width="0.45"/><rect x="382.4" y="656.90" width="35.6" height="15.40" fill="none" stroke="#8a7e84" stroke-width="0.45"/><rect x="382.4" y="672.30" width="35.6" height="14.80" fill="none" stroke="#8a7e84" stroke-width="0.45"/><rect x="382.4" y="687.10" width="35.6" height="1.30" fill="none" stroke="#8a7e84" stroke-width="0.45"/><rect x="382.4" y="688.40" width="35.6" height="2.10" fill="none" stroke="#8a7e84" stroke-width="0.45"/><rect x="382.4" y="690.50" width="35.6" height="35.10" fill="none" stroke="#8a7e84" stroke-width="0.45"/><rect x="382.4" y="725.60" width="35.6" height="10.10" fill="none" stroke="#8a7e84" stroke-width="0.45"/><rect x="382.4" y="735.70" width="35.6" height="0.30" fill="none" stroke="#8a7e84" stroke-width="0.45"/><rect x="382.4" y="736.00" width="35.6" height="0.30" fill="none" stroke="#8a7e84" stroke-width="0.45"/><rect x="382.4" y="736.30" width="35.6" height="13.60" fill="none" stroke="#8a7e84" stroke-width="0.45"/><rect x="382.4" y="749.90" width="35.6" height="11.50" fill="none" stroke="#8a7e84" stroke-width="0.45"/><rect x="382.4" y="761.40" width="35.6" height="0.40" fill="none" stroke="#8a7e84" stroke-width="0.45"/><rect x="382.4" y="761.80" width="35.6" height="12.30" fill="none" stroke="#8a7e84" stroke-width="0.45"/><rect x="382.4" y="774.10" width="35.6" height="0.30" fill="none" stroke="#8a7e84" stroke-width="0.45"/><rect x="382.4" y="774.40" width="35.6" height="8.50" fill="none" stroke="#8a7e84" stroke-width="0.45"/><rect x="382.4" y="782.90" width="35.6" height="0.30" fill="none" stroke="#8a7e84" stroke-width="0.45"/><rect x="382.4" y="783.20" width="35.6" height="0.30" fill="none" stroke="#8a7e84" stroke-width="0.45"/><rect x="382.4" y="783.50" width="35.6" height="0.30" fill="none" stroke="#8a7e84" stroke-width="0.45"/><rect x="382.4" y="783.80" width="35.6" height="0.30" fill="none" stroke="#8a7e84" stroke-width="0.45"/></g>
<rect x="265.4" y="575.3" width="35.6" height="208.8" fill="none" stroke="#9a9696" stroke-width="0.6"/>
<rect x="382.4" y="575.3" width="35.6" height="208.8" fill="none" stroke="#9a9696" stroke-width="0.6"/>
<g fill="#3a3a3a"><text x="283.2" y="580.5" text-anchor="middle" font-size="7.48">ACC</text><text x="283.2" y="594.9" text-anchor="middle" font-size="7.48">BLCA</text><text x="283.2" y="613.4" text-anchor="middle" font-size="7.48">BRCA</text><text x="283.2" y="627.0" text-anchor="middle" font-size="7.48">CESC</text><text x="283.2" y="639.7" text-anchor="middle" font-size="6.35">COADREAD</text><text x="283.2" y="653.8" text-anchor="middle" font-size="7.48">HNSC</text><text x="283.2" y="663.2" text-anchor="middle" font-size="7.48">KIDNEY</text><text x="283.2" y="684.9" text-anchor="middle" font-size="7.48">LUNG</text><text x="283.2" y="703.5" text-anchor="middle" font-size="7.48">MESO</text><text x="283.2" y="710.8" text-anchor="middle" font-size="7.48">OV</text><text x="283.2" y="721.7" text-anchor="middle" font-size="7.48">PAAD</text><text x="283.2" y="731.2" text-anchor="middle" font-size="7.48">PRAD</text><text x="283.2" y="736.4" text-anchor="middle" font-size="7.48">SKCM</text><text x="283.2" y="746.6" text-anchor="middle" font-size="7.48">STES</text><text x="283.2" y="756.2" text-anchor="middle" font-size="7.48">TGCT</text><text x="283.2" y="760.5" text-anchor="middle" font-size="7.48">THCA</text><text x="283.2" y="766.0" text-anchor="middle" font-size="7.48">THYM</text><text x="283.2" y="775.5" text-anchor="middle" font-size="7.48">UCEC</text><text x="283.2" y="784.1" text-anchor="middle" font-size="7.48">UCS</text></g>
<g fill="#3a3a3a"><text x="400.2" y="608.6" text-anchor="middle" font-size="7.48">BRCA</text><text x="400.2" y="648.9" text-anchor="middle" font-size="6.35">COADREAD</text><text x="400.2" y="667.2" text-anchor="middle" font-size="7.48">HNSC</text><text x="400.2" y="682.3" text-anchor="middle" font-size="7.48">KIDNEY</text><text x="400.2" y="710.6" text-anchor="middle" font-size="7.48">LUNG</text><text x="400.2" y="733.2" text-anchor="middle" font-size="7.48">OV</text><text x="400.2" y="745.7" text-anchor="middle" font-size="7.48">PRAD</text><text x="400.2" y="758.2" text-anchor="middle" font-size="7.48">SARC</text><text x="400.2" y="770.5" text-anchor="middle" font-size="7.48">STES</text><text x="400.2" y="781.2" text-anchor="middle" font-size="7.48">THCA</text></g>
<path d="M265.4,632.0L254.2,632.0M265.4,643.0L254.2,641.5M265.4,644.3L254.2,651.0M265.4,664.0L254.2,660.0M265.4,665.5L254.2,669.4M265.4,726.2L254.2,726.3M265.4,730.9L254.2,743.0M265.4,783.8L254.2,783.8" stroke="#333" stroke-width="0.8" fill="none"/>
<g font-size="7.89" fill="#262626"><text x="253.0" y="634.6" text-anchor="end">CHOL</text><text x="253.0" y="644.1" text-anchor="end">DLBC</text><text x="253.0" y="653.6" text-anchor="end">GBMLGG</text><text x="253.0" y="662.6" text-anchor="end">LAML</text><text x="253.0" y="672.0" text-anchor="end">LIHC</text><text x="253.0" y="728.9" text-anchor="end">PCPG</text><text x="253.0" y="745.6" text-anchor="end">SARC</text><text x="253.0" y="786.4" text-anchor="end">UVM</text></g>
<path d="M418.0,576.1L429.8,574.6M418.0,577.1L429.8,588.6M418.0,636.6L429.8,636.0M418.0,654.8L429.8,648.0M418.0,656.1L429.8,659.4M418.0,687.7L429.8,672.0M418.0,689.4L429.8,683.4M418.0,735.8L429.8,701.8M418.0,736.1L429.8,715.0M418.0,761.6L429.8,728.0M418.0,774.2L429.8,740.8M418.0,783.0L429.8,754.0M418.0,783.3L429.8,767.0M418.0,783.6L429.8,780.0M418.0,783.9L429.8,792.0" stroke="#333" stroke-width="0.8" fill="none"/>
<g font-size="7.89" fill="#262626"><text x="431.0" y="577.2">ACC</text><text x="431.0" y="591.2">BLCA</text><text x="431.0" y="638.6">CESC</text><text x="431.0" y="650.6">DLBC</text><text x="431.0" y="662.0">GBMLGG</text><text x="431.0" y="674.6">LAML</text><text x="431.0" y="686.0">LIHC</text><text x="431.0" y="704.4">PAAD</text><text x="431.0" y="717.6">PCPG</text><text x="431.0" y="730.6">SKCM</text><text x="431.0" y="743.4">TGCT</text><text x="431.0" y="756.6">THYM</text><text x="431.0" y="769.6">UCEC</text><text x="431.0" y="782.6">UCS</text><text x="431.0" y="794.6">UVM</text></g>
<g font-size="7.69" fill="#2e2e2e"><rect x="469.8" y="561.6" width="4.2" height="7.6" fill="#a89f78"/><text x="475.8" y="568.1">ACC</text><rect x="469.8" y="570.0" width="4.2" height="7.6" fill="#f2e4e6"/><text x="475.8" y="576.5">BLCA</text><rect x="469.8" y="578.4" width="4.2" height="7.6" fill="#e07ab2"/><text x="475.8" y="584.9">BRCA</text><rect x="469.8" y="586.8" width="4.2" height="7.6" fill="#f6b84c"/><text x="475.8" y="593.3">CESC</text><rect x="469.8" y="595.2" width="4.2" height="7.6" fill="#5048a8"/><text x="475.8" y="601.7">CHOL</text><rect x="469.8" y="603.6" width="4.2" height="7.6" fill="#68c6d2"/><text x="475.8" y="610.1">COADREAD</text><rect x="469.8" y="611.9" width="4.2" height="7.6" fill="#e8867c"/><text x="475.8" y="618.4">DLBC</text><rect x="469.8" y="620.3" width="4.2" height="7.6" fill="#68aae0"/><text x="475.8" y="626.8">GBMLGG</text><rect x="469.8" y="628.7" width="4.2" height="7.6" fill="#a8d8b0"/><text x="475.8" y="635.2">HNSC</text><rect x="469.8" y="637.1" width="4.2" height="7.6" fill="#c8607a"/><text x="475.8" y="643.6">KIDNEY</text><rect x="469.8" y="645.5" width="4.2" height="7.6" fill="#b08a76"/><text x="475.8" y="652.0">LAML</text><rect x="469.8" y="653.9" width="4.2" height="7.6" fill="#c8d8f0"/><text x="475.8" y="660.4">LIHC</text><rect x="469.8" y="662.3" width="4.2" height="7.6" fill="#e6c4e6"/><text x="475.8" y="668.8">LUNG</text><rect x="469.8" y="670.7" width="4.2" height="7.6" fill="#7860b8"/><text x="475.8" y="677.2">MESO</text><rect x="469.8" y="679.1" width="4.2" height="7.6" fill="#e0a040"/><text x="475.8" y="685.6">OV</text><rect x="469.8" y="687.5" width="4.2" height="7.6" fill="#a0a2c8"/><text x="475.8" y="694.0">PAAD</text><rect x="469.8" y="695.8" width="4.2" height="7.6" fill="#f0c850"/><text x="475.8" y="702.3">PCPG</text><rect x="469.8" y="704.2" width="4.2" height="7.6" fill="#b05262"/><text x="475.8" y="710.7">PRAD</text><rect x="469.8" y="712.6" width="4.2" height="7.6" fill="#68b8b0"/><text x="475.8" y="719.1">SARC</text><rect x="469.8" y="721.0" width="4.2" height="7.6" fill="#c8cc98"/><text x="475.8" y="727.5">SKCM</text><rect x="469.8" y="729.4" width="4.2" height="7.6" fill="#98c858"/><text x="475.8" y="735.9">STES</text><rect x="469.8" y="737.8" width="4.2" height="7.6" fill="#e84858"/><text x="475.8" y="744.3">TGCT</text><rect x="469.8" y="746.2" width="4.2" height="7.6" fill="#f8d848"/><text x="475.8" y="752.7">THCA</text><rect x="469.8" y="754.6" width="4.2" height="7.6" fill="#d8c8a8"/><text x="475.8" y="761.1">THYM</text><rect x="469.8" y="763.0" width="4.2" height="7.6" fill="#f6e6d6"/><text x="475.8" y="769.5">UCEC</text><rect x="469.8" y="771.4" width="4.2" height="7.6" fill="#f0a870"/><text x="475.8" y="777.9">UCS</text><rect x="469.8" y="779.7" width="4.2" height="7.6" fill="#50a868"/><text x="475.8" y="786.2">UVM</text></g>
<text x="8.1" y="549.1" font-size="10.45" font-weight="bold" fill="#111">F</text>
<text x="112.5" y="556.2" font-size="7.69" text-anchor="middle" fill="#262626">All predictions</text>
<text x="112.5" y="565.2" font-size="7.69" text-anchor="middle" fill="#262626"><tspan font-style="italic">n</tspan> = 3,535</text>
<text x="54.6" y="572.2" font-size="7.69" text-anchor="middle" fill="#262626">Labels</text>
<text x="171.0" y="573.2" font-size="7.69" text-anchor="middle" fill="#262626">Predictions</text>
<g fill-opacity="0.8"><path d="M72.4,575.70C113.0,575.70 113.0,575.70 153.5,575.70L153.5,576.14C113.0,576.14 113.0,576.14 72.4,576.14Z" fill="#a89f78"/><path d="M72.4,577.05C113.0,577.05 113.0,578.33 153.5,578.33L153.5,579.14C113.0,579.14 113.0,577.86 72.4,577.86Z" fill="#f2e4e6"/><path d="M72.4,584.82C113.0,584.82 113.0,581.92 153.5,581.92L153.5,599.99C113.0,599.99 113.0,602.89 72.4,602.89Z" fill="#e07ab2"/><path d="M72.4,607.84C113.0,607.84 113.0,612.60 153.5,612.60L153.5,613.75C113.0,613.75 113.0,608.99 72.4,608.99Z" fill="#f6b84c"/><path d="M72.4,612.75C113.0,612.75 113.0,615.06 153.5,615.06L153.5,615.11C113.0,615.11 113.0,612.80 72.4,612.80Z" fill="#5048a8"/><path d="M72.4,613.48C113.0,613.48 113.0,615.45 153.5,615.45L153.5,620.97C113.0,620.97 113.0,619.00 72.4,619.00Z" fill="#68c6d2"/><path d="M72.4,621.47C113.0,621.47 113.0,623.71 153.5,623.71L153.5,634.44C113.0,634.44 113.0,632.20 72.4,632.20Z" fill="#e8867c"/><path d="M72.4,632.20C113.0,632.20 113.0,634.44 153.5,634.44L153.5,648.50C113.0,648.50 113.0,646.26 72.4,646.26Z" fill="#68aae0"/><path d="M72.4,648.03C113.0,648.03 113.0,653.70 153.5,653.70L153.5,659.44C113.0,659.44 113.0,653.77 72.4,653.77Z" fill="#a8d8b0"/><path d="M72.4,656.48C113.0,656.48 113.0,661.40 153.5,661.40L153.5,680.54C113.0,680.54 113.0,675.62 72.4,675.62Z" fill="#c8607a"/><path d="M72.4,677.70C113.0,677.70 113.0,684.32 153.5,684.32L153.5,696.57C113.0,696.57 113.0,689.94 72.4,689.94Z" fill="#b08a76"/><path d="M72.4,689.94C113.0,689.94 113.0,696.57 153.5,696.57L153.5,703.78C113.0,703.78 113.0,697.15 72.4,697.15Z" fill="#c8d8f0"/><path d="M72.4,706.51C113.0,706.51 113.0,710.04 153.5,710.04L153.5,721.70C113.0,721.70 113.0,718.17 72.4,718.17Z" fill="#e6c4e6"/><path d="M72.4,719.41C113.0,719.41 113.0,725.40 153.5,725.40L153.5,725.45C113.0,725.45 113.0,719.46 72.4,719.46Z" fill="#7860b8"/><path d="M72.4,721.28C113.0,721.28 113.0,727.88 153.5,727.88L153.5,733.11C113.0,733.11 113.0,726.51 72.4,726.51Z" fill="#e0a040"/><path d="M72.4,730.85C113.0,730.85 113.0,734.26 153.5,734.26L153.5,735.07C113.0,735.07 113.0,731.66 72.4,731.66Z" fill="#a0a2c8"/><path d="M72.4,732.02C113.0,732.02 113.0,735.07 153.5,735.07L153.5,735.88C113.0,735.88 113.0,732.83 72.4,732.83Z" fill="#f0c850"/><path d="M72.4,733.84C113.0,733.84 113.0,738.17 153.5,738.17L153.5,748.73C113.0,748.73 113.0,744.40 72.4,744.40Z" fill="#b05262"/><path d="M72.4,744.74C113.0,744.74 113.0,752.19 153.5,752.19L153.5,760.02C113.0,760.02 113.0,752.58 72.4,752.58Z" fill="#68b8b0"/><path d="M72.4,752.60C113.0,752.60 113.0,761.37 153.5,761.37L153.5,761.58C113.0,761.58 113.0,752.80 72.4,752.80Z" fill="#c8cc98"/><path d="M72.4,756.78C113.0,756.78 113.0,764.39 153.5,764.39L153.5,772.30C113.0,772.30 113.0,764.69 72.4,764.69Z" fill="#98c858"/><path d="M72.4,764.87C113.0,764.87 113.0,772.30 153.5,772.30L153.5,773.62C113.0,773.62 113.0,766.19 72.4,766.19Z" fill="#e84858"/><path d="M72.4,768.74C113.0,768.74 113.0,774.19 153.5,774.19L153.5,781.61C113.0,781.61 113.0,776.16 72.4,776.16Z" fill="#f8d848"/><path d="M72.4,776.25C113.0,776.25 113.0,782.32 153.5,782.32L153.5,782.93C113.0,782.93 113.0,776.86 72.4,776.86Z" fill="#d8c8a8"/><path d="M72.4,782.93C113.0,782.93 113.0,782.93 153.5,782.93L153.5,783.94C113.0,783.94 113.0,783.94 72.4,783.94Z" fill="#f6e6d6"/><path d="M72.4,783.94C113.0,783.94 113.0,783.94 153.5,783.94L153.5,784.44C113.0,784.44 113.0,784.44 72.4,784.44Z" fill="#f0a870"/><path d="M72.4,784.44C113.0,784.44 113.0,784.44 153.5,784.44L153.5,784.95C113.0,784.95 113.0,784.95 72.4,784.95Z" fill="#50a868"/></g>
<g fill-opacity="0.5"><path d="M72.4,576.14C113.0,576.14 113.0,579.14 153.5,579.14L153.5,579.42C113.0,579.42 113.0,576.41 72.4,576.41Z" fill="#a89f78"/><path d="M72.4,576.41C113.0,576.41 113.0,612.53 153.5,612.53L153.5,612.55C113.0,612.55 113.0,576.44 72.4,576.44Z" fill="#a89f78"/><path d="M72.4,576.44C113.0,576.44 113.0,659.84 153.5,659.84L153.5,660.02C113.0,660.02 113.0,576.62 72.4,576.62Z" fill="#a89f78"/><path d="M72.4,576.62C113.0,576.62 113.0,704.46 153.5,704.46L153.5,704.88C113.0,704.88 113.0,577.05 72.4,577.05Z" fill="#a89f78"/><path d="M72.4,577.86C113.0,577.86 113.0,579.42 153.5,579.42L153.5,581.92C113.0,581.92 113.0,580.35 72.4,580.35Z" fill="#f2e4e6"/><path d="M72.4,580.35C113.0,580.35 113.0,649.72 153.5,649.72L153.5,651.62C113.0,651.62 113.0,582.25 72.4,582.25Z" fill="#f2e4e6"/><path d="M72.4,582.25C113.0,582.25 113.0,660.02 153.5,660.02L153.5,661.07C113.0,661.07 113.0,583.31 72.4,583.31Z" fill="#f2e4e6"/><path d="M72.4,583.31C113.0,583.31 113.0,684.32 153.5,684.32L153.5,684.32C113.0,684.32 113.0,583.31 72.4,583.31Z" fill="#f2e4e6"/><path d="M72.4,583.31C113.0,583.31 113.0,704.88 153.5,704.88L153.5,705.85C113.0,705.85 113.0,584.28 72.4,584.28Z" fill="#f2e4e6"/><path d="M72.4,584.28C113.0,584.28 113.0,761.58 153.5,761.58L153.5,762.05C113.0,762.05 113.0,584.75 72.4,584.75Z" fill="#f2e4e6"/><path d="M72.4,584.75C113.0,584.75 113.0,773.62 153.5,773.62L153.5,773.69C113.0,773.69 113.0,584.82 72.4,584.82Z" fill="#f2e4e6"/><path d="M72.4,602.89C113.0,602.89 113.0,612.55 153.5,612.55L153.5,612.60C113.0,612.60 113.0,602.94 72.4,602.94Z" fill="#e07ab2"/><path d="M72.4,602.94C113.0,602.94 113.0,615.11 153.5,615.11L153.5,615.19C113.0,615.19 113.0,603.02 72.4,603.02Z" fill="#e07ab2"/><path d="M72.4,603.02C113.0,603.02 113.0,651.62 153.5,651.62L153.5,651.92C113.0,651.92 113.0,603.31 72.4,603.31Z" fill="#e07ab2"/><path d="M72.4,603.31C113.0,603.31 113.0,661.07 153.5,661.07L153.5,661.16C113.0,661.16 113.0,603.40 72.4,603.40Z" fill="#e07ab2"/><path d="M72.4,603.40C113.0,603.40 113.0,705.85 153.5,705.85L153.5,707.37C113.0,707.37 113.0,604.91 72.4,604.91Z" fill="#e07ab2"/><path d="M72.4,604.91C113.0,604.91 113.0,725.45 153.5,725.45L153.5,725.59C113.0,725.59 113.0,605.05 72.4,605.05Z" fill="#e07ab2"/><path d="M72.4,605.05C113.0,605.05 113.0,735.88 153.5,735.88L153.5,736.92C113.0,736.92 113.0,606.09 72.4,606.09Z" fill="#e07ab2"/><path d="M72.4,606.09C113.0,606.09 113.0,762.05 153.5,762.05L153.5,762.16C113.0,762.16 113.0,606.21 72.4,606.21Z" fill="#e07ab2"/><path d="M72.4,606.21C113.0,606.21 113.0,773.69 153.5,773.69L153.5,773.75C113.0,773.75 113.0,606.27 72.4,606.27Z" fill="#e07ab2"/><path d="M72.4,606.27C113.0,606.27 113.0,599.99 153.5,599.99L153.5,601.56C113.0,601.56 113.0,607.84 72.4,607.84Z" fill="#f6b84c"/><path d="M72.4,608.99C113.0,608.99 113.0,615.19 153.5,615.19L153.5,615.45C113.0,615.45 113.0,609.26 72.4,609.26Z" fill="#f6b84c"/><path d="M72.4,609.26C113.0,609.26 113.0,651.92 153.5,651.92L153.5,653.51C113.0,653.51 113.0,610.85 72.4,610.85Z" fill="#f6b84c"/><path d="M72.4,610.85C113.0,610.85 113.0,661.16 153.5,661.16L153.5,661.40C113.0,661.40 113.0,611.09 72.4,611.09Z" fill="#f6b84c"/><path d="M72.4,611.09C113.0,611.09 113.0,725.59 153.5,725.59L153.5,726.89C113.0,726.89 113.0,612.40 72.4,612.40Z" fill="#f6b84c"/><path d="M72.4,612.40C113.0,612.40 113.0,762.16 153.5,762.16L153.5,762.45C113.0,762.45 113.0,612.68 72.4,612.68Z" fill="#f6b84c"/><path d="M72.4,612.68C113.0,612.68 113.0,773.75 153.5,773.75L153.5,773.81C113.0,773.81 113.0,612.75 72.4,612.75Z" fill="#f6b84c"/><path d="M72.4,612.80C113.0,612.80 113.0,707.37 153.5,707.37L153.5,707.47C113.0,707.47 113.0,612.90 72.4,612.90Z" fill="#5048a8"/><path d="M72.4,612.90C113.0,612.90 113.0,762.45 153.5,762.45L153.5,762.55C113.0,762.55 113.0,613.00 72.4,613.00Z" fill="#5048a8"/><path d="M72.4,613.00C113.0,613.00 113.0,601.56 153.5,601.56L153.5,602.04C113.0,602.04 113.0,613.48 72.4,613.48Z" fill="#68c6d2"/><path d="M72.4,619.00C113.0,619.00 113.0,653.51 153.5,653.51L153.5,653.70C113.0,653.70 113.0,619.19 72.4,619.19Z" fill="#68c6d2"/><path d="M72.4,619.19C113.0,619.19 113.0,707.47 153.5,707.47L153.5,708.09C113.0,708.09 113.0,619.81 72.4,619.81Z" fill="#68c6d2"/><path d="M72.4,619.81C113.0,619.81 113.0,726.89 153.5,726.89L153.5,726.99C113.0,726.99 113.0,619.91 72.4,619.91Z" fill="#68c6d2"/><path d="M72.4,619.91C113.0,619.91 113.0,762.55 153.5,762.55L153.5,764.11C113.0,764.11 113.0,621.47 72.4,621.47Z" fill="#68c6d2"/><path d="M72.4,621.47C113.0,621.47 113.0,602.04 153.5,602.04L153.5,602.04C113.0,602.04 113.0,621.47 72.4,621.47Z" fill="#e8867c"/><path d="M72.4,621.47C113.0,621.47 113.0,620.97 153.5,620.97L153.5,620.97C113.0,620.97 113.0,621.47 72.4,621.47Z" fill="#e8867c"/><path d="M72.4,632.20C113.0,632.20 113.0,708.09 153.5,708.09L153.5,708.09C113.0,708.09 113.0,632.20 72.4,632.20Z" fill="#e8867c"/><path d="M72.4,632.20C113.0,632.20 113.0,764.11 153.5,764.11L153.5,764.11C113.0,764.11 113.0,632.20 72.4,632.20Z" fill="#e8867c"/><path d="M72.4,632.20C113.0,632.20 113.0,773.81 153.5,773.81L153.5,773.81C113.0,773.81 113.0,632.20 72.4,632.20Z" fill="#e8867c"/><path d="M72.4,646.26C113.0,646.26 113.0,602.04 153.5,602.04L153.5,603.22C113.0,603.22 113.0,647.44 72.4,647.44Z" fill="#a8d8b0"/><path d="M72.4,647.44C113.0,647.44 113.0,648.50 153.5,648.50L153.5,649.08C113.0,649.08 113.0,648.03 72.4,648.03Z" fill="#a8d8b0"/><path d="M72.4,653.77C113.0,653.77 113.0,708.09 153.5,708.09L153.5,709.63C113.0,709.63 113.0,655.30 72.4,655.30Z" fill="#a8d8b0"/><path d="M72.4,655.30C113.0,655.30 113.0,726.99 153.5,726.99L153.5,727.59C113.0,727.59 113.0,655.91 72.4,655.91Z" fill="#a8d8b0"/><path d="M72.4,655.91C113.0,655.91 113.0,736.92 153.5,736.92L153.5,737.27C113.0,737.27 113.0,656.26 72.4,656.26Z" fill="#a8d8b0"/><path d="M72.4,656.26C113.0,656.26 113.0,773.81 153.5,773.81L153.5,773.88C113.0,773.88 113.0,656.33 72.4,656.33Z" fill="#a8d8b0"/><path d="M72.4,656.33C113.0,656.33 113.0,613.75 153.5,613.75L153.5,613.84C113.0,613.84 113.0,656.41 72.4,656.41Z" fill="#c8607a"/><path d="M72.4,656.41C113.0,656.41 113.0,620.97 153.5,620.97L153.5,621.03C113.0,621.03 113.0,656.48 72.4,656.48Z" fill="#c8607a"/><path d="M72.4,675.62C113.0,675.62 113.0,709.63 153.5,709.63L153.5,710.04C113.0,710.04 113.0,676.04 72.4,676.04Z" fill="#c8607a"/><path d="M72.4,676.04C113.0,676.04 113.0,727.59 153.5,727.59L153.5,727.76C113.0,727.76 113.0,676.21 72.4,676.21Z" fill="#c8607a"/><path d="M72.4,676.21C113.0,676.21 113.0,737.27 153.5,737.27L153.5,737.54C113.0,737.54 113.0,676.48 72.4,676.48Z" fill="#c8607a"/><path d="M72.4,676.48C113.0,676.48 113.0,613.84 153.5,613.84L153.5,615.06C113.0,615.06 113.0,677.70 72.4,677.70Z" fill="#b08a76"/><path d="M72.4,697.15C113.0,697.15 113.0,727.76 153.5,727.76L153.5,727.88C113.0,727.88 113.0,697.26 72.4,697.26Z" fill="#c8d8f0"/><path d="M72.4,697.26C113.0,697.26 113.0,764.11 153.5,764.11L153.5,764.17C113.0,764.17 113.0,697.32 72.4,697.32Z" fill="#c8d8f0"/><path d="M72.4,697.32C113.0,697.32 113.0,576.14 153.5,576.14L153.5,578.33C113.0,578.33 113.0,699.51 72.4,699.51Z" fill="#e6c4e6"/><path d="M72.4,699.51C113.0,699.51 113.0,603.22 153.5,603.22L153.5,607.61C113.0,607.61 113.0,703.90 72.4,703.90Z" fill="#e6c4e6"/><path d="M72.4,703.90C113.0,703.90 113.0,621.03 153.5,621.03L153.5,621.21C113.0,621.21 113.0,704.07 72.4,704.07Z" fill="#e6c4e6"/><path d="M72.4,704.07C113.0,704.07 113.0,680.54 153.5,680.54L153.5,682.31C113.0,682.31 113.0,705.83 72.4,705.83Z" fill="#e6c4e6"/><path d="M72.4,705.83C113.0,705.83 113.0,703.78 153.5,703.78L153.5,704.46C113.0,704.46 113.0,706.51 72.4,706.51Z" fill="#e6c4e6"/><path d="M72.4,718.17C113.0,718.17 113.0,751.56 153.5,751.56L153.5,752.19C113.0,752.19 113.0,718.80 72.4,718.80Z" fill="#e6c4e6"/><path d="M72.4,718.80C113.0,718.80 113.0,773.88 153.5,773.88L153.5,774.14C113.0,774.14 113.0,719.06 72.4,719.06Z" fill="#e6c4e6"/><path d="M72.4,719.06C113.0,719.06 113.0,607.61 153.5,607.61L153.5,607.96C113.0,607.96 113.0,719.41 72.4,719.41Z" fill="#7860b8"/><path d="M72.4,719.46C113.0,719.46 113.0,607.96 153.5,607.96L153.5,609.42C113.0,609.42 113.0,720.92 72.4,720.92Z" fill="#e0a040"/><path d="M72.4,720.92C113.0,720.92 113.0,621.21 153.5,621.21L153.5,621.42C113.0,621.42 113.0,721.14 72.4,721.14Z" fill="#e0a040"/><path d="M72.4,721.14C113.0,721.14 113.0,721.70 153.5,721.70L153.5,721.84C113.0,721.84 113.0,721.28 72.4,721.28Z" fill="#e0a040"/><path d="M72.4,726.51C113.0,726.51 113.0,737.54 153.5,737.54L153.5,737.86C113.0,737.86 113.0,726.84 72.4,726.84Z" fill="#e0a040"/><path d="M72.4,726.84C113.0,726.84 113.0,609.42 153.5,609.42L153.5,609.89C113.0,609.89 113.0,727.30 72.4,727.30Z" fill="#a0a2c8"/><path d="M72.4,727.30C113.0,727.30 113.0,621.42 153.5,621.42L153.5,621.62C113.0,621.62 113.0,727.50 72.4,727.50Z" fill="#a0a2c8"/><path d="M72.4,727.50C113.0,727.50 113.0,659.44 153.5,659.44L153.5,659.58C113.0,659.58 113.0,727.64 72.4,727.64Z" fill="#a0a2c8"/><path d="M72.4,727.64C113.0,727.64 113.0,682.31 153.5,682.31L153.5,682.78C113.0,682.78 113.0,728.12 72.4,728.12Z" fill="#a0a2c8"/><path d="M72.4,728.12C113.0,728.12 113.0,721.84 153.5,721.84L153.5,724.58C113.0,724.58 113.0,730.85 72.4,730.85Z" fill="#a0a2c8"/><path d="M72.4,731.66C113.0,731.66 113.0,737.86 153.5,737.86L153.5,738.17C113.0,738.17 113.0,731.97 72.4,731.97Z" fill="#a0a2c8"/><path d="M72.4,731.97C113.0,731.97 113.0,774.14 153.5,774.14L153.5,774.19C113.0,774.19 113.0,732.02 72.4,732.02Z" fill="#a0a2c8"/><path d="M72.4,732.02C113.0,732.02 113.0,615.06 153.5,615.06L153.5,615.06C113.0,615.06 113.0,732.02 72.4,732.02Z" fill="#f0c850"/><path d="M72.4,732.83C113.0,732.83 113.0,649.08 153.5,649.08L153.5,649.72C113.0,649.72 113.0,733.46 72.4,733.46Z" fill="#b05262"/><path d="M72.4,733.46C113.0,733.46 113.0,682.78 153.5,682.78L153.5,683.15C113.0,683.15 113.0,733.84 72.4,733.84Z" fill="#b05262"/><path d="M72.4,744.40C113.0,744.40 113.0,764.17 153.5,764.17L153.5,764.36C113.0,764.36 113.0,744.60 72.4,744.60Z" fill="#b05262"/><path d="M72.4,744.60C113.0,744.60 113.0,621.62 153.5,621.62L153.5,621.67C113.0,621.67 113.0,744.65 72.4,744.65Z" fill="#68b8b0"/><path d="M72.4,744.65C113.0,744.65 113.0,733.11 153.5,733.11L153.5,733.20C113.0,733.20 113.0,744.74 72.4,744.74Z" fill="#68b8b0"/><path d="M72.4,752.58C113.0,752.58 113.0,609.89 153.5,609.89L153.5,609.91C113.0,609.91 113.0,752.59 72.4,752.59Z" fill="#c8cc98"/><path d="M72.4,752.59C113.0,752.59 113.0,615.06 153.5,615.06L153.5,615.06C113.0,615.06 113.0,752.59 72.4,752.59Z" fill="#c8cc98"/><path d="M72.4,752.59C113.0,752.59 113.0,621.67 153.5,621.67L153.5,621.68C113.0,621.68 113.0,752.59 72.4,752.59Z" fill="#c8cc98"/><path d="M72.4,752.59C113.0,752.59 113.0,724.58 153.5,724.58L153.5,724.59C113.0,724.59 113.0,752.60 72.4,752.60Z" fill="#c8cc98"/><path d="M72.4,752.80C113.0,752.80 113.0,764.36 153.5,764.36L153.5,764.39C113.0,764.39 113.0,752.82 72.4,752.82Z" fill="#c8cc98"/><path d="M72.4,752.82C113.0,752.82 113.0,609.91 153.5,609.91L153.5,610.71C113.0,610.71 113.0,753.63 72.4,753.63Z" fill="#98c858"/><path d="M72.4,753.63C113.0,753.63 113.0,621.68 153.5,621.68L153.5,623.63C113.0,623.63 113.0,755.58 72.4,755.58Z" fill="#98c858"/><path d="M72.4,755.58C113.0,755.58 113.0,683.15 153.5,683.15L153.5,683.25C113.0,683.25 113.0,755.68 72.4,755.68Z" fill="#98c858"/><path d="M72.4,755.68C113.0,755.68 113.0,724.59 153.5,724.59L153.5,725.37C113.0,725.37 113.0,756.46 72.4,756.46Z" fill="#98c858"/><path d="M72.4,756.46C113.0,756.46 113.0,748.73 153.5,748.73L153.5,749.06C113.0,749.06 113.0,756.78 72.4,756.78Z" fill="#98c858"/><path d="M72.4,764.69C113.0,764.69 113.0,659.58 153.5,659.58L153.5,659.60C113.0,659.60 113.0,764.70 72.4,764.70Z" fill="#e84858"/><path d="M72.4,764.70C113.0,764.70 113.0,760.02 153.5,760.02L153.5,760.18C113.0,760.18 113.0,764.87 72.4,764.87Z" fill="#e84858"/><path d="M72.4,766.19C113.0,766.19 113.0,610.71 153.5,610.71L153.5,610.90C113.0,610.90 113.0,766.38 72.4,766.38Z" fill="#f8d848"/><path d="M72.4,766.38C113.0,766.38 113.0,623.63 153.5,623.63L153.5,623.71C113.0,623.71 113.0,766.46 72.4,766.46Z" fill="#f8d848"/><path d="M72.4,766.46C113.0,766.46 113.0,659.60 153.5,659.60L153.5,659.84C113.0,659.84 113.0,766.70 72.4,766.70Z" fill="#f8d848"/><path d="M72.4,766.70C113.0,766.70 113.0,733.20 153.5,733.20L153.5,733.40C113.0,733.40 113.0,766.90 72.4,766.90Z" fill="#f8d848"/><path d="M72.4,766.90C113.0,766.90 113.0,749.06 153.5,749.06L153.5,750.90C113.0,750.90 113.0,768.74 72.4,768.74Z" fill="#f8d848"/><path d="M72.4,776.16C113.0,776.16 113.0,610.90 153.5,610.90L153.5,610.93C113.0,610.93 113.0,776.19 72.4,776.19Z" fill="#d8c8a8"/><path d="M72.4,776.19C113.0,776.19 113.0,615.06 153.5,615.06L153.5,615.06C113.0,615.06 113.0,776.19 72.4,776.19Z" fill="#d8c8a8"/><path d="M72.4,776.19C113.0,776.19 113.0,725.37 153.5,725.37L153.5,725.40C113.0,725.40 113.0,776.23 72.4,776.23Z" fill="#d8c8a8"/><path d="M72.4,776.23C113.0,776.23 113.0,733.40 153.5,733.40L153.5,733.41C113.0,733.41 113.0,776.23 72.4,776.23Z" fill="#d8c8a8"/><path d="M72.4,776.23C113.0,776.23 113.0,750.90 153.5,750.90L153.5,750.90C113.0,750.90 113.0,776.24 72.4,776.24Z" fill="#d8c8a8"/><path d="M72.4,776.24C113.0,776.24 113.0,772.30 153.5,772.30L153.5,772.30C113.0,772.30 113.0,776.25 72.4,776.25Z" fill="#d8c8a8"/><path d="M72.4,776.25C113.0,776.25 113.0,781.61 153.5,781.61L153.5,781.62C113.0,781.62 113.0,776.25 72.4,776.25Z" fill="#d8c8a8"/><path d="M72.4,776.86C113.0,776.86 113.0,610.93 153.5,610.93L153.5,612.53C113.0,612.53 113.0,778.46 72.4,778.46Z" fill="#f6e6d6"/><path d="M72.4,778.46C113.0,778.46 113.0,683.25 153.5,683.25L153.5,684.32C113.0,684.32 113.0,779.54 72.4,779.54Z" fill="#f6e6d6"/><path d="M72.4,779.54C113.0,779.54 113.0,733.41 153.5,733.41L153.5,734.26C113.0,734.26 113.0,780.38 72.4,780.38Z" fill="#f6e6d6"/><path d="M72.4,780.38C113.0,780.38 113.0,750.90 153.5,750.90L153.5,751.56C113.0,751.56 113.0,781.04 72.4,781.04Z" fill="#f6e6d6"/><path d="M72.4,781.04C113.0,781.04 113.0,760.18 153.5,760.18L153.5,761.37C113.0,761.37 113.0,782.23 72.4,782.23Z" fill="#f6e6d6"/><path d="M72.4,782.23C113.0,782.23 113.0,781.62 153.5,781.62L153.5,782.32C113.0,782.32 113.0,782.93 72.4,782.93Z" fill="#f6e6d6"/><path d="M72.4,783.94C113.0,783.94 113.0,612.53 153.5,612.53L153.5,612.53C113.0,612.53 113.0,783.94 72.4,783.94Z" fill="#f0a870"/><path d="M72.4,783.94C113.0,783.94 113.0,751.56 153.5,751.56L153.5,751.56C113.0,751.56 113.0,783.94 72.4,783.94Z" fill="#f0a870"/><path d="M72.4,783.94C113.0,783.94 113.0,761.37 153.5,761.37L153.5,761.37C113.0,761.37 113.0,783.94 72.4,783.94Z" fill="#f0a870"/><path d="M72.4,783.94C113.0,783.94 113.0,782.32 153.5,782.32L153.5,782.32C113.0,782.32 113.0,783.94 72.4,783.94Z" fill="#f0a870"/></g>
<g><rect x="36.8" y="575.70" width="35.6" height="1.35" fill="#d7d3c2" stroke="#8a7e84" stroke-width="0.45"/><rect x="36.8" y="577.05" width="35.6" height="7.78" fill="#f9f2f3" stroke="#8a7e84" stroke-width="0.45"/><rect x="36.8" y="584.82" width="35.6" height="21.44" fill="#f1c3dc" stroke="#8a7e84" stroke-width="0.45"/><rect x="36.8" y="606.27" width="35.6" height="6.48" fill="#fadfae" stroke="#8a7e84" stroke-width="0.45"/><rect x="36.8" y="612.75" width="35.6" height="0.25" fill="#b0acd7" stroke="#8a7e84" stroke-width="0.45"/><rect x="36.8" y="613.00" width="35.6" height="8.48" fill="#bbe5ea" stroke="#8a7e84" stroke-width="0.45"/><rect x="36.8" y="621.47" width="35.6" height="10.73" fill="#f4c8c4" stroke="#8a7e84" stroke-width="0.45"/><rect x="36.8" y="632.20" width="35.6" height="14.06" fill="#bbd8f1" stroke="#8a7e84" stroke-width="0.45"/><rect x="36.8" y="646.26" width="35.6" height="10.07" fill="#d7eddb" stroke="#8a7e84" stroke-width="0.45"/><rect x="36.8" y="656.33" width="35.6" height="20.14" fill="#e6b7c3" stroke="#8a7e84" stroke-width="0.45"/><rect x="36.8" y="676.48" width="35.6" height="13.46" fill="#dbcac1" stroke="#8a7e84" stroke-width="0.45"/><rect x="36.8" y="689.94" width="35.6" height="7.38" fill="#e6edf8" stroke="#8a7e84" stroke-width="0.45"/><rect x="36.8" y="697.32" width="35.6" height="21.74" fill="#f3e4f3" stroke="#8a7e84" stroke-width="0.45"/><rect x="36.8" y="719.06" width="35.6" height="0.40" fill="#c2b7df" stroke="#8a7e84" stroke-width="0.45"/><rect x="36.8" y="719.46" width="35.6" height="7.38" fill="#f1d4a9" stroke="#8a7e84" stroke-width="0.45"/><rect x="36.8" y="726.84" width="35.6" height="5.19" fill="#d4d5e6" stroke="#8a7e84" stroke-width="0.45"/><rect x="36.8" y="732.02" width="35.6" height="0.81" fill="#f8e6b0" stroke="#8a7e84" stroke-width="0.45"/><rect x="36.8" y="732.83" width="35.6" height="11.77" fill="#dbb1b8" stroke="#8a7e84" stroke-width="0.45"/><rect x="36.8" y="744.60" width="35.6" height="7.98" fill="#bbdfdb" stroke="#8a7e84" stroke-width="0.45"/><rect x="36.8" y="752.58" width="35.6" height="0.25" fill="#e6e8d0" stroke="#8a7e84" stroke-width="0.45"/><rect x="36.8" y="752.82" width="35.6" height="11.87" fill="#d0e6b3" stroke="#8a7e84" stroke-width="0.45"/><rect x="36.8" y="764.69" width="35.6" height="1.50" fill="#f4acb3" stroke="#8a7e84" stroke-width="0.45"/><rect x="36.8" y="766.19" width="35.6" height="9.97" fill="#fbedac" stroke="#8a7e84" stroke-width="0.45"/><rect x="36.8" y="776.16" width="35.6" height="0.70" fill="#ede6d7" stroke="#8a7e84" stroke-width="0.45"/><rect x="36.8" y="776.86" width="35.6" height="7.08" fill="#faf3ec" stroke="#8a7e84" stroke-width="0.45"/><rect x="36.8" y="783.94" width="35.6" height="0.51" fill="#f8d7be" stroke="#8a7e84" stroke-width="0.45"/><rect x="36.8" y="784.44" width="35.6" height="0.51" fill="#b0d7bb" stroke="#8a7e84" stroke-width="0.45"/></g>
<g><rect x="153.5" y="579.14" width="35.6" height="0.28" fill="#d5d0be"/><rect x="153.5" y="612.53" width="35.6" height="0.02" fill="#d5d0be"/><rect x="153.5" y="659.84" width="35.6" height="0.19" fill="#d5d0be"/><rect x="153.5" y="704.46" width="35.6" height="0.42" fill="#d5d0be"/><rect x="153.5" y="579.42" width="35.6" height="2.50" fill="#f8f2f3"/><rect x="153.5" y="649.72" width="35.6" height="1.90" fill="#f8f2f3"/><rect x="153.5" y="660.02" width="35.6" height="1.05" fill="#f8f2f3"/><rect x="153.5" y="684.32" width="35.6" height="0.00" fill="#f8f2f3"/><rect x="153.5" y="704.88" width="35.6" height="0.97" fill="#f8f2f3"/><rect x="153.5" y="761.58" width="35.6" height="0.47" fill="#f8f2f3"/><rect x="153.5" y="773.62" width="35.6" height="0.07" fill="#f8f2f3"/><rect x="153.5" y="612.55" width="35.6" height="0.05" fill="#f0bfda"/><rect x="153.5" y="615.11" width="35.6" height="0.08" fill="#f0bfda"/><rect x="153.5" y="651.62" width="35.6" height="0.30" fill="#f0bfda"/><rect x="153.5" y="661.07" width="35.6" height="0.09" fill="#f0bfda"/><rect x="153.5" y="705.85" width="35.6" height="1.51" fill="#f0bfda"/><rect x="153.5" y="725.45" width="35.6" height="0.14" fill="#f0bfda"/><rect x="153.5" y="735.88" width="35.6" height="1.04" fill="#f0bfda"/><rect x="153.5" y="762.05" width="35.6" height="0.12" fill="#f0bfda"/><rect x="153.5" y="773.69" width="35.6" height="0.06" fill="#f0bfda"/><rect x="153.5" y="599.99" width="35.6" height="1.57" fill="#fadca9"/><rect x="153.5" y="615.19" width="35.6" height="0.26" fill="#fadca9"/><rect x="153.5" y="651.92" width="35.6" height="1.59" fill="#fadca9"/><rect x="153.5" y="661.16" width="35.6" height="0.24" fill="#fadca9"/><rect x="153.5" y="725.59" width="35.6" height="1.30" fill="#fadca9"/><rect x="153.5" y="762.16" width="35.6" height="0.29" fill="#fadca9"/><rect x="153.5" y="773.75" width="35.6" height="0.07" fill="#fadca9"/><rect x="153.5" y="707.37" width="35.6" height="0.10" fill="#aba7d5"/><rect x="153.5" y="762.45" width="35.6" height="0.10" fill="#aba7d5"/><rect x="153.5" y="601.56" width="35.6" height="0.48" fill="#b6e3e9"/><rect x="153.5" y="653.51" width="35.6" height="0.19" fill="#b6e3e9"/><rect x="153.5" y="707.47" width="35.6" height="0.63" fill="#b6e3e9"/><rect x="153.5" y="726.89" width="35.6" height="0.10" fill="#b6e3e9"/><rect x="153.5" y="762.55" width="35.6" height="1.57" fill="#b6e3e9"/><rect x="153.5" y="602.04" width="35.6" height="0.00" fill="#f3c4c0"/><rect x="153.5" y="620.97" width="35.6" height="0.00" fill="#f3c4c0"/><rect x="153.5" y="708.09" width="35.6" height="0.00" fill="#f3c4c0"/><rect x="153.5" y="764.11" width="35.6" height="0.00" fill="#f3c4c0"/><rect x="153.5" y="773.81" width="35.6" height="0.00" fill="#f3c4c0"/><rect x="153.5" y="602.04" width="35.6" height="1.18" fill="#d5ecd9"/><rect x="153.5" y="648.50" width="35.6" height="0.58" fill="#d5ecd9"/><rect x="153.5" y="708.09" width="35.6" height="1.54" fill="#d5ecd9"/><rect x="153.5" y="726.99" width="35.6" height="0.60" fill="#d5ecd9"/><rect x="153.5" y="736.92" width="35.6" height="0.35" fill="#d5ecd9"/><rect x="153.5" y="773.81" width="35.6" height="0.07" fill="#d5ecd9"/><rect x="153.5" y="613.75" width="35.6" height="0.08" fill="#e4b2bf"/><rect x="153.5" y="620.97" width="35.6" height="0.07" fill="#e4b2bf"/><rect x="153.5" y="709.63" width="35.6" height="0.42" fill="#e4b2bf"/><rect x="153.5" y="727.59" width="35.6" height="0.17" fill="#e4b2bf"/><rect x="153.5" y="737.27" width="35.6" height="0.27" fill="#e4b2bf"/><rect x="153.5" y="613.84" width="35.6" height="1.22" fill="#d9c6bd"/><rect x="153.5" y="727.76" width="35.6" height="0.11" fill="#e4ecf7"/><rect x="153.5" y="764.11" width="35.6" height="0.05" fill="#e4ecf7"/><rect x="153.5" y="576.14" width="35.6" height="2.19" fill="#f3e2f3"/><rect x="153.5" y="603.22" width="35.6" height="4.39" fill="#f3e2f3"/><rect x="153.5" y="621.03" width="35.6" height="0.17" fill="#f3e2f3"/><rect x="153.5" y="680.54" width="35.6" height="1.76" fill="#f3e2f3"/><rect x="153.5" y="703.78" width="35.6" height="0.68" fill="#f3e2f3"/><rect x="153.5" y="751.56" width="35.6" height="0.63" fill="#f3e2f3"/><rect x="153.5" y="773.88" width="35.6" height="0.26" fill="#f3e2f3"/><rect x="153.5" y="607.61" width="35.6" height="0.35" fill="#beb2dc"/><rect x="153.5" y="607.96" width="35.6" height="1.47" fill="#f0d1a3"/><rect x="153.5" y="621.21" width="35.6" height="0.21" fill="#f0d1a3"/><rect x="153.5" y="721.70" width="35.6" height="0.14" fill="#f0d1a3"/><rect x="153.5" y="737.54" width="35.6" height="0.32" fill="#f0d1a3"/><rect x="153.5" y="609.42" width="35.6" height="0.47" fill="#d1d2e4"/><rect x="153.5" y="621.42" width="35.6" height="0.20" fill="#d1d2e4"/><rect x="153.5" y="659.44" width="35.6" height="0.14" fill="#d1d2e4"/><rect x="153.5" y="682.31" width="35.6" height="0.47" fill="#d1d2e4"/><rect x="153.5" y="721.84" width="35.6" height="2.74" fill="#d1d2e4"/><rect x="153.5" y="737.86" width="35.6" height="0.31" fill="#d1d2e4"/><rect x="153.5" y="774.14" width="35.6" height="0.05" fill="#d1d2e4"/><rect x="153.5" y="615.06" width="35.6" height="0.00" fill="#f7e4ab"/><rect x="153.5" y="649.08" width="35.6" height="0.63" fill="#d9abb3"/><rect x="153.5" y="682.78" width="35.6" height="0.37" fill="#d9abb3"/><rect x="153.5" y="764.17" width="35.6" height="0.20" fill="#d9abb3"/><rect x="153.5" y="621.62" width="35.6" height="0.06" fill="#b6dcd9"/><rect x="153.5" y="733.11" width="35.6" height="0.09" fill="#b6dcd9"/><rect x="153.5" y="609.89" width="35.6" height="0.01" fill="#e4e6cd"/><rect x="153.5" y="615.06" width="35.6" height="0.00" fill="#e4e6cd"/><rect x="153.5" y="621.67" width="35.6" height="0.00" fill="#e4e6cd"/><rect x="153.5" y="724.58" width="35.6" height="0.01" fill="#e4e6cd"/><rect x="153.5" y="764.36" width="35.6" height="0.02" fill="#e4e6cd"/><rect x="153.5" y="609.91" width="35.6" height="0.80" fill="#cde4ae"/><rect x="153.5" y="621.68" width="35.6" height="1.96" fill="#cde4ae"/><rect x="153.5" y="683.15" width="35.6" height="0.10" fill="#cde4ae"/><rect x="153.5" y="724.59" width="35.6" height="0.78" fill="#cde4ae"/><rect x="153.5" y="748.73" width="35.6" height="0.33" fill="#cde4ae"/><rect x="153.5" y="659.58" width="35.6" height="0.01" fill="#f3a7ae"/><rect x="153.5" y="760.02" width="35.6" height="0.17" fill="#f3a7ae"/><rect x="153.5" y="610.71" width="35.6" height="0.19" fill="#fbeca7"/><rect x="153.5" y="623.63" width="35.6" height="0.08" fill="#fbeca7"/><rect x="153.5" y="659.60" width="35.6" height="0.24" fill="#fbeca7"/><rect x="153.5" y="733.20" width="35.6" height="0.20" fill="#fbeca7"/><rect x="153.5" y="749.06" width="35.6" height="1.84" fill="#fbeca7"/><rect x="153.5" y="610.90" width="35.6" height="0.03" fill="#ece4d5"/><rect x="153.5" y="615.06" width="35.6" height="0.00" fill="#ece4d5"/><rect x="153.5" y="725.37" width="35.6" height="0.04" fill="#ece4d5"/><rect x="153.5" y="733.40" width="35.6" height="0.01" fill="#ece4d5"/><rect x="153.5" y="750.90" width="35.6" height="0.01" fill="#ece4d5"/><rect x="153.5" y="772.30" width="35.6" height="0.01" fill="#ece4d5"/><rect x="153.5" y="781.61" width="35.6" height="0.00" fill="#ece4d5"/><rect x="153.5" y="610.93" width="35.6" height="1.60" fill="#faf3eb"/><rect x="153.5" y="683.25" width="35.6" height="1.07" fill="#faf3eb"/><rect x="153.5" y="733.41" width="35.6" height="0.85" fill="#faf3eb"/><rect x="153.5" y="750.90" width="35.6" height="0.66" fill="#faf3eb"/><rect x="153.5" y="760.18" width="35.6" height="1.19" fill="#faf3eb"/><rect x="153.5" y="781.62" width="35.6" height="0.70" fill="#faf3eb"/><rect x="153.5" y="612.53" width="35.6" height="0.00" fill="#f7d5ba"/><rect x="153.5" y="751.56" width="35.6" height="0.00" fill="#f7d5ba"/><rect x="153.5" y="761.37" width="35.6" height="0.00" fill="#f7d5ba"/><rect x="153.5" y="782.32" width="35.6" height="0.00" fill="#f7d5ba"/><rect x="153.5" y="575.70" width="35.6" height="0.44" fill="#d5d0be"/><rect x="153.5" y="578.33" width="35.6" height="0.81" fill="#f8f2f3"/><rect x="153.5" y="581.92" width="35.6" height="18.07" fill="#f0bfda"/><rect x="153.5" y="612.60" width="35.6" height="1.15" fill="#fadca9"/><rect x="153.5" y="615.06" width="35.6" height="0.05" fill="#aba7d5"/><rect x="153.5" y="615.45" width="35.6" height="5.52" fill="#b6e3e9"/><rect x="153.5" y="623.71" width="35.6" height="10.73" fill="#f3c4c0"/><rect x="153.5" y="634.44" width="35.6" height="14.06" fill="#b6d6f0"/><rect x="153.5" y="653.70" width="35.6" height="5.74" fill="#d5ecd9"/><rect x="153.5" y="661.40" width="35.6" height="19.14" fill="#e4b2bf"/><rect x="153.5" y="684.32" width="35.6" height="12.24" fill="#d9c6bd"/><rect x="153.5" y="696.57" width="35.6" height="7.21" fill="#e4ecf7"/><rect x="153.5" y="710.04" width="35.6" height="11.66" fill="#f3e2f3"/><rect x="153.5" y="725.40" width="35.6" height="0.05" fill="#beb2dc"/><rect x="153.5" y="727.88" width="35.6" height="5.23" fill="#f0d1a3"/><rect x="153.5" y="734.26" width="35.6" height="0.81" fill="#d1d2e4"/><rect x="153.5" y="735.07" width="35.6" height="0.81" fill="#f7e4ab"/><rect x="153.5" y="738.17" width="35.6" height="10.56" fill="#d9abb3"/><rect x="153.5" y="752.19" width="35.6" height="7.83" fill="#b6dcd9"/><rect x="153.5" y="761.37" width="35.6" height="0.20" fill="#e4e6cd"/><rect x="153.5" y="764.39" width="35.6" height="7.91" fill="#cde4ae"/><rect x="153.5" y="772.30" width="35.6" height="1.32" fill="#f3a7ae"/><rect x="153.5" y="774.19" width="35.6" height="7.42" fill="#fbeca7"/><rect x="153.5" y="782.32" width="35.6" height="0.61" fill="#ece4d5"/><rect x="153.5" y="782.93" width="35.6" height="1.01" fill="#faf3eb"/><rect x="153.5" y="783.94" width="35.6" height="0.51" fill="#f7d5ba"/><rect x="153.5" y="784.44" width="35.6" height="0.51" fill="#abd5b6"/></g>
<g><rect x="153.5" y="575.70" width="35.6" height="2.63" fill="none" stroke="#8a7e84" stroke-width="0.45"/><rect x="153.5" y="578.33" width="35.6" height="0.81" fill="none" stroke="#8a7e84" stroke-width="0.45"/><rect x="153.5" y="579.14" width="35.6" height="33.39" fill="none" stroke="#8a7e84" stroke-width="0.45"/><rect x="153.5" y="612.53" width="35.6" height="2.53" fill="none" stroke="#8a7e84" stroke-width="0.45"/><rect x="153.5" y="615.06" width="35.6" height="0.05" fill="none" stroke="#8a7e84" stroke-width="0.45"/><rect x="153.5" y="615.11" width="35.6" height="8.60" fill="none" stroke="#8a7e84" stroke-width="0.45"/><rect x="153.5" y="623.71" width="35.6" height="10.73" fill="none" stroke="#8a7e84" stroke-width="0.45"/><rect x="153.5" y="634.44" width="35.6" height="15.28" fill="none" stroke="#8a7e84" stroke-width="0.45"/><rect x="153.5" y="649.72" width="35.6" height="10.12" fill="none" stroke="#8a7e84" stroke-width="0.45"/><rect x="153.5" y="659.84" width="35.6" height="24.49" fill="none" stroke="#8a7e84" stroke-width="0.45"/><rect x="153.5" y="684.32" width="35.6" height="12.24" fill="none" stroke="#8a7e84" stroke-width="0.45"/><rect x="153.5" y="696.57" width="35.6" height="7.89" fill="none" stroke="#8a7e84" stroke-width="0.45"/><rect x="153.5" y="704.46" width="35.6" height="20.95" fill="none" stroke="#8a7e84" stroke-width="0.45"/><rect x="153.5" y="725.40" width="35.6" height="0.05" fill="none" stroke="#8a7e84" stroke-width="0.45"/><rect x="153.5" y="725.45" width="35.6" height="8.80" fill="none" stroke="#8a7e84" stroke-width="0.45"/><rect x="153.5" y="734.26" width="35.6" height="0.81" fill="none" stroke="#8a7e84" stroke-width="0.45"/><rect x="153.5" y="735.07" width="35.6" height="0.81" fill="none" stroke="#8a7e84" stroke-width="0.45"/><rect x="153.5" y="735.88" width="35.6" height="15.68" fill="none" stroke="#8a7e84" stroke-width="0.45"/><rect x="153.5" y="751.56" width="35.6" height="9.81" fill="none" stroke="#8a7e84" stroke-width="0.45"/><rect x="153.5" y="761.37" width="35.6" height="0.20" fill="none" stroke="#8a7e84" stroke-width="0.45"/><rect x="153.5" y="761.58" width="35.6" height="10.73" fill="none" stroke="#8a7e84" stroke-width="0.45"/><rect x="153.5" y="772.30" width="35.6" height="1.32" fill="none" stroke="#8a7e84" stroke-width="0.45"/><rect x="153.5" y="773.62" width="35.6" height="8.70" fill="none" stroke="#8a7e84" stroke-width="0.45"/><rect x="153.5" y="782.32" width="35.6" height="0.61" fill="none" stroke="#8a7e84" stroke-width="0.45"/><rect x="153.5" y="782.93" width="35.6" height="1.01" fill="none" stroke="#8a7e84" stroke-width="0.45"/><rect x="153.5" y="783.94" width="35.6" height="0.51" fill="none" stroke="#8a7e84" stroke-width="0.45"/><rect x="153.5" y="784.44" width="35.6" height="0.51" fill="none" stroke="#8a7e84" stroke-width="0.45"/></g>
<rect x="36.8" y="575.7" width="35.6" height="209.2" fill="none" stroke="#9a9696" stroke-width="0.6"/>
<rect x="153.5" y="575.7" width="35.6" height="209.2" fill="none" stroke="#9a9696" stroke-width="0.6"/>
<g fill="#3a3a3a"><text x="54.6" y="583.5" text-anchor="middle" font-size="7.48">BLCA</text><text x="54.6" y="598.1" text-anchor="middle" font-size="7.48">BRCA</text><text x="54.6" y="612.1" text-anchor="middle" font-size="7.48">CESC</text><text x="54.6" y="619.7" text-anchor="middle" font-size="6.35">COADREAD</text><text x="54.6" y="629.4" text-anchor="middle" font-size="7.48">DLBC</text><text x="54.6" y="641.8" text-anchor="middle" font-size="7.48">GBMLGG</text><text x="54.6" y="653.9" text-anchor="middle" font-size="7.48">HNSC</text><text x="54.6" y="669.0" text-anchor="middle" font-size="7.48">KIDNEY</text><text x="54.6" y="685.8" text-anchor="middle" font-size="7.48">LAML</text><text x="54.6" y="696.2" text-anchor="middle" font-size="7.48">LIHC</text><text x="54.6" y="710.8" text-anchor="middle" font-size="7.48">LUNG</text><text x="54.6" y="725.7" text-anchor="middle" font-size="7.48">OV</text><text x="54.6" y="732.0" text-anchor="middle" font-size="7.48">PAAD</text><text x="54.6" y="741.3" text-anchor="middle" font-size="7.48">PRAD</text><text x="54.6" y="751.2" text-anchor="middle" font-size="7.48">SARC</text><text x="54.6" y="761.4" text-anchor="middle" font-size="7.48">STES</text><text x="54.6" y="773.8" text-anchor="middle" font-size="7.48">THCA</text><text x="54.6" y="783.0" text-anchor="middle" font-size="7.48">UCEC</text></g>
<g fill="#3a3a3a"><text x="171.3" y="598.4" text-anchor="middle" font-size="7.48">BRCA</text><text x="171.3" y="621.9" text-anchor="middle" font-size="6.35">COADREAD</text><text x="171.3" y="631.7" text-anchor="middle" font-size="7.48">DLBC</text><text x="171.3" y="644.7" text-anchor="middle" font-size="7.48">GBMLGG</text><text x="171.3" y="657.4" text-anchor="middle" font-size="7.48">HNSC</text><text x="171.3" y="674.7" text-anchor="middle" font-size="7.48">KIDNEY</text><text x="171.3" y="693.0" text-anchor="middle" font-size="7.48">LAML</text><text x="171.3" y="703.1" text-anchor="middle" font-size="7.48">LIHC</text><text x="171.3" y="717.5" text-anchor="middle" font-size="7.48">LUNG</text><text x="171.3" y="732.5" text-anchor="middle" font-size="7.48">OV</text><text x="171.3" y="746.3" text-anchor="middle" font-size="7.48">PRAD</text><text x="171.3" y="759.1" text-anchor="middle" font-size="7.48">SARC</text><text x="171.3" y="769.5" text-anchor="middle" font-size="7.48">STES</text><text x="171.3" y="780.6" text-anchor="middle" font-size="7.48">THCA</text></g>
<path d="M36.8,576.4L25.5,576.5M36.8,612.9L25.5,612.8M36.8,719.3L25.5,718.6M36.8,732.4L25.5,729.4M36.8,752.7L25.5,739.3M36.8,765.4L25.5,750.5M36.8,776.5L25.5,763.5M36.8,784.2L25.5,775.3M36.8,784.7L25.5,786.3" stroke="#333" stroke-width="0.8" fill="none"/>
<g font-size="7.89" fill="#262626"><text x="24.3" y="579.1" text-anchor="end">ACC</text><text x="24.3" y="615.4" text-anchor="end">CHOL</text><text x="24.3" y="721.2" text-anchor="end">MESO</text><text x="24.3" y="732.0" text-anchor="end">PCPG</text><text x="24.3" y="741.9" text-anchor="end">SKCM</text><text x="24.3" y="753.1" text-anchor="end">TGCT</text><text x="24.3" y="766.1" text-anchor="end">THYM</text><text x="24.3" y="777.9" text-anchor="end">UCS</text><text x="24.3" y="788.9" text-anchor="end">UVM</text></g>
<path d="M189.1,577.0L200.2,576.0M189.1,578.7L200.2,587.3M189.1,613.8L200.2,612.8M189.1,734.7L200.2,717.3M189.1,735.5L200.2,727.7M189.1,761.5L200.2,739.0M189.1,773.0L200.2,750.0M189.1,782.6L200.2,760.5M189.1,783.4L200.2,771.0M189.1,784.2L200.2,781.3M189.1,784.7L200.2,791.7" stroke="#333" stroke-width="0.8" fill="none"/>
<g font-size="7.89" fill="#262626"><text x="201.4" y="578.6">ACC</text><text x="201.4" y="589.9">BLCA</text><text x="201.4" y="615.4">CESC</text><text x="201.4" y="719.9">PAAD</text><text x="201.4" y="730.3">PCPG</text><text x="201.4" y="741.6">SKCM</text><text x="201.4" y="752.6">TGCT</text><text x="201.4" y="763.1">THYM</text><text x="201.4" y="773.6">UCEC</text><text x="201.4" y="783.9">UCS</text><text x="201.4" y="794.3">UVM</text></g>
</svg></body></html>
